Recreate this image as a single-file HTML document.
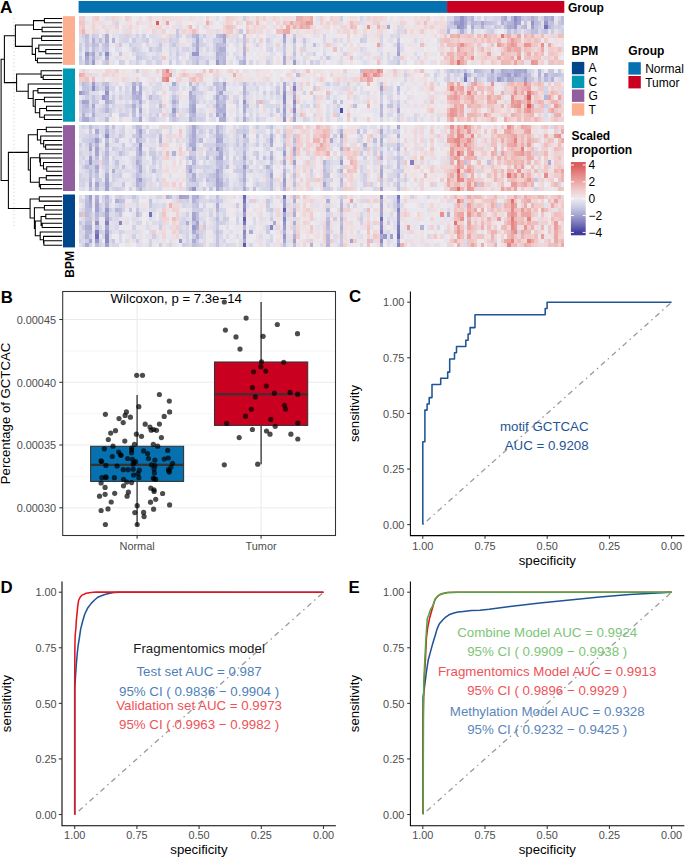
<!DOCTYPE html><html><head><meta charset="utf-8"><style>html,body{margin:0;padding:0;background:#fff;width:685px;height:858px;overflow:hidden}svg{display:block}text{font-family:"Liberation Sans", sans-serif}</style></head><body>
<svg width="685" height="858" viewBox="0 0 685 858">
<rect width="685" height="858" fill="#fff"/>
<text x="-0.10" y="12.60" font-size="17.20" text-anchor="start" fill="#000" font-weight="bold">A</text>
<rect x="78.60" y="1.0" width="368.46" height="11.85" fill="#0571b0"/>
<rect x="447.06" y="1.0" width="117.24" height="11.85" fill="#ca0020"/>
<text x="567.90" y="11.90" font-size="12.00" text-anchor="start" fill="#000" font-weight="bold">Group</text>
<rect x="63.0" y="16.20" width="12.0" height="48.70" fill="#fdaf91"/>
<rect x="63.0" y="68.50" width="12.0" height="53.20" fill="#0099b4"/>
<rect x="63.0" y="125.10" width="12.0" height="65.90" fill="#925e9f"/>
<rect x="63.0" y="194.50" width="12.0" height="52.90" fill="#00468b"/>
<g transform="translate(78.60,16.20) scale(3.3497,4.4273)" shape-rendering="crispEdges">
<path fill="#7472b8" d="M139 2h1v1h-1z"/>
<path fill="#8b8ac3" d="M130 0h1v1h-1zM8 8h1v1h-1z"/>
<path fill="#908fc5" d="M113 2h1v1h-1z"/>
<path fill="#9494c7" d="M114 0h1v1h-1zM114 1h1v1h-1zM130 1h1v1h-1zM135 1h1v1h-1zM139 1h1v1h-1zM2 8h1v1h-1z"/>
<path fill="#9998ca" d="M114 2h1v1h-1zM130 2h1v1h-1zM34 8h2v1h-2zM41 10h1v1h-1z"/>
<path fill="#9d9dcc" d="M4 10h1v1h-1zM64 10h1v1h-1z"/>
<path fill="#a2a2ce" d="M131 0h1v1h-1zM112 1h2v1h-2zM135 2h1v1h-1zM61 4h1v1h-1zM95 8h1v1h-1z"/>
<path fill="#a6a6d0" d="M127 0h1v1h-1zM141 0h1v1h-1zM120 1h1v1h-1zM131 1h1v1h-1zM92 2h1v1h-1zM43 4h1v1h-1zM43 5h1v1h-1zM35 7h1v1h-1zM4 8h1v1h-1zM2 9h1v1h-1z"/>
<path fill="#aaaad2" d="M139 0h1v1h-1zM115 1h1v1h-1zM117 2h1v1h-1zM128 2h1v1h-1zM35 5h1v1h-1zM61 5h1v1h-1zM8 9h1v1h-1zM61 9h1v1h-1z"/>
<path fill="#aeaed5" d="M115 0h1v1h-1zM135 0h1v1h-1zM129 2h1v1h-1zM114 3h1v1h-1zM8 4h1v1h-1zM8 5h1v1h-1zM35 6h1v1h-1zM42 7h2v1h-2zM95 7h1v1h-1zM41 8h1v1h-1zM49 10h1v1h-1zM61 10h1v1h-1z"/>
<path fill="#b2b2d7" d="M117 0h1v1h-1zM129 0h1v1h-1zM126 1h1v1h-1zM129 1h1v1h-1zM115 2h1v1h-1zM120 2h1v1h-1zM35 4h1v1h-1zM4 5h1v1h-1zM10 5h1v1h-1zM95 6h1v1h-1zM49 8h1v1h-1zM4 9h1v1h-1zM41 9h1v1h-1zM2 10h1v1h-1zM43 10h1v1h-1z"/>
<path fill="#b6b6d9" d="M112 0h2v1h-2zM126 0h1v1h-1zM140 0h1v1h-1zM117 1h1v1h-1zM128 1h1v1h-1zM133 2h1v1h-1zM140 2h1v1h-1zM110 3h1v1h-1zM42 4h1v1h-1zM64 5h1v1h-1zM49 7h1v1h-1zM42 8h1v1h-1zM43 9h1v1h-1z"/>
<path fill="#bbbbdb" d="M144 0h1v1h-1zM118 1h1v1h-1zM136 1h1v1h-1zM34 4h1v1h-1zM4 6h1v1h-1zM8 6h1v1h-1zM41 6h1v1h-1zM41 7h1v1h-1zM3 8h1v1h-1zM6 8h1v1h-1zM43 8h1v1h-1zM48 10h1v1h-1z"/>
<path fill="#bfbfdd" d="M136 0h1v1h-1zM121 1h1v1h-1zM141 1h1v1h-1zM144 1h1v1h-1zM127 2h1v1h-1zM132 2h1v1h-1zM135 3h2v1h-2zM2 4h1v1h-1zM41 4h1v1h-1zM49 4h1v1h-1zM6 5h1v1h-1zM42 6h2v1h-2zM49 6h1v1h-1zM70 6h1v1h-1zM4 7h1v1h-1zM42 9h1v1h-1zM49 9h1v1h-1zM35 10h1v1h-1zM42 10h1v1h-1z"/>
<path fill="#c3c3e0" d="M116 0h1v1h-1zM132 0h1v1h-1zM134 0h1v1h-1zM111 1h1v1h-1zM119 1h1v1h-1zM122 1h1v1h-1zM133 1h1v1h-1zM137 1h1v1h-1zM140 1h1v1h-1zM136 2h1v1h-1zM117 3h1v1h-1zM128 3h1v1h-1zM130 3h1v1h-1zM139 3h1v1h-1zM2 5h1v1h-1zM49 5h1v1h-1zM95 5h1v1h-1zM2 6h1v1h-1zM5 6h1v1h-1zM34 6h1v1h-1zM61 6h1v1h-1zM8 7h1v1h-1zM61 8h1v1h-1zM64 8h1v1h-1zM8 10h1v1h-1zM38 10h1v1h-1z"/>
<path fill="#c7c7e2" d="M123 1h1v1h-1zM127 1h1v1h-1zM143 1h1v1h-1zM110 2h1v1h-1zM112 2h1v1h-1zM124 2h1v1h-1zM141 2h1v1h-1zM29 3h1v1h-1zM48 3h1v1h-1zM29 4h1v1h-1zM64 4h1v1h-1zM67 5h1v1h-1zM7 6h1v1h-1zM24 6h1v1h-1zM28 6h1v1h-1zM2 7h1v1h-1zM21 7h1v1h-1zM61 7h1v1h-1zM12 8h1v1h-1zM0 9h1v1h-1zM17 9h1v1h-1zM35 9h1v1h-1zM74 9h1v1h-1zM95 10h1v1h-1z"/>
<path fill="#cbcbe4" d="M133 0h1v1h-1zM124 1h1v1h-1zM111 2h1v1h-1zM125 2h1v1h-1zM143 2h1v1h-1zM123 3h1v1h-1zM138 3h1v1h-1zM141 3h1v1h-1zM4 4h1v1h-1zM16 5h1v1h-1zM20 5h1v1h-1zM42 5h1v1h-1zM84 5h1v1h-1zM12 6h1v1h-1zM0 7h1v1h-1zM7 7h1v1h-1zM16 7h1v1h-1zM24 7h1v1h-1zM64 7h1v1h-1zM29 8h1v1h-1zM18 9h1v1h-1zM34 9h1v1h-1zM27 10h1v1h-1zM34 10h1v1h-1zM69 10h1v1h-1z"/>
<path fill="#cecee5" d="M49 0h1v1h-1zM78 0h1v1h-1zM116 1h1v1h-1zM119 2h1v1h-1zM137 2h1v1h-1zM134 3h1v1h-1zM144 3h1v1h-1zM1 4h1v1h-1zM19 4h1v1h-1zM37 4h1v1h-1zM27 5h1v1h-1zM40 5h1v1h-1zM56 5h1v1h-1zM0 6h1v1h-1zM15 6h1v1h-1zM64 6h1v1h-1zM23 7h1v1h-1zM17 8h1v1h-1zM64 9h1v1h-1zM0 10h1v1h-1zM3 10h1v1h-1zM12 10h1v1h-1zM17 10h1v1h-1zM23 10h1v1h-1zM56 10h1v1h-1z"/>
<path fill="#d2d1e6" d="M121 0h1v1h-1zM124 0h1v1h-1zM138 0h1v1h-1zM110 1h1v1h-1zM118 2h1v1h-1zM121 2h1v1h-1zM142 2h1v1h-1zM115 3h1v1h-1zM122 3h1v1h-1zM5 4h1v1h-1zM14 4h1v1h-1zM17 4h1v1h-1zM14 5h1v1h-1zM29 5h1v1h-1zM36 5h1v1h-1zM41 5h1v1h-1zM85 5h1v1h-1zM3 6h1v1h-1zM36 6h1v1h-1zM40 6h1v1h-1zM53 6h1v1h-1zM67 6h1v1h-1zM5 7h1v1h-1zM17 7h1v1h-1zM29 7h1v1h-1zM32 7h1v1h-1zM34 7h1v1h-1zM40 7h1v1h-1zM57 7h1v1h-1zM70 8h1v1h-1zM79 8h1v1h-1zM3 9h1v1h-1zM22 9h1v1h-1zM29 9h1v1h-1zM33 9h1v1h-1zM36 9h1v1h-1zM47 9h1v1h-1zM95 9h1v1h-1zM7 10h1v1h-1zM13 10h1v1h-1zM20 10h1v1h-1zM24 10h1v1h-1zM29 10h1v1h-1zM71 10h1v1h-1z"/>
<path fill="#d6d5e8" d="M84 0h1v1h-1zM125 0h1v1h-1zM143 0h1v1h-1zM11 1h1v1h-1zM122 2h1v1h-1zM131 2h1v1h-1zM95 3h1v1h-1zM113 3h1v1h-1zM131 3h1v1h-1zM133 3h1v1h-1zM7 4h1v1h-1zM32 4h2v1h-2zM73 4h1v1h-1zM90 4h1v1h-1zM95 4h1v1h-1zM5 5h1v1h-1zM13 5h1v1h-1zM19 5h1v1h-1zM28 5h1v1h-1zM34 5h1v1h-1zM47 5h1v1h-1zM90 5h1v1h-1zM27 6h1v1h-1zM37 6h1v1h-1zM90 6h1v1h-1zM31 7h1v1h-1zM38 7h1v1h-1zM67 7h1v1h-1zM18 8h1v1h-1zM27 8h1v1h-1zM5 9h1v1h-1zM19 9h1v1h-1zM23 9h1v1h-1zM94 9h1v1h-1zM21 10h1v1h-1zM32 10h1v1h-1zM51 10h1v1h-1zM93 10h2v1h-2z"/>
<path fill="#d9d8e9" d="M110 0h2v1h-2zM119 0h1v1h-1zM123 0h1v1h-1zM128 0h1v1h-1zM95 2h1v1h-1zM144 2h1v1h-1zM129 3h1v1h-1zM137 3h1v1h-1zM143 3h1v1h-1zM12 4h2v1h-2zM15 4h1v1h-1zM30 4h1v1h-1zM85 4h1v1h-1zM93 4h1v1h-1zM1 5h1v1h-1zM12 5h1v1h-1zM24 5h1v1h-1zM73 5h1v1h-1zM76 5h1v1h-1zM16 6h2v1h-2zM20 6h1v1h-1zM29 6h1v1h-1zM94 6h1v1h-1zM22 7h1v1h-1zM27 7h1v1h-1zM56 7h1v1h-1zM84 7h1v1h-1zM0 8h1v1h-1zM19 8h1v1h-1zM23 8h1v1h-1zM33 8h1v1h-1zM73 8h1v1h-1zM90 8h1v1h-1zM92 8h1v1h-1zM37 9h1v1h-1zM63 9h1v1h-1zM92 9h1v1h-1zM101 9h1v1h-1zM1 10h1v1h-1zM15 10h1v1h-1zM37 10h1v1h-1zM67 10h1v1h-1z"/>
<path fill="#dcdbea" d="M122 0h1v1h-1zM137 0h1v1h-1zM10 1h1v1h-1zM35 2h1v1h-1zM96 2h1v1h-1zM126 2h1v1h-1zM138 2h1v1h-1zM41 3h1v1h-1zM96 3h1v1h-1zM109 3h1v1h-1zM0 4h1v1h-1zM21 4h2v1h-2zM28 4h1v1h-1zM36 4h1v1h-1zM47 4h1v1h-1zM94 4h1v1h-1zM7 5h1v1h-1zM17 5h2v1h-2zM23 5h1v1h-1zM52 5h1v1h-1zM78 5h1v1h-1zM100 5h1v1h-1zM107 5h1v1h-1zM18 6h1v1h-1zM23 6h1v1h-1zM47 6h1v1h-1zM56 6h1v1h-1zM11 7h1v1h-1zM18 7h1v1h-1zM36 7h1v1h-1zM78 7h1v1h-1zM96 7h1v1h-1zM5 8h1v1h-1zM9 8h1v1h-1zM16 8h1v1h-1zM30 8h1v1h-1zM46 8h1v1h-1zM66 8h1v1h-1zM68 8h1v1h-1zM100 8h1v1h-1zM6 9h1v1h-1zM20 9h1v1h-1zM24 9h1v1h-1zM27 9h1v1h-1zM38 9h1v1h-1zM40 9h1v1h-1zM56 9h2v1h-2zM67 9h1v1h-1zM72 9h1v1h-1zM84 9h1v1h-1zM90 9h1v1h-1zM30 10h1v1h-1zM33 10h1v1h-1zM36 10h1v1h-1zM53 10h1v1h-1zM57 10h1v1h-1zM70 10h1v1h-1zM78 10h1v1h-1zM85 10h1v1h-1zM92 10h1v1h-1z"/>
<path fill="#e0deeb" d="M8 0h1v1h-1zM41 0h1v1h-1zM71 0h1v1h-1zM78 1h1v1h-1zM84 1h1v1h-1zM138 1h1v1h-1zM30 2h1v1h-1zM37 2h1v1h-1zM123 2h1v1h-1zM121 3h1v1h-1zM3 4h1v1h-1zM10 4h1v1h-1zM16 4h1v1h-1zM23 4h1v1h-1zM58 4h1v1h-1zM0 5h1v1h-1zM3 5h1v1h-1zM22 5h1v1h-1zM26 5h1v1h-1zM38 5h1v1h-1zM45 5h1v1h-1zM48 5h1v1h-1zM57 5h1v1h-1zM93 5h1v1h-1zM1 6h1v1h-1zM38 6h1v1h-1zM44 6h1v1h-1zM57 6h1v1h-1zM73 6h1v1h-1zM79 6h1v1h-1zM6 7h1v1h-1zM15 7h1v1h-1zM28 7h1v1h-1zM33 7h1v1h-1zM47 7h1v1h-1zM59 7h2v1h-2zM73 7h1v1h-1zM85 7h1v1h-1zM89 7h1v1h-1zM24 8h1v1h-1zM31 8h1v1h-1zM40 8h1v1h-1zM44 8h1v1h-1zM47 8h1v1h-1zM57 8h1v1h-1zM69 8h1v1h-1zM85 8h1v1h-1zM11 9h1v1h-1zM28 9h1v1h-1zM39 9h1v1h-1zM48 9h1v1h-1zM88 9h1v1h-1zM16 10h1v1h-1zM18 10h1v1h-1zM45 10h1v1h-1zM65 10h1v1h-1zM97 10h1v1h-1zM100 10h1v1h-1z"/>
<path fill="#e4e1ec" d="M85 0h1v1h-1zM118 0h1v1h-1zM2 1h1v1h-1zM57 1h1v1h-1zM85 1h1v1h-1zM92 1h1v1h-1zM125 1h1v1h-1zM142 1h1v1h-1zM8 2h1v1h-1zM14 2h1v1h-1zM29 2h1v1h-1zM11 3h1v1h-1zM13 3h1v1h-1zM40 3h1v1h-1zM119 3h1v1h-1zM124 3h1v1h-1zM127 3h1v1h-1zM132 3h1v1h-1zM140 3h1v1h-1zM142 3h1v1h-1zM11 4h1v1h-1zM18 4h1v1h-1zM24 4h1v1h-1zM38 4h2v1h-2zM45 4h1v1h-1zM53 4h1v1h-1zM56 4h2v1h-2zM65 4h1v1h-1zM70 4h2v1h-2zM32 5h2v1h-2zM39 5h1v1h-1zM46 5h1v1h-1zM60 5h1v1h-1zM63 5h1v1h-1zM66 5h1v1h-1zM68 5h1v1h-1zM92 5h1v1h-1zM6 6h1v1h-1zM21 6h2v1h-2zM25 6h1v1h-1zM30 6h1v1h-1zM33 6h1v1h-1zM46 6h1v1h-1zM52 6h1v1h-1zM71 6h1v1h-1zM76 6h1v1h-1zM96 6h1v1h-1zM103 6h1v1h-1zM118 6h1v1h-1zM120 6h1v1h-1zM144 6h1v1h-1zM3 7h1v1h-1zM12 7h1v1h-1zM30 7h1v1h-1zM39 7h1v1h-1zM90 7h1v1h-1zM107 7h1v1h-1zM7 8h1v1h-1zM20 8h1v1h-1zM22 8h1v1h-1zM28 8h1v1h-1zM36 8h3v1h-3zM58 8h1v1h-1zM84 8h1v1h-1zM21 9h1v1h-1zM31 9h1v1h-1zM75 9h1v1h-1zM83 9h1v1h-1zM5 10h1v1h-1zM10 10h1v1h-1zM22 10h1v1h-1zM47 10h1v1h-1zM73 10h1v1h-1zM77 10h1v1h-1zM86 10h1v1h-1zM90 10h1v1h-1zM105 10h1v1h-1zM133 10h2v1h-2z"/>
<path fill="#e7e5ee" d="M32 0h1v1h-1zM64 0h1v1h-1zM142 0h1v1h-1zM42 1h1v1h-1zM70 1h1v1h-1zM90 1h1v1h-1zM88 2h1v1h-1zM97 2h1v1h-1zM134 2h1v1h-1zM6 3h1v1h-1zM9 3h1v1h-1zM46 3h1v1h-1zM57 3h1v1h-1zM111 3h2v1h-2zM118 3h1v1h-1zM40 4h1v1h-1zM59 4h1v1h-1zM63 4h1v1h-1zM87 4h1v1h-1zM91 4h1v1h-1zM97 4h2v1h-2zM11 5h1v1h-1zM15 5h1v1h-1zM37 5h1v1h-1zM44 5h1v1h-1zM51 5h1v1h-1zM59 5h1v1h-1zM62 5h1v1h-1zM101 5h1v1h-1zM104 5h1v1h-1zM140 5h1v1h-1zM9 6h2v1h-2zM13 6h2v1h-2zM26 6h1v1h-1zM39 6h1v1h-1zM58 6h1v1h-1zM60 6h1v1h-1zM100 6h1v1h-1zM1 7h1v1h-1zM19 7h1v1h-1zM26 7h1v1h-1zM52 7h1v1h-1zM69 7h1v1h-1zM71 7h1v1h-1zM74 7h1v1h-1zM101 7h2v1h-2zM14 8h1v1h-1zM21 8h1v1h-1zM39 8h1v1h-1zM48 8h1v1h-1zM51 8h1v1h-1zM53 8h1v1h-1zM56 8h1v1h-1zM78 8h1v1h-1zM83 8h1v1h-1zM87 8h1v1h-1zM89 8h1v1h-1zM93 8h2v1h-2zM96 8h1v1h-1zM104 8h1v1h-1zM106 8h1v1h-1zM1 9h1v1h-1zM9 9h2v1h-2zM26 9h1v1h-1zM46 9h1v1h-1zM73 9h1v1h-1zM82 9h1v1h-1zM87 9h1v1h-1zM40 10h1v1h-1zM60 10h1v1h-1zM63 10h1v1h-1zM66 10h1v1h-1zM84 10h1v1h-1zM96 10h1v1h-1zM103 10h1v1h-1z"/>
<path fill="#eae8ef" d="M3 0h1v1h-1zM17 0h1v1h-1zM35 0h1v1h-1zM97 0h1v1h-1zM8 1h1v1h-1zM13 1h1v1h-1zM37 1h1v1h-1zM132 1h1v1h-1zM19 2h1v1h-1zM25 2h1v1h-1zM48 2h1v1h-1zM71 2h1v1h-1zM77 2h1v1h-1zM84 2h1v1h-1zM116 2h1v1h-1zM104 3h1v1h-1zM116 3h1v1h-1zM120 3h1v1h-1zM60 4h1v1h-1zM69 4h1v1h-1zM74 4h3v1h-3zM83 4h1v1h-1zM102 4h1v1h-1zM21 5h1v1h-1zM53 5h1v1h-1zM58 5h1v1h-1zM69 5h2v1h-2zM72 5h1v1h-1zM75 5h1v1h-1zM79 5h1v1h-1zM82 5h1v1h-1zM97 5h1v1h-1zM138 5h1v1h-1zM141 5h1v1h-1zM32 6h1v1h-1zM62 6h1v1h-1zM66 6h1v1h-1zM68 6h2v1h-2zM85 6h1v1h-1zM87 6h1v1h-1zM93 6h1v1h-1zM105 6h2v1h-2zM124 6h1v1h-1zM9 7h1v1h-1zM20 7h1v1h-1zM44 7h1v1h-1zM51 7h1v1h-1zM53 7h1v1h-1zM65 7h1v1h-1zM70 7h1v1h-1zM75 7h1v1h-1zM77 7h1v1h-1zM86 7h2v1h-2zM94 7h1v1h-1zM112 7h1v1h-1zM124 7h1v1h-1zM1 8h1v1h-1zM10 8h2v1h-2zM54 8h1v1h-1zM74 8h2v1h-2zM101 8h1v1h-1zM125 8h1v1h-1zM132 8h1v1h-1zM7 9h1v1h-1zM13 9h1v1h-1zM15 9h2v1h-2zM45 9h1v1h-1zM52 9h1v1h-1zM66 9h1v1h-1zM71 9h1v1h-1zM76 9h2v1h-2zM79 9h1v1h-1zM85 9h1v1h-1zM91 9h1v1h-1zM106 9h1v1h-1zM19 10h1v1h-1zM28 10h1v1h-1zM39 10h1v1h-1zM55 10h1v1h-1zM76 10h1v1h-1zM88 10h1v1h-1zM104 10h1v1h-1zM139 10h1v1h-1z"/>
<path fill="#eeebf0" d="M13 0h1v1h-1zM16 0h1v1h-1zM19 0h1v1h-1zM37 0h1v1h-1zM42 0h1v1h-1zM74 0h1v1h-1zM92 0h1v1h-1zM94 0h1v1h-1zM105 0h1v1h-1zM109 0h1v1h-1zM120 0h1v1h-1zM33 1h1v1h-1zM41 1h1v1h-1zM46 1h1v1h-1zM49 1h1v1h-1zM12 2h1v1h-1zM18 2h1v1h-1zM75 2h1v1h-1zM83 2h1v1h-1zM18 3h1v1h-1zM26 3h1v1h-1zM49 3h1v1h-1zM58 3h1v1h-1zM75 3h1v1h-1zM93 3h1v1h-1zM125 3h2v1h-2zM6 4h1v1h-1zM9 4h1v1h-1zM20 4h1v1h-1zM48 4h1v1h-1zM52 4h1v1h-1zM55 4h1v1h-1zM68 4h1v1h-1zM79 4h1v1h-1zM81 4h1v1h-1zM96 5h1v1h-1zM106 5h1v1h-1zM45 6h1v1h-1zM55 6h1v1h-1zM65 6h1v1h-1zM78 6h1v1h-1zM82 6h1v1h-1zM86 6h1v1h-1zM92 6h1v1h-1zM10 7h1v1h-1zM13 7h1v1h-1zM46 7h1v1h-1zM55 7h1v1h-1zM58 7h1v1h-1zM72 7h1v1h-1zM98 7h1v1h-1zM103 7h1v1h-1zM106 7h1v1h-1zM15 8h1v1h-1zM45 8h1v1h-1zM52 8h1v1h-1zM59 8h1v1h-1zM71 8h2v1h-2zM76 8h1v1h-1zM82 8h1v1h-1zM107 8h1v1h-1zM139 8h1v1h-1zM30 9h1v1h-1zM58 9h1v1h-1zM69 9h1v1h-1zM98 9h1v1h-1zM132 9h1v1h-1zM144 9h1v1h-1zM11 10h1v1h-1zM14 10h1v1h-1zM46 10h1v1h-1zM74 10h1v1h-1zM82 10h1v1h-1zM98 10h2v1h-2zM107 10h1v1h-1z"/>
<path fill="#eee8ec" d="M2 0h1v1h-1zM70 0h1v1h-1zM79 0h1v1h-1zM16 1h1v1h-1zM22 1h1v1h-1zM27 1h2v1h-2zM31 1h2v1h-2zM34 1h1v1h-1zM40 1h1v1h-1zM55 1h1v1h-1zM58 1h1v1h-1zM79 1h1v1h-1zM98 1h2v1h-2zM27 2h1v1h-1zM34 2h1v1h-1zM36 2h1v1h-1zM40 2h3v1h-3zM47 2h1v1h-1zM49 2h1v1h-1zM93 2h1v1h-1zM7 3h1v1h-1zM12 3h1v1h-1zM16 3h1v1h-1zM21 3h1v1h-1zM36 3h2v1h-2zM55 3h1v1h-1zM92 3h1v1h-1zM106 3h1v1h-1zM54 4h1v1h-1zM72 4h1v1h-1zM77 4h2v1h-2zM104 4h1v1h-1zM107 4h1v1h-1zM132 4h1v1h-1zM9 5h1v1h-1zM31 5h1v1h-1zM55 5h1v1h-1zM71 5h1v1h-1zM81 5h1v1h-1zM83 5h1v1h-1zM86 5h1v1h-1zM91 5h1v1h-1zM94 5h1v1h-1zM98 5h1v1h-1zM103 5h1v1h-1zM105 5h1v1h-1zM19 6h1v1h-1zM51 6h1v1h-1zM72 6h1v1h-1zM77 6h1v1h-1zM80 6h1v1h-1zM84 6h1v1h-1zM88 6h1v1h-1zM97 6h1v1h-1zM101 6h1v1h-1zM104 6h1v1h-1zM121 6h1v1h-1zM143 6h1v1h-1zM14 7h1v1h-1zM45 7h1v1h-1zM63 7h1v1h-1zM79 7h1v1h-1zM88 7h1v1h-1zM91 7h2v1h-2zM97 7h1v1h-1zM99 7h1v1h-1zM105 7h1v1h-1zM26 8h1v1h-1zM32 8h1v1h-1zM50 8h1v1h-1zM62 8h1v1h-1zM65 8h1v1h-1zM67 8h1v1h-1zM98 8h2v1h-2zM102 8h1v1h-1zM118 8h1v1h-1zM32 9h1v1h-1zM44 9h1v1h-1zM50 9h2v1h-2zM53 9h1v1h-1zM60 9h1v1h-1zM70 9h1v1h-1zM105 9h1v1h-1zM107 9h2v1h-2zM6 10h1v1h-1zM26 10h1v1h-1zM50 10h1v1h-1zM52 10h1v1h-1zM58 10h1v1h-1zM68 10h1v1h-1zM80 10h1v1h-1zM83 10h1v1h-1zM91 10h1v1h-1zM116 10h1v1h-1z"/>
<path fill="#eee5e9" d="M6 0h2v1h-2zM39 0h2v1h-2zM60 0h1v1h-1zM80 0h1v1h-1zM83 0h1v1h-1zM95 0h1v1h-1zM98 0h2v1h-2zM106 0h2v1h-2zM3 1h1v1h-1zM9 1h1v1h-1zM12 1h1v1h-1zM24 1h1v1h-1zM93 1h2v1h-2zM2 2h1v1h-1zM6 2h1v1h-1zM20 2h1v1h-1zM31 2h1v1h-1zM39 2h1v1h-1zM56 2h2v1h-2zM61 2h1v1h-1zM72 2h1v1h-1zM94 2h1v1h-1zM99 2h1v1h-1zM3 3h1v1h-1zM27 3h2v1h-2zM64 3h1v1h-1zM66 3h1v1h-1zM73 3h1v1h-1zM76 3h1v1h-1zM81 3h1v1h-1zM84 3h1v1h-1zM86 3h1v1h-1zM98 3h1v1h-1zM100 3h1v1h-1zM25 4h1v1h-1zM31 4h1v1h-1zM51 4h1v1h-1zM67 4h1v1h-1zM92 4h1v1h-1zM101 4h1v1h-1zM105 4h1v1h-1zM110 4h1v1h-1zM30 5h1v1h-1zM65 5h1v1h-1zM74 5h1v1h-1zM87 5h2v1h-2zM99 5h1v1h-1zM48 6h1v1h-1zM50 6h1v1h-1zM91 6h1v1h-1zM139 6h1v1h-1zM25 7h1v1h-1zM37 7h1v1h-1zM62 7h1v1h-1zM93 7h1v1h-1zM100 7h1v1h-1zM104 7h1v1h-1zM118 7h1v1h-1zM139 7h1v1h-1zM25 8h1v1h-1zM55 8h1v1h-1zM60 8h1v1h-1zM77 8h1v1h-1zM88 8h1v1h-1zM91 8h1v1h-1zM144 8h1v1h-1zM65 9h1v1h-1zM93 9h1v1h-1zM100 9h1v1h-1zM102 9h1v1h-1zM104 9h1v1h-1zM143 9h1v1h-1zM25 10h1v1h-1zM31 10h1v1h-1zM72 10h1v1h-1zM75 10h1v1h-1zM79 10h1v1h-1zM87 10h1v1h-1z"/>
<path fill="#efe2e5" d="M12 0h1v1h-1zM22 0h3v1h-3zM31 0h1v1h-1zM34 0h1v1h-1zM36 0h1v1h-1zM43 0h1v1h-1zM48 0h1v1h-1zM51 0h2v1h-2zM56 0h1v1h-1zM73 0h1v1h-1zM93 0h1v1h-1zM101 0h1v1h-1zM14 1h1v1h-1zM19 1h2v1h-2zM35 1h2v1h-2zM52 1h1v1h-1zM54 1h1v1h-1zM60 1h1v1h-1zM71 1h1v1h-1zM73 1h1v1h-1zM86 1h1v1h-1zM95 1h1v1h-1zM105 1h1v1h-1zM134 1h1v1h-1zM3 2h1v1h-1zM5 2h1v1h-1zM16 2h1v1h-1zM51 2h1v1h-1zM59 2h1v1h-1zM80 2h1v1h-1zM98 2h1v1h-1zM101 2h2v1h-2zM107 2h1v1h-1zM10 3h1v1h-1zM19 3h2v1h-2zM67 3h1v1h-1zM69 3h1v1h-1zM72 3h1v1h-1zM74 3h1v1h-1zM83 3h1v1h-1zM87 3h2v1h-2zM91 3h1v1h-1zM105 3h1v1h-1zM50 4h1v1h-1zM62 4h1v1h-1zM82 4h1v1h-1zM84 4h1v1h-1zM86 4h1v1h-1zM96 4h1v1h-1zM99 4h2v1h-2zM103 4h1v1h-1zM143 5h2v1h-2zM63 6h1v1h-1zM98 6h2v1h-2zM107 6h1v1h-1zM142 6h1v1h-1zM48 7h1v1h-1zM54 7h1v1h-1zM68 7h1v1h-1zM80 7h2v1h-2zM83 7h1v1h-1zM110 7h1v1h-1zM13 8h1v1h-1zM63 8h1v1h-1zM97 8h1v1h-1zM105 8h1v1h-1zM124 8h1v1h-1zM54 9h2v1h-2zM59 9h1v1h-1zM97 9h1v1h-1zM99 9h1v1h-1zM130 9h1v1h-1zM44 10h1v1h-1zM54 10h1v1h-1zM119 10h1v1h-1zM122 10h1v1h-1z"/>
<path fill="#efdfe2" d="M20 0h1v1h-1zM28 0h3v1h-3zM47 0h1v1h-1zM57 0h1v1h-1zM62 0h2v1h-2zM82 0h1v1h-1zM96 0h1v1h-1zM108 0h1v1h-1zM5 1h1v1h-1zM7 1h1v1h-1zM15 1h1v1h-1zM18 1h1v1h-1zM29 1h1v1h-1zM56 1h1v1h-1zM75 1h1v1h-1zM87 1h1v1h-1zM91 1h1v1h-1zM102 1h1v1h-1zM104 1h1v1h-1zM109 1h1v1h-1zM10 2h1v1h-1zM17 2h1v1h-1zM22 2h1v1h-1zM26 2h1v1h-1zM28 2h1v1h-1zM70 2h1v1h-1zM76 2h1v1h-1zM85 2h1v1h-1zM87 2h1v1h-1zM100 2h1v1h-1zM106 2h1v1h-1zM2 3h1v1h-1zM17 3h1v1h-1zM23 3h1v1h-1zM42 3h1v1h-1zM68 3h1v1h-1zM78 3h1v1h-1zM94 3h1v1h-1zM101 3h1v1h-1zM103 3h1v1h-1zM66 4h1v1h-1zM88 4h1v1h-1zM108 4h1v1h-1zM118 4h1v1h-1zM139 4h1v1h-1zM77 5h1v1h-1zM89 5h1v1h-1zM102 5h1v1h-1zM132 5h1v1h-1zM142 5h1v1h-1zM31 6h1v1h-1zM54 6h1v1h-1zM83 6h1v1h-1zM109 6h1v1h-1zM82 7h1v1h-1zM109 7h1v1h-1zM123 7h1v1h-1zM125 7h1v1h-1zM81 8h1v1h-1zM123 8h1v1h-1zM12 9h1v1h-1zM14 9h1v1h-1zM80 9h1v1h-1zM86 9h1v1h-1zM118 9h1v1h-1zM9 10h1v1h-1zM59 10h1v1h-1zM62 10h1v1h-1zM81 10h1v1h-1zM101 10h1v1h-1zM118 10h1v1h-1z"/>
<path fill="#efdcde" d="M9 0h1v1h-1zM15 0h1v1h-1zM18 0h1v1h-1zM26 0h2v1h-2zM33 0h1v1h-1zM54 0h1v1h-1zM59 0h1v1h-1zM61 0h1v1h-1zM81 0h1v1h-1zM87 0h1v1h-1zM91 0h1v1h-1zM100 0h1v1h-1zM102 0h2v1h-2zM6 1h1v1h-1zM21 1h1v1h-1zM25 1h1v1h-1zM30 1h1v1h-1zM43 1h1v1h-1zM48 1h1v1h-1zM80 1h1v1h-1zM100 1h1v1h-1zM107 1h2v1h-2zM9 2h1v1h-1zM13 2h1v1h-1zM21 2h1v1h-1zM32 2h1v1h-1zM54 2h1v1h-1zM58 2h1v1h-1zM73 2h1v1h-1zM104 2h1v1h-1zM108 2h1v1h-1zM24 3h1v1h-1zM30 3h1v1h-1zM32 3h1v1h-1zM38 3h2v1h-2zM53 3h1v1h-1zM56 3h1v1h-1zM63 3h1v1h-1zM65 3h1v1h-1zM71 3h1v1h-1zM107 3h1v1h-1zM26 4h1v1h-1zM106 4h1v1h-1zM125 4h1v1h-1zM126 5h2v1h-2zM81 6h1v1h-1zM121 7h1v1h-1zM109 8h1v1h-1zM119 8h1v1h-1zM135 8h1v1h-1zM143 8h1v1h-1zM62 9h1v1h-1zM68 9h1v1h-1zM103 9h1v1h-1zM138 9h1v1h-1zM106 10h1v1h-1zM121 10h1v1h-1zM125 10h1v1h-1z"/>
<path fill="#efd8da" d="M11 0h1v1h-1zM25 0h1v1h-1zM46 0h1v1h-1zM76 0h2v1h-2zM89 0h1v1h-1zM39 1h1v1h-1zM77 1h1v1h-1zM97 1h1v1h-1zM24 2h1v1h-1zM38 2h1v1h-1zM53 2h1v1h-1zM55 2h1v1h-1zM74 2h1v1h-1zM90 2h1v1h-1zM109 2h1v1h-1zM5 3h1v1h-1zM14 3h2v1h-2zM51 3h1v1h-1zM54 3h1v1h-1zM77 3h1v1h-1zM85 3h1v1h-1zM89 3h2v1h-2zM99 3h1v1h-1zM46 4h1v1h-1zM89 4h1v1h-1zM140 4h1v1h-1zM75 6h1v1h-1zM122 6h1v1h-1zM137 6h1v1h-1zM108 7h1v1h-1zM136 7h1v1h-1zM80 8h1v1h-1zM86 8h1v1h-1zM103 8h1v1h-1zM119 9h1v1h-1zM123 9h2v1h-2zM141 9h1v1h-1zM108 10h1v1h-1zM117 10h1v1h-1zM137 10h1v1h-1z"/>
<path fill="#efd5d7" d="M4 0h1v1h-1zM21 0h1v1h-1zM50 0h1v1h-1zM90 0h1v1h-1zM4 1h1v1h-1zM17 1h1v1h-1zM45 1h1v1h-1zM59 1h1v1h-1zM106 1h1v1h-1zM7 2h1v1h-1zM23 2h1v1h-1zM52 2h1v1h-1zM60 2h1v1h-1zM78 2h2v1h-2zM91 2h1v1h-1zM103 2h1v1h-1zM4 3h1v1h-1zM8 3h1v1h-1zM22 3h1v1h-1zM25 3h1v1h-1zM33 3h1v1h-1zM35 3h1v1h-1zM43 3h1v1h-1zM47 3h1v1h-1zM52 3h1v1h-1zM70 3h1v1h-1zM79 3h2v1h-2zM136 4h2v1h-2zM141 4h2v1h-2zM25 5h1v1h-1zM80 5h1v1h-1zM114 5h1v1h-1zM119 5h1v1h-1zM11 6h1v1h-1zM141 6h1v1h-1zM50 7h1v1h-1zM132 7h1v1h-1zM144 7h1v1h-1zM120 8h1v1h-1zM78 9h1v1h-1zM89 9h1v1h-1zM139 9h1v1h-1zM102 10h1v1h-1zM109 10h1v1h-1z"/>
<path fill="#f0d2d3" d="M10 0h1v1h-1zM38 0h1v1h-1zM45 0h1v1h-1zM58 0h1v1h-1zM86 0h1v1h-1zM88 0h1v1h-1zM104 0h1v1h-1zM44 1h1v1h-1zM47 1h1v1h-1zM72 1h1v1h-1zM74 1h1v1h-1zM76 1h1v1h-1zM82 1h2v1h-2zM88 1h1v1h-1zM96 1h1v1h-1zM101 1h1v1h-1zM0 2h1v1h-1zM4 2h1v1h-1zM15 2h1v1h-1zM43 2h1v1h-1zM63 2h1v1h-1zM69 2h1v1h-1zM31 3h1v1h-1zM82 3h1v1h-1zM108 3h1v1h-1zM120 4h1v1h-1zM129 4h1v1h-1zM112 5h1v1h-1zM115 5h1v1h-1zM121 5h1v1h-1zM59 6h1v1h-1zM142 7h1v1h-1zM121 8h1v1h-1zM112 9h1v1h-1zM122 9h1v1h-1zM124 10h1v1h-1z"/>
<path fill="#f0cfd0" d="M0 0h2v1h-2zM14 0h1v1h-1zM55 0h1v1h-1zM72 0h1v1h-1zM75 0h1v1h-1zM11 2h1v1h-1zM46 2h1v1h-1zM50 2h1v1h-1zM105 2h1v1h-1zM27 4h1v1h-1zM80 4h1v1h-1zM130 4h1v1h-1zM50 5h1v1h-1zM54 5h1v1h-1zM116 5h2v1h-2zM123 5h1v1h-1zM135 5h1v1h-1zM131 6h2v1h-2zM66 7h1v1h-1zM119 7h1v1h-1zM122 7h1v1h-1zM126 7h1v1h-1zM135 7h1v1h-1zM112 8h1v1h-1zM115 9h1v1h-1zM120 9h1v1h-1zM140 9h1v1h-1zM129 10h1v1h-1zM138 10h1v1h-1z"/>
<path fill="#f0cccc" d="M5 0h1v1h-1zM44 0h1v1h-1zM53 0h1v1h-1zM51 1h1v1h-1zM62 1h1v1h-1zM89 1h1v1h-1zM0 3h1v1h-1zM44 3h1v1h-1zM102 3h1v1h-1zM44 4h1v1h-1zM114 4h1v1h-1zM123 4h1v1h-1zM111 5h1v1h-1zM124 5h1v1h-1zM133 5h1v1h-1zM139 5h1v1h-1zM108 6h1v1h-1zM117 6h1v1h-1zM111 7h1v1h-1zM116 7h1v1h-1zM137 7h1v1h-1zM140 7h2v1h-2zM108 8h1v1h-1zM129 8h2v1h-2zM137 8h1v1h-1zM142 8h1v1h-1zM96 9h1v1h-1zM110 9h1v1h-1zM126 9h1v1h-1zM135 9h1v1h-1zM110 10h1v1h-1zM120 10h1v1h-1zM142 10h1v1h-1z"/>
<path fill="#f0c8c8" d="M1 1h1v1h-1zM1 2h1v1h-1zM45 3h1v1h-1zM97 3h1v1h-1zM109 4h1v1h-1zM115 4h1v1h-1zM117 4h1v1h-1zM134 4h1v1h-1zM108 5h1v1h-1zM113 5h1v1h-1zM118 5h1v1h-1zM137 5h1v1h-1zM74 6h1v1h-1zM112 6h1v1h-1zM127 6h1v1h-1zM136 6h1v1h-1zM115 7h1v1h-1zM116 8h1v1h-1zM133 8h1v1h-1zM140 8h1v1h-1zM25 9h1v1h-1zM121 9h1v1h-1zM123 10h1v1h-1zM131 10h1v1h-1zM144 10h1v1h-1z"/>
<path fill="#efc5c4" d="M0 1h1v1h-1zM50 1h1v1h-1zM61 1h1v1h-1zM64 1h1v1h-1zM45 2h1v1h-1zM65 2h1v1h-1zM82 2h1v1h-1zM50 3h1v1h-1zM124 4h1v1h-1zM120 5h1v1h-1zM134 5h1v1h-1zM116 6h1v1h-1zM119 6h1v1h-1zM135 6h1v1h-1zM134 7h1v1h-1zM117 8h1v1h-1zM128 8h1v1h-1zM141 8h1v1h-1zM109 9h1v1h-1zM116 9h1v1h-1zM133 9h1v1h-1zM136 9h2v1h-2zM112 10h1v1h-1zM140 10h1v1h-1zM143 10h1v1h-1z"/>
<path fill="#eec1c0" d="M103 1h1v1h-1zM44 2h1v1h-1zM59 3h2v1h-2zM116 4h1v1h-1zM122 4h1v1h-1zM127 4h1v1h-1zM144 4h1v1h-1zM109 5h2v1h-2zM131 5h1v1h-1zM136 5h1v1h-1zM111 6h1v1h-1zM123 6h1v1h-1zM76 7h1v1h-1zM114 7h1v1h-1zM143 7h1v1h-1zM127 8h1v1h-1zM81 9h1v1h-1zM127 9h2v1h-2zM134 9h1v1h-1zM142 9h1v1h-1zM89 10h1v1h-1zM132 10h1v1h-1zM141 10h1v1h-1z"/>
<path fill="#eebdbc" d="M67 0h2v1h-2zM53 1h1v1h-1zM65 1h1v1h-1zM81 1h1v1h-1zM34 3h1v1h-1zM119 4h1v1h-1zM138 4h1v1h-1zM143 4h1v1h-1zM122 5h1v1h-1zM128 5h1v1h-1zM102 6h1v1h-1zM110 6h1v1h-1zM117 7h1v1h-1zM127 7h1v1h-1zM133 7h1v1h-1zM136 8h1v1h-1zM138 8h1v1h-1zM113 9h1v1h-1zM115 10h1v1h-1z"/>
<path fill="#eebab8" d="M33 2h1v1h-1zM81 2h1v1h-1zM112 4h1v1h-1zM125 5h1v1h-1zM120 7h1v1h-1zM129 7h1v1h-1zM114 8h1v1h-1zM127 10h2v1h-2z"/>
<path fill="#edb6b5" d="M67 2h1v1h-1zM89 2h1v1h-1zM1 3h1v1h-1zM133 4h1v1h-1zM130 5h1v1h-1zM115 6h1v1h-1zM126 6h1v1h-1zM110 8h2v1h-2zM113 8h1v1h-1zM126 8h1v1h-1zM126 10h1v1h-1z"/>
<path fill="#ecb2b1" d="M66 1h2v1h-2zM64 2h1v1h-1zM111 4h1v1h-1zM135 4h1v1h-1zM113 6h1v1h-1zM111 9h1v1h-1zM125 9h1v1h-1z"/>
<path fill="#ecaead" d="M65 0h2v1h-2zM38 1h1v1h-1zM68 2h1v1h-1zM128 4h1v1h-1zM134 8h1v1h-1zM129 9h1v1h-1z"/>
<path fill="#ecaba9" d="M69 0h1v1h-1zM63 1h1v1h-1zM62 2h1v1h-1zM61 3h1v1h-1zM113 4h1v1h-1zM128 6h1v1h-1zM130 7h2v1h-2zM138 7h1v1h-1zM115 8h1v1h-1zM131 8h1v1h-1zM111 10h1v1h-1z"/>
<path fill="#eba7a5" d="M66 2h1v1h-1zM62 3h1v1h-1zM121 4h1v1h-1zM131 4h1v1h-1zM140 6h1v1h-1zM122 8h1v1h-1zM114 9h1v1h-1zM114 10h1v1h-1z"/>
<path fill="#eaa3a1" d="M69 1h1v1h-1zM89 6h1v1h-1zM130 6h1v1h-1zM113 7h1v1h-1zM128 7h1v1h-1zM130 10h1v1h-1z"/>
<path fill="#eaa09e" d="M26 1h1v1h-1z"/>
<path fill="#e99c9a" d="M129 5h1v1h-1zM125 6h1v1h-1zM136 10h1v1h-1z"/>
<path fill="#e89896" d="M68 1h1v1h-1zM129 6h1v1h-1zM134 6h1v1h-1z"/>
<path fill="#e89492" d="M133 6h1v1h-1zM117 9h1v1h-1zM131 9h1v1h-1zM135 10h1v1h-1z"/>
<path fill="#e7918f" d="M86 2h1v1h-1zM114 6h1v1h-1z"/>
<path fill="#e68d8b" d="M138 6h1v1h-1z"/>
<path fill="#e27a79" d="M126 4h1v1h-1z"/>
<path fill="#e07372" d="M113 10h1v1h-1z"/>
<path fill="#da5c5c" d="M23 1h1v1h-1z"/>
</g>
<g transform="translate(78.60,68.50) scale(3.3497,4.4333)" shape-rendering="crispEdges">
<path fill="#504ca4" d="M78 9h1v1h-1z"/>
<path fill="#7977ba" d="M115 2h1v1h-1z"/>
<path fill="#8280bf" d="M64 4h1v1h-1z"/>
<path fill="#8b8ac3" d="M115 1h1v1h-1zM61 6h1v1h-1zM64 7h1v1h-1zM64 9h1v1h-1z"/>
<path fill="#908fc5" d="M4 4h1v1h-1zM61 7h1v1h-1z"/>
<path fill="#9494c7" d="M8 5h1v1h-1zM61 5h1v1h-1zM49 7h1v1h-1zM61 11h1v1h-1z"/>
<path fill="#9998ca" d="M0 5h1v1h-1zM7 6h1v1h-1z"/>
<path fill="#9d9dcc" d="M128 1h1v1h-1zM130 1h1v1h-1zM125 2h1v1h-1zM133 2h1v1h-1zM4 3h1v1h-1zM28 9h1v1h-1zM61 9h1v1h-1zM43 10h1v1h-1z"/>
<path fill="#a2a2ce" d="M123 0h1v1h-1zM133 0h1v1h-1zM43 3h1v1h-1zM90 4h1v1h-1zM1 7h1v1h-1zM64 8h1v1h-1zM34 9h1v1h-1zM41 10h1v1h-1z"/>
<path fill="#a6a6d0" d="M130 0h2v1h-2zM16 4h1v1h-1zM61 4h1v1h-1zM18 5h1v1h-1zM42 5h1v1h-1zM8 6h1v1h-1zM41 6h1v1h-1zM64 6h1v1h-1zM2 7h1v1h-1zM4 8h1v1h-1zM34 8h1v1h-1zM41 8h1v1h-1zM18 9h1v1h-1zM61 10h1v1h-1zM18 11h1v1h-1zM64 11h1v1h-1z"/>
<path fill="#aaaad2" d="M126 0h1v1h-1zM132 0h1v1h-1zM127 1h1v1h-1zM131 1h1v1h-1zM128 2h1v1h-1zM28 3h1v1h-1zM61 3h1v1h-1zM8 4h1v1h-1zM18 4h1v1h-1zM16 5h1v1h-1zM33 5h1v1h-1zM8 7h1v1h-1zM18 7h1v1h-1zM61 8h1v1h-1zM49 9h1v1h-1zM95 9h1v1h-1zM2 11h1v1h-1zM43 11h1v1h-1zM49 11h1v1h-1z"/>
<path fill="#aeaed5" d="M126 1h1v1h-1zM139 1h1v1h-1zM129 2h1v1h-1zM64 3h1v1h-1zM43 4h1v1h-1zM1 5h1v1h-1zM17 6h1v1h-1zM33 6h1v1h-1zM28 7h1v1h-1zM16 8h1v1h-1zM43 8h1v1h-1zM49 8h1v1h-1zM42 9h1v1h-1zM4 10h1v1h-1zM1 11h1v1h-1zM42 11h1v1h-1z"/>
<path fill="#b2b2d7" d="M127 0h1v1h-1zM133 1h1v1h-1zM137 1h1v1h-1zM126 2h1v1h-1zM141 2h1v1h-1zM16 3h1v1h-1zM49 4h1v1h-1zM49 5h1v1h-1zM18 6h1v1h-1zM34 7h1v1h-1zM41 7h1v1h-1zM33 8h1v1h-1zM33 9h1v1h-1zM41 9h1v1h-1zM43 9h1v1h-1zM1 10h1v1h-1zM64 10h1v1h-1zM33 11h1v1h-1z"/>
<path fill="#b6b6d9" d="M118 0h1v1h-1zM128 0h2v1h-2zM137 0h1v1h-1zM118 2h1v1h-1zM18 3h1v1h-1zM34 4h1v1h-1zM64 5h1v1h-1zM16 6h1v1h-1zM34 6h1v1h-1zM43 6h1v1h-1zM139 6h1v1h-1zM2 8h1v1h-1zM90 8h1v1h-1zM8 9h1v1h-1zM28 10h1v1h-1zM34 10h1v1h-1zM90 10h1v1h-1z"/>
<path fill="#bbbbdb" d="M65 1h1v1h-1zM116 1h1v1h-1zM123 1h1v1h-1zM123 2h1v1h-1zM139 2h1v1h-1zM1 3h1v1h-1zM33 3h1v1h-1zM95 4h1v1h-1zM21 6h1v1h-1zM33 7h1v1h-1zM24 8h1v1h-1zM4 9h1v1h-1zM16 9h1v1h-1zM90 9h1v1h-1z"/>
<path fill="#bfbfdd" d="M84 0h1v1h-1zM115 0h1v1h-1zM119 0h1v1h-1zM125 1h1v1h-1zM129 1h1v1h-1zM132 1h1v1h-1zM134 1h1v1h-1zM142 1h1v1h-1zM122 2h1v1h-1zM132 2h1v1h-1zM137 2h1v1h-1zM8 3h1v1h-1zM41 3h1v1h-1zM49 3h1v1h-1zM90 3h1v1h-1zM41 4h1v1h-1zM2 5h1v1h-1zM17 5h1v1h-1zM49 6h1v1h-1zM9 7h1v1h-1zM42 7h2v1h-2zM78 7h1v1h-1zM1 8h1v1h-1zM8 8h1v1h-1zM18 8h1v1h-1zM42 8h1v1h-1zM82 8h1v1h-1zM1 9h1v1h-1zM16 10h1v1h-1zM18 10h1v1h-1zM33 10h1v1h-1zM42 10h1v1h-1zM49 10h1v1h-1zM8 11h1v1h-1zM34 11h1v1h-1z"/>
<path fill="#c3c3e0" d="M111 0h1v1h-1zM113 0h1v1h-1zM141 1h1v1h-1zM143 1h1v1h-1zM130 2h2v1h-2zM134 2h1v1h-1zM7 3h1v1h-1zM40 3h1v1h-1zM1 4h2v1h-2zM41 5h1v1h-1zM90 5h1v1h-1zM4 6h1v1h-1zM28 6h1v1h-1zM4 7h1v1h-1zM29 7h1v1h-1zM28 8h1v1h-1zM50 8h1v1h-1zM93 8h1v1h-1zM95 8h1v1h-1zM2 9h1v1h-1zM59 9h1v1h-1zM4 11h1v1h-1zM28 11h1v1h-1z"/>
<path fill="#c7c7e2" d="M120 0h1v1h-1zM140 0h2v1h-2zM143 0h1v1h-1zM120 1h1v1h-1zM122 1h1v1h-1zM127 2h1v1h-1zM135 2h1v1h-1zM2 3h1v1h-1zM5 4h1v1h-1zM42 4h1v1h-1zM59 5h1v1h-1zM95 5h1v1h-1zM16 7h1v1h-1zM92 8h1v1h-1zM3 11h1v1h-1z"/>
<path fill="#cbcbe4" d="M17 0h1v1h-1zM110 0h1v1h-1zM110 1h1v1h-1zM119 1h1v1h-1zM140 1h1v1h-1zM110 2h1v1h-1zM124 2h1v1h-1zM17 3h1v1h-1zM35 3h1v1h-1zM42 3h1v1h-1zM59 4h1v1h-1zM70 4h1v1h-1zM34 5h1v1h-1zM2 6h1v1h-1zM42 6h1v1h-1zM0 7h1v1h-1zM5 7h1v1h-1zM10 7h1v1h-1zM47 7h1v1h-1zM53 7h1v1h-1zM76 7h1v1h-1zM95 7h1v1h-1zM7 9h1v1h-1zM12 10h2v1h-2zM23 10h1v1h-1zM27 10h1v1h-1zM16 11h1v1h-1zM22 11h1v1h-1z"/>
<path fill="#cecee5" d="M112 0h1v1h-1zM125 0h1v1h-1zM134 0h1v1h-1zM97 1h1v1h-1zM106 1h1v1h-1zM124 1h1v1h-1zM144 1h1v1h-1zM140 2h1v1h-1zM74 3h1v1h-1zM3 4h1v1h-1zM28 4h1v1h-1zM50 5h1v1h-1zM55 5h1v1h-1zM10 6h1v1h-1zM12 6h1v1h-1zM23 6h1v1h-1zM40 6h1v1h-1zM44 6h1v1h-1zM90 6h1v1h-1zM24 7h1v1h-1zM35 7h1v1h-1zM90 7h1v1h-1zM93 7h1v1h-1zM14 8h2v1h-2zM40 8h1v1h-1zM53 8h1v1h-1zM70 8h1v1h-1zM77 8h1v1h-1zM139 8h1v1h-1zM9 9h1v1h-1zM29 9h1v1h-1zM9 10h1v1h-1zM57 10h1v1h-1zM77 10h1v1h-1zM95 10h1v1h-1zM0 11h1v1h-1zM17 11h1v1h-1zM21 11h1v1h-1zM29 11h1v1h-1zM36 11h1v1h-1zM47 11h1v1h-1zM50 11h1v1h-1zM53 11h1v1h-1zM95 11h1v1h-1z"/>
<path fill="#d2d1e6" d="M114 0h1v1h-1zM121 0h1v1h-1zM112 1h2v1h-2zM119 2h1v1h-1zM144 2h1v1h-1zM5 3h1v1h-1zM80 3h1v1h-1zM7 4h1v1h-1zM12 4h1v1h-1zM27 4h1v1h-1zM39 4h1v1h-1zM35 5h2v1h-2zM57 5h1v1h-1zM67 5h1v1h-1zM139 5h1v1h-1zM22 6h1v1h-1zM29 6h1v1h-1zM70 6h1v1h-1zM74 6h1v1h-1zM17 7h1v1h-1zM10 8h1v1h-1zM47 8h1v1h-1zM0 9h1v1h-1zM3 9h1v1h-1zM6 9h1v1h-1zM24 9h1v1h-1zM14 10h1v1h-1zM21 10h1v1h-1zM39 10h1v1h-1zM27 11h1v1h-1zM35 11h1v1h-1zM67 11h1v1h-1z"/>
<path fill="#d6d5e8" d="M122 0h1v1h-1zM124 0h1v1h-1zM135 0h1v1h-1zM41 2h1v1h-1zM109 2h1v1h-1zM114 2h1v1h-1zM0 3h1v1h-1zM29 3h1v1h-1zM50 3h1v1h-1zM52 3h1v1h-1zM77 3h1v1h-1zM10 4h1v1h-1zM14 4h1v1h-1zM29 4h1v1h-1zM35 4h1v1h-1zM53 4h1v1h-1zM139 4h1v1h-1zM14 5h1v1h-1zM22 5h1v1h-1zM28 5h1v1h-1zM5 6h1v1h-1zM15 6h1v1h-1zM46 7h1v1h-1zM55 7h1v1h-1zM0 8h1v1h-1zM7 8h1v1h-1zM17 8h1v1h-1zM29 8h1v1h-1zM59 8h1v1h-1zM68 8h1v1h-1zM12 9h1v1h-1zM14 9h1v1h-1zM32 9h1v1h-1zM2 10h1v1h-1zM5 10h1v1h-1zM37 11h1v1h-1zM90 11h1v1h-1zM100 11h1v1h-1z"/>
<path fill="#d9d8e9" d="M64 0h1v1h-1zM107 0h1v1h-1zM109 0h1v1h-1zM138 0h1v1h-1zM117 1h1v1h-1zM121 1h1v1h-1zM97 2h1v1h-1zM112 2h1v1h-1zM116 2h1v1h-1zM138 2h1v1h-1zM3 3h1v1h-1zM6 3h1v1h-1zM23 3h2v1h-2zM37 3h1v1h-1zM48 3h1v1h-1zM57 3h1v1h-1zM62 3h1v1h-1zM76 3h1v1h-1zM116 3h1v1h-1zM6 4h1v1h-1zM9 4h1v1h-1zM23 4h1v1h-1zM33 4h1v1h-1zM79 4h1v1h-1zM93 4h1v1h-1zM127 5h1v1h-1zM144 5h1v1h-1zM3 6h1v1h-1zM14 6h1v1h-1zM35 6h1v1h-1zM46 6h2v1h-2zM92 6h2v1h-2zM19 7h1v1h-1zM21 7h2v1h-2zM27 7h1v1h-1zM37 7h1v1h-1zM50 7h1v1h-1zM144 7h1v1h-1zM3 8h1v1h-1zM56 8h2v1h-2zM66 8h1v1h-1zM10 9h1v1h-1zM21 9h3v1h-3zM57 9h1v1h-1zM76 9h1v1h-1zM6 10h2v1h-2zM35 10h3v1h-3zM51 10h1v1h-1zM53 10h1v1h-1zM60 10h1v1h-1zM70 10h1v1h-1zM92 10h2v1h-2zM100 10h1v1h-1zM6 11h2v1h-2zM23 11h1v1h-1zM68 11h1v1h-1zM82 11h1v1h-1zM107 11h1v1h-1z"/>
<path fill="#dcdbea" d="M97 0h1v1h-1zM116 0h1v1h-1zM104 1h1v1h-1zM118 1h1v1h-1zM135 1h1v1h-1zM40 2h1v1h-1zM106 2h1v1h-1zM120 2h1v1h-1zM136 2h1v1h-1zM143 2h1v1h-1zM9 3h1v1h-1zM15 3h1v1h-1zM21 3h1v1h-1zM59 3h1v1h-1zM83 3h1v1h-1zM107 3h1v1h-1zM127 3h1v1h-1zM19 4h1v1h-1zM22 4h1v1h-1zM24 4h1v1h-1zM82 4h1v1h-1zM92 4h1v1h-1zM3 5h2v1h-2zM10 5h1v1h-1zM12 5h1v1h-1zM15 5h1v1h-1zM86 5h1v1h-1zM92 5h2v1h-2zM1 6h1v1h-1zM6 6h1v1h-1zM13 6h1v1h-1zM20 6h1v1h-1zM24 6h1v1h-1zM36 6h1v1h-1zM57 6h1v1h-1zM59 6h1v1h-1zM82 6h1v1h-1zM3 7h1v1h-1zM14 7h1v1h-1zM23 7h1v1h-1zM39 7h1v1h-1zM56 7h1v1h-1zM70 7h1v1h-1zM97 7h1v1h-1zM127 7h1v1h-1zM11 8h1v1h-1zM13 8h1v1h-1zM21 8h2v1h-2zM38 8h1v1h-1zM55 8h1v1h-1zM58 8h1v1h-1zM5 9h1v1h-1zM31 9h1v1h-1zM36 9h1v1h-1zM47 9h1v1h-1zM51 9h1v1h-1zM77 9h1v1h-1zM93 9h1v1h-1zM0 10h1v1h-1zM8 10h1v1h-1zM22 10h1v1h-1zM47 10h1v1h-1zM74 10h1v1h-1zM139 10h1v1h-1zM141 10h1v1h-1zM12 11h1v1h-1zM30 11h2v1h-2zM40 11h1v1h-1zM51 11h1v1h-1zM54 11h2v1h-2zM74 11h1v1h-1zM77 11h2v1h-2zM98 11h1v1h-1z"/>
<path fill="#e0deeb" d="M28 0h1v1h-1zM4 1h1v1h-1zM19 1h1v1h-1zM107 1h1v1h-1zM114 1h1v1h-1zM43 2h1v1h-1zM121 2h1v1h-1zM11 3h1v1h-1zM14 3h1v1h-1zM34 3h1v1h-1zM44 3h1v1h-1zM46 3h1v1h-1zM54 3h2v1h-2zM73 3h1v1h-1zM89 3h1v1h-1zM96 3h1v1h-1zM31 4h1v1h-1zM38 4h1v1h-1zM50 4h3v1h-3zM78 4h1v1h-1zM84 4h1v1h-1zM5 5h1v1h-1zM20 5h1v1h-1zM37 5h1v1h-1zM43 5h2v1h-2zM48 5h1v1h-1zM53 5h1v1h-1zM58 5h1v1h-1zM62 5h1v1h-1zM75 5h1v1h-1zM78 5h1v1h-1zM84 5h1v1h-1zM91 5h1v1h-1zM27 6h1v1h-1zM50 6h1v1h-1zM55 6h1v1h-1zM60 6h1v1h-1zM76 6h1v1h-1zM98 6h1v1h-1zM67 7h1v1h-1zM85 7h1v1h-1zM94 7h1v1h-1zM6 8h1v1h-1zM67 8h1v1h-1zM74 8h1v1h-1zM76 8h1v1h-1zM94 8h1v1h-1zM136 8h1v1h-1zM13 9h1v1h-1zM15 9h1v1h-1zM26 9h1v1h-1zM40 9h1v1h-1zM50 9h1v1h-1zM53 9h1v1h-1zM74 9h1v1h-1zM139 9h1v1h-1zM19 10h1v1h-1zM26 10h1v1h-1zM31 10h1v1h-1zM65 10h1v1h-1zM96 10h1v1h-1zM101 10h1v1h-1zM107 10h1v1h-1zM5 11h1v1h-1zM20 11h1v1h-1zM24 11h2v1h-2zM32 11h1v1h-1zM39 11h1v1h-1zM70 11h1v1h-1zM102 11h1v1h-1zM139 11h1v1h-1z"/>
<path fill="#e4e1ec" d="M2 0h1v1h-1zM95 0h1v1h-1zM106 0h1v1h-1zM5 1h1v1h-1zM28 1h1v1h-1zM79 1h1v1h-1zM111 1h1v1h-1zM138 1h1v1h-1zM24 2h1v1h-1zM64 2h1v1h-1zM111 2h1v1h-1zM142 2h1v1h-1zM10 3h1v1h-1zM22 3h1v1h-1zM26 3h1v1h-1zM36 3h1v1h-1zM51 3h1v1h-1zM53 3h1v1h-1zM65 3h1v1h-1zM70 3h1v1h-1zM75 3h1v1h-1zM79 3h1v1h-1zM93 3h1v1h-1zM122 3h1v1h-1zM15 4h1v1h-1zM20 4h1v1h-1zM37 4h1v1h-1zM40 4h1v1h-1zM55 4h1v1h-1zM57 4h2v1h-2zM65 4h1v1h-1zM74 4h1v1h-1zM76 4h2v1h-2zM98 4h1v1h-1zM102 4h1v1h-1zM13 5h1v1h-1zM29 5h1v1h-1zM45 5h1v1h-1zM51 5h1v1h-1zM77 5h1v1h-1zM85 5h1v1h-1zM97 5h1v1h-1zM107 5h1v1h-1zM9 6h1v1h-1zM37 6h1v1h-1zM51 6h1v1h-1zM53 6h1v1h-1zM83 6h1v1h-1zM95 6h1v1h-1zM104 6h1v1h-1zM12 7h1v1h-1zM36 7h1v1h-1zM40 7h1v1h-1zM59 7h1v1h-1zM82 7h2v1h-2zM92 7h1v1h-1zM104 7h1v1h-1zM5 8h1v1h-1zM9 8h1v1h-1zM27 8h1v1h-1zM39 8h1v1h-1zM51 8h2v1h-2zM62 8h1v1h-1zM100 8h1v1h-1zM11 9h1v1h-1zM19 9h1v1h-1zM27 9h1v1h-1zM30 9h1v1h-1zM35 9h1v1h-1zM37 9h1v1h-1zM67 9h1v1h-1zM88 9h1v1h-1zM92 9h1v1h-1zM3 10h1v1h-1zM20 10h1v1h-1zM56 10h1v1h-1zM58 10h1v1h-1zM62 10h1v1h-1zM105 10h1v1h-1zM138 10h1v1h-1zM44 11h1v1h-1zM46 11h1v1h-1zM48 11h1v1h-1zM60 11h1v1h-1zM92 11h1v1h-1zM94 11h1v1h-1zM99 11h1v1h-1z"/>
<path fill="#e7e5ee" d="M36 0h1v1h-1zM42 0h1v1h-1zM136 0h1v1h-1zM16 1h1v1h-1zM21 1h2v1h-2zM50 1h1v1h-1zM68 1h1v1h-1zM81 1h1v1h-1zM31 2h1v1h-1zM52 2h1v1h-1zM61 2h1v1h-1zM95 2h1v1h-1zM105 2h1v1h-1zM113 2h1v1h-1zM31 3h1v1h-1zM45 3h1v1h-1zM47 3h1v1h-1zM56 3h1v1h-1zM67 3h1v1h-1zM82 3h1v1h-1zM124 3h1v1h-1zM139 3h1v1h-1zM17 4h1v1h-1zM36 4h1v1h-1zM45 4h3v1h-3zM73 4h1v1h-1zM101 4h1v1h-1zM109 4h1v1h-1zM126 4h1v1h-1zM7 5h1v1h-1zM11 5h1v1h-1zM21 5h1v1h-1zM23 5h1v1h-1zM27 5h1v1h-1zM40 5h1v1h-1zM52 5h1v1h-1zM56 5h1v1h-1zM66 5h1v1h-1zM125 5h1v1h-1zM0 6h1v1h-1zM54 6h1v1h-1zM56 6h1v1h-1zM58 6h1v1h-1zM62 6h1v1h-1zM77 6h1v1h-1zM85 6h1v1h-1zM87 6h1v1h-1zM107 6h1v1h-1zM128 6h1v1h-1zM7 7h1v1h-1zM11 7h1v1h-1zM13 7h1v1h-1zM31 7h2v1h-2zM60 7h1v1h-1zM69 7h1v1h-1zM73 7h1v1h-1zM84 7h1v1h-1zM98 7h1v1h-1zM100 7h1v1h-1zM107 7h1v1h-1zM23 8h1v1h-1zM31 8h2v1h-2zM75 8h1v1h-1zM78 8h1v1h-1zM96 8h2v1h-2zM101 8h1v1h-1zM45 9h1v1h-1zM52 9h1v1h-1zM56 9h1v1h-1zM60 9h1v1h-1zM62 9h1v1h-1zM65 9h1v1h-1zM87 9h1v1h-1zM89 9h1v1h-1zM97 9h1v1h-1zM115 9h1v1h-1zM15 10h1v1h-1zM17 10h1v1h-1zM29 10h1v1h-1zM40 10h1v1h-1zM45 10h1v1h-1zM48 10h1v1h-1zM54 10h1v1h-1zM75 10h1v1h-1zM88 10h2v1h-2zM13 11h1v1h-1zM15 11h1v1h-1zM52 11h1v1h-1zM57 11h1v1h-1zM65 11h2v1h-2zM88 11h1v1h-1zM97 11h1v1h-1zM103 11h1v1h-1z"/>
<path fill="#eae8ef" d="M34 0h1v1h-1zM51 0h1v1h-1zM58 0h1v1h-1zM66 0h1v1h-1zM74 0h1v1h-1zM103 0h1v1h-1zM117 0h1v1h-1zM15 1h1v1h-1zM18 1h1v1h-1zM24 1h1v1h-1zM43 1h2v1h-2zM52 1h1v1h-1zM59 1h1v1h-1zM80 1h1v1h-1zM136 1h1v1h-1zM18 2h1v1h-1zM59 2h1v1h-1zM93 2h1v1h-1zM96 2h1v1h-1zM98 2h1v1h-1zM100 2h1v1h-1zM107 2h2v1h-2zM13 3h1v1h-1zM25 3h1v1h-1zM27 3h1v1h-1zM38 3h2v1h-2zM84 3h1v1h-1zM94 3h1v1h-1zM98 3h1v1h-1zM101 3h1v1h-1zM125 3h1v1h-1zM0 4h1v1h-1zM30 4h1v1h-1zM54 4h1v1h-1zM67 4h1v1h-1zM75 4h1v1h-1zM94 4h1v1h-1zM96 4h1v1h-1zM99 4h1v1h-1zM124 4h1v1h-1zM9 5h1v1h-1zM19 5h1v1h-1zM39 5h1v1h-1zM46 5h1v1h-1zM54 5h1v1h-1zM68 5h1v1h-1zM70 5h1v1h-1zM83 5h1v1h-1zM105 5h1v1h-1zM39 6h1v1h-1zM75 6h1v1h-1zM78 6h1v1h-1zM91 6h1v1h-1zM100 6h3v1h-3zM15 7h1v1h-1zM26 7h1v1h-1zM44 7h1v1h-1zM52 7h1v1h-1zM68 7h1v1h-1zM80 7h1v1h-1zM89 7h1v1h-1zM106 7h1v1h-1zM37 8h1v1h-1zM48 8h1v1h-1zM79 8h1v1h-1zM108 8h1v1h-1zM17 9h1v1h-1zM38 9h1v1h-1zM58 9h1v1h-1zM70 9h1v1h-1zM82 9h1v1h-1zM84 9h2v1h-2zM101 9h1v1h-1zM24 10h1v1h-1zM32 10h1v1h-1zM59 10h1v1h-1zM73 10h1v1h-1zM78 10h2v1h-2zM82 10h2v1h-2zM99 10h1v1h-1zM102 10h1v1h-1zM9 11h1v1h-1zM19 11h1v1h-1zM56 11h1v1h-1zM91 11h1v1h-1zM104 11h1v1h-1zM109 11h1v1h-1z"/>
<path fill="#eeebf0" d="M29 0h1v1h-1zM35 0h1v1h-1zM43 0h1v1h-1zM48 0h1v1h-1zM57 0h1v1h-1zM61 0h1v1h-1zM69 0h1v1h-1zM78 0h1v1h-1zM83 0h1v1h-1zM91 0h1v1h-1zM104 0h1v1h-1zM142 0h1v1h-1zM58 1h1v1h-1zM60 1h2v1h-2zM64 1h1v1h-1zM71 1h1v1h-1zM74 1h1v1h-1zM102 1h1v1h-1zM105 1h1v1h-1zM8 2h1v1h-1zM19 2h1v1h-1zM23 2h1v1h-1zM28 2h1v1h-1zM42 2h1v1h-1zM69 2h1v1h-1zM74 2h2v1h-2zM104 2h1v1h-1zM12 3h1v1h-1zM19 3h1v1h-1zM32 3h1v1h-1zM58 3h1v1h-1zM69 3h1v1h-1zM71 3h1v1h-1zM85 3h1v1h-1zM87 3h1v1h-1zM95 3h1v1h-1zM108 3h2v1h-2zM11 4h1v1h-1zM48 4h1v1h-1zM56 4h1v1h-1zM62 4h1v1h-1zM69 4h1v1h-1zM83 4h1v1h-1zM86 4h1v1h-1zM100 4h1v1h-1zM6 5h1v1h-1zM24 5h1v1h-1zM31 5h1v1h-1zM73 5h1v1h-1zM76 5h1v1h-1zM87 5h1v1h-1zM89 5h1v1h-1zM96 5h1v1h-1zM98 5h1v1h-1zM100 5h1v1h-1zM121 5h1v1h-1zM19 6h1v1h-1zM26 6h1v1h-1zM38 6h1v1h-1zM67 6h1v1h-1zM69 6h1v1h-1zM79 6h1v1h-1zM96 6h2v1h-2zM48 7h1v1h-1zM57 7h2v1h-2zM74 7h1v1h-1zM77 7h1v1h-1zM81 7h1v1h-1zM87 7h1v1h-1zM91 7h1v1h-1zM20 8h1v1h-1zM30 8h1v1h-1zM35 8h1v1h-1zM44 8h1v1h-1zM46 8h1v1h-1zM65 8h1v1h-1zM69 8h1v1h-1zM73 8h1v1h-1zM84 8h2v1h-2zM87 8h1v1h-1zM48 9h1v1h-1zM73 9h1v1h-1zM79 9h1v1h-1zM81 9h1v1h-1zM83 9h1v1h-1zM98 9h1v1h-1zM10 10h2v1h-2zM44 10h1v1h-1zM46 10h1v1h-1zM50 10h1v1h-1zM69 10h1v1h-1zM85 10h3v1h-3zM11 11h1v1h-1zM26 11h1v1h-1zM38 11h1v1h-1zM41 11h1v1h-1zM45 11h1v1h-1zM58 11h1v1h-1zM73 11h1v1h-1zM79 11h1v1h-1zM81 11h1v1h-1zM87 11h1v1h-1zM93 11h1v1h-1zM125 11h2v1h-2z"/>
<path fill="#eee8ec" d="M3 0h2v1h-2zM7 0h1v1h-1zM12 0h1v1h-1zM15 0h1v1h-1zM22 0h1v1h-1zM33 0h1v1h-1zM38 0h1v1h-1zM62 0h1v1h-1zM81 0h2v1h-2zM99 0h1v1h-1zM105 0h1v1h-1zM108 0h1v1h-1zM139 0h1v1h-1zM6 1h1v1h-1zM39 1h1v1h-1zM49 1h1v1h-1zM56 1h1v1h-1zM100 1h2v1h-2zM5 2h1v1h-1zM39 2h1v1h-1zM45 2h1v1h-1zM57 2h2v1h-2zM65 2h2v1h-2zM92 2h1v1h-1zM20 3h1v1h-1zM60 3h1v1h-1zM63 3h1v1h-1zM88 3h1v1h-1zM92 3h1v1h-1zM115 3h1v1h-1zM141 3h1v1h-1zM13 4h1v1h-1zM26 4h1v1h-1zM44 4h1v1h-1zM68 4h1v1h-1zM85 4h1v1h-1zM87 4h2v1h-2zM97 4h1v1h-1zM107 4h2v1h-2zM125 4h1v1h-1zM26 5h1v1h-1zM32 5h1v1h-1zM47 5h1v1h-1zM71 5h1v1h-1zM94 5h1v1h-1zM101 5h2v1h-2zM48 6h1v1h-1zM52 6h1v1h-1zM66 6h1v1h-1zM68 6h1v1h-1zM84 6h1v1h-1zM89 6h1v1h-1zM94 6h1v1h-1zM108 6h1v1h-1zM142 6h1v1h-1zM6 7h1v1h-1zM20 7h1v1h-1zM30 7h1v1h-1zM63 7h1v1h-1zM66 7h1v1h-1zM79 7h1v1h-1zM99 7h1v1h-1zM101 7h1v1h-1zM19 8h1v1h-1zM26 8h1v1h-1zM36 8h1v1h-1zM45 8h1v1h-1zM54 8h1v1h-1zM72 8h1v1h-1zM83 8h1v1h-1zM107 8h1v1h-1zM109 8h1v1h-1zM115 8h1v1h-1zM141 8h1v1h-1zM20 9h1v1h-1zM44 9h1v1h-1zM54 9h1v1h-1zM68 9h1v1h-1zM91 9h1v1h-1zM96 9h1v1h-1zM100 9h1v1h-1zM102 9h2v1h-2zM120 9h2v1h-2zM38 10h1v1h-1zM52 10h1v1h-1zM63 10h1v1h-1zM68 10h1v1h-1zM84 10h1v1h-1zM94 10h1v1h-1zM104 10h1v1h-1zM136 10h1v1h-1zM83 11h1v1h-1zM89 11h1v1h-1zM106 11h1v1h-1zM108 11h1v1h-1z"/>
<path fill="#eee5e9" d="M6 0h1v1h-1zM14 0h1v1h-1zM21 0h1v1h-1zM30 0h1v1h-1zM32 0h1v1h-1zM46 0h1v1h-1zM59 0h2v1h-2zM73 0h1v1h-1zM76 0h1v1h-1zM80 0h1v1h-1zM144 0h1v1h-1zM12 1h1v1h-1zM17 1h1v1h-1zM29 1h1v1h-1zM38 1h1v1h-1zM51 1h1v1h-1zM54 1h1v1h-1zM69 1h1v1h-1zM76 1h1v1h-1zM82 1h1v1h-1zM93 1h1v1h-1zM108 1h1v1h-1zM6 2h1v1h-1zM9 2h1v1h-1zM12 2h1v1h-1zM27 2h1v1h-1zM37 2h2v1h-2zM44 2h1v1h-1zM53 2h1v1h-1zM62 2h1v1h-1zM67 2h1v1h-1zM88 2h1v1h-1zM90 2h2v1h-2zM101 2h1v1h-1zM117 2h1v1h-1zM30 3h1v1h-1zM72 3h1v1h-1zM78 3h1v1h-1zM97 3h1v1h-1zM99 3h1v1h-1zM102 3h1v1h-1zM104 3h1v1h-1zM121 3h1v1h-1zM21 4h1v1h-1zM32 4h1v1h-1zM60 4h1v1h-1zM106 4h1v1h-1zM38 5h1v1h-1zM60 5h1v1h-1zM65 5h1v1h-1zM72 5h1v1h-1zM82 5h1v1h-1zM99 5h1v1h-1zM103 5h1v1h-1zM25 6h1v1h-1zM31 6h1v1h-1zM45 6h1v1h-1zM73 6h1v1h-1zM103 6h1v1h-1zM109 6h1v1h-1zM127 6h1v1h-1zM62 7h1v1h-1zM72 7h1v1h-1zM75 7h1v1h-1zM96 7h1v1h-1zM102 7h1v1h-1zM109 7h1v1h-1zM63 8h1v1h-1zM80 8h1v1h-1zM88 8h2v1h-2zM91 8h1v1h-1zM99 8h1v1h-1zM103 8h1v1h-1zM105 8h1v1h-1zM127 8h1v1h-1zM46 9h1v1h-1zM75 9h1v1h-1zM99 9h1v1h-1zM106 9h1v1h-1zM108 9h1v1h-1zM129 9h1v1h-1zM55 10h1v1h-1zM81 10h1v1h-1zM91 10h1v1h-1zM97 10h2v1h-2zM115 10h1v1h-1zM140 10h1v1h-1zM14 11h1v1h-1zM62 11h1v1h-1zM69 11h1v1h-1zM75 11h2v1h-2zM84 11h2v1h-2z"/>
<path fill="#efe2e5" d="M5 0h1v1h-1zM13 0h1v1h-1zM18 0h1v1h-1zM24 0h1v1h-1zM52 0h1v1h-1zM54 0h3v1h-3zM72 0h1v1h-1zM75 0h1v1h-1zM77 0h1v1h-1zM92 0h1v1h-1zM96 0h1v1h-1zM13 1h2v1h-2zM45 1h1v1h-1zM55 1h1v1h-1zM57 1h1v1h-1zM73 1h1v1h-1zM77 1h2v1h-2zM83 1h1v1h-1zM91 1h2v1h-2zM96 1h1v1h-1zM109 1h1v1h-1zM3 2h1v1h-1zM15 2h2v1h-2zM20 2h1v1h-1zM32 2h1v1h-1zM49 2h2v1h-2zM54 2h1v1h-1zM68 2h1v1h-1zM70 2h1v1h-1zM94 2h1v1h-1zM102 2h1v1h-1zM81 3h1v1h-1zM100 3h1v1h-1zM106 3h1v1h-1zM144 3h1v1h-1zM25 4h1v1h-1zM81 4h1v1h-1zM103 4h1v1h-1zM79 5h1v1h-1zM88 5h1v1h-1zM119 5h1v1h-1zM124 5h1v1h-1zM32 6h1v1h-1zM81 6h1v1h-1zM88 6h1v1h-1zM25 7h1v1h-1zM38 7h1v1h-1zM121 7h1v1h-1zM125 7h2v1h-2zM60 8h1v1h-1zM106 8h1v1h-1zM25 9h1v1h-1zM72 9h1v1h-1zM86 9h1v1h-1zM107 9h1v1h-1zM109 9h1v1h-1zM126 9h1v1h-1zM106 10h1v1h-1zM10 11h1v1h-1zM101 11h1v1h-1zM112 11h1v1h-1z"/>
<path fill="#efdfe2" d="M0 0h1v1h-1zM16 0h1v1h-1zM40 0h1v1h-1zM50 0h1v1h-1zM63 0h1v1h-1zM65 0h1v1h-1zM67 0h1v1h-1zM70 0h2v1h-2zM93 0h1v1h-1zM98 0h1v1h-1zM9 1h1v1h-1zM11 1h1v1h-1zM23 1h1v1h-1zM37 1h1v1h-1zM42 1h1v1h-1zM47 1h1v1h-1zM53 1h1v1h-1zM67 1h1v1h-1zM70 1h1v1h-1zM72 1h1v1h-1zM99 1h1v1h-1zM7 2h1v1h-1zM10 2h2v1h-2zM21 2h1v1h-1zM51 2h1v1h-1zM73 2h1v1h-1zM78 2h1v1h-1zM80 2h1v1h-1zM99 2h1v1h-1zM103 2h1v1h-1zM91 3h1v1h-1zM72 4h1v1h-1zM89 4h1v1h-1zM115 4h1v1h-1zM118 4h1v1h-1zM135 4h2v1h-2zM140 4h1v1h-1zM30 5h1v1h-1zM104 5h1v1h-1zM108 5h1v1h-1zM11 6h1v1h-1zM30 6h1v1h-1zM63 6h1v1h-1zM99 6h1v1h-1zM106 6h1v1h-1zM138 6h1v1h-1zM45 7h1v1h-1zM51 7h1v1h-1zM88 7h1v1h-1zM108 7h1v1h-1zM98 8h1v1h-1zM102 8h1v1h-1zM39 9h1v1h-1zM69 9h1v1h-1zM94 9h1v1h-1zM127 9h1v1h-1zM72 10h1v1h-1zM103 10h1v1h-1zM123 10h2v1h-2zM59 11h1v1h-1zM71 11h1v1h-1zM119 11h1v1h-1zM140 11h1v1h-1z"/>
<path fill="#efdcde" d="M10 0h1v1h-1zM19 0h2v1h-2zM31 0h1v1h-1zM44 0h1v1h-1zM49 0h1v1h-1zM53 0h1v1h-1zM101 0h1v1h-1zM20 1h1v1h-1zM33 1h1v1h-1zM48 1h1v1h-1zM63 1h1v1h-1zM95 1h1v1h-1zM14 2h1v1h-1zM22 2h1v1h-1zM46 2h3v1h-3zM55 2h1v1h-1zM63 2h1v1h-1zM71 2h1v1h-1zM76 2h1v1h-1zM81 2h1v1h-1zM89 2h1v1h-1zM112 3h1v1h-1zM114 3h1v1h-1zM126 3h1v1h-1zM104 4h1v1h-1zM106 5h1v1h-1zM137 5h1v1h-1zM65 6h1v1h-1zM86 6h1v1h-1zM135 6h1v1h-1zM71 7h1v1h-1zM128 7h1v1h-1zM139 7h1v1h-1zM104 8h1v1h-1zM110 8h1v1h-1zM71 9h1v1h-1zM80 9h1v1h-1zM116 9h1v1h-1zM71 10h1v1h-1zM108 10h2v1h-2zM125 10h1v1h-1zM128 10h1v1h-1zM144 10h1v1h-1zM96 11h1v1h-1zM105 11h1v1h-1z"/>
<path fill="#efd8da" d="M9 0h1v1h-1zM34 1h1v1h-1zM66 1h1v1h-1zM35 2h1v1h-1zM56 2h1v1h-1zM60 2h1v1h-1zM79 2h1v1h-1zM83 2h1v1h-1zM103 3h1v1h-1zM142 4h1v1h-1zM144 4h1v1h-1zM25 5h1v1h-1zM80 5h1v1h-1zM109 5h2v1h-2zM115 5h1v1h-1zM71 6h2v1h-2zM126 6h1v1h-1zM103 7h1v1h-1zM114 7h1v1h-1zM121 8h1v1h-1zM132 8h1v1h-1zM55 9h1v1h-1zM66 9h1v1h-1zM125 9h1v1h-1zM117 11h1v1h-1zM121 11h1v1h-1zM130 11h1v1h-1zM132 11h1v1h-1z"/>
<path fill="#efd5d7" d="M8 0h1v1h-1zM47 0h1v1h-1zM100 0h1v1h-1zM2 1h2v1h-2zM7 1h2v1h-2zM10 1h1v1h-1zM30 1h1v1h-1zM40 1h1v1h-1zM62 1h1v1h-1zM98 1h1v1h-1zM13 2h1v1h-1zM29 2h2v1h-2zM82 2h1v1h-1zM135 3h1v1h-1zM63 4h1v1h-1zM66 4h1v1h-1zM80 4h1v1h-1zM128 4h1v1h-1zM63 5h1v1h-1zM133 5h1v1h-1zM138 5h1v1h-1zM143 5h1v1h-1zM80 6h1v1h-1zM105 6h1v1h-1zM121 6h1v1h-1zM135 7h1v1h-1zM12 8h1v1h-1zM124 8h2v1h-2zM144 8h1v1h-1zM104 9h1v1h-1zM119 9h1v1h-1zM120 10h1v1h-1zM72 11h1v1h-1zM120 11h1v1h-1zM138 11h1v1h-1z"/>
<path fill="#f0d2d3" d="M1 0h1v1h-1zM41 0h1v1h-1zM45 0h1v1h-1zM41 1h1v1h-1zM75 1h1v1h-1zM103 1h1v1h-1zM17 2h1v1h-1zM77 2h1v1h-1zM66 3h1v1h-1zM68 3h1v1h-1zM71 4h1v1h-1zM121 4h1v1h-1zM143 4h1v1h-1zM81 5h1v1h-1zM118 6h1v1h-1zM132 6h1v1h-1zM137 6h1v1h-1zM65 7h1v1h-1zM119 7h2v1h-2zM71 8h1v1h-1zM81 8h1v1h-1zM122 9h1v1h-1zM124 9h1v1h-1zM128 9h1v1h-1zM143 9h2v1h-2zM30 10h1v1h-1zM126 10h1v1h-1zM132 10h1v1h-1zM137 10h1v1h-1zM115 11h1v1h-1zM129 11h1v1h-1zM143 11h2v1h-2z"/>
<path fill="#f0cfd0" d="M11 0h1v1h-1zM23 0h1v1h-1zM27 0h1v1h-1zM79 0h1v1h-1zM32 1h1v1h-1zM94 1h1v1h-1zM120 3h1v1h-1zM142 3h2v1h-2zM91 4h1v1h-1zM127 4h1v1h-1zM128 5h1v1h-1zM131 6h1v1h-1zM144 6h1v1h-1zM86 7h1v1h-1zM25 8h1v1h-1zM111 8h1v1h-1zM120 8h1v1h-1zM140 8h1v1h-1zM63 9h1v1h-1zM130 9h1v1h-1zM25 10h1v1h-1zM67 10h1v1h-1zM86 11h1v1h-1zM135 11h1v1h-1zM141 11h1v1h-1z"/>
<path fill="#f0cccc" d="M0 2h2v1h-2zM72 2h1v1h-1zM105 3h1v1h-1zM130 3h1v1h-1zM140 3h1v1h-1zM129 4h1v1h-1zM141 4h1v1h-1zM122 5h1v1h-1zM140 5h1v1h-1zM114 6h1v1h-1zM119 6h1v1h-1zM141 6h1v1h-1zM140 7h1v1h-1zM143 7h1v1h-1zM128 8h1v1h-1zM137 8h1v1h-1zM132 9h1v1h-1zM138 9h1v1h-1zM127 10h1v1h-1zM63 11h1v1h-1zM80 11h1v1h-1zM122 11h1v1h-1z"/>
<path fill="#f0c8c8" d="M37 0h1v1h-1zM94 0h1v1h-1zM36 1h1v1h-1zM33 2h1v1h-1zM36 2h1v1h-1zM119 3h1v1h-1zM136 3h1v1h-1zM138 3h1v1h-1zM105 4h1v1h-1zM137 4h2v1h-2zM120 6h1v1h-1zM130 6h1v1h-1zM136 6h1v1h-1zM105 7h1v1h-1zM110 7h1v1h-1zM105 9h1v1h-1zM117 9h1v1h-1zM76 10h1v1h-1zM114 11h1v1h-1zM124 11h1v1h-1zM128 11h1v1h-1zM137 11h1v1h-1z"/>
<path fill="#efc5c4" d="M68 0h1v1h-1zM31 1h1v1h-1zM35 1h1v1h-1zM84 1h1v1h-1zM90 1h1v1h-1zM123 4h1v1h-1zM131 4h1v1h-1zM111 5h1v1h-1zM113 5h1v1h-1zM117 5h1v1h-1zM129 5h1v1h-1zM131 5h1v1h-1zM142 5h1v1h-1zM123 6h1v1h-1zM115 7h2v1h-2zM136 7h1v1h-1zM122 8h2v1h-2zM136 9h2v1h-2zM142 9h1v1h-1zM80 10h1v1h-1zM119 10h1v1h-1zM142 11h1v1h-1z"/>
<path fill="#eec1c0" d="M39 0h1v1h-1zM102 0h1v1h-1zM2 2h1v1h-1zM85 2h1v1h-1zM132 3h1v1h-1zM112 4h1v1h-1zM120 4h1v1h-1zM122 4h1v1h-1zM120 5h1v1h-1zM136 5h1v1h-1zM115 6h1v1h-1zM118 7h1v1h-1zM117 8h2v1h-2zM118 9h1v1h-1zM66 10h1v1h-1zM122 10h1v1h-1zM131 10h1v1h-1zM113 11h1v1h-1zM118 11h1v1h-1zM134 11h1v1h-1z"/>
<path fill="#eebdbc" d="M87 1h1v1h-1zM4 2h1v1h-1zM34 2h1v1h-1zM128 3h1v1h-1zM131 3h1v1h-1zM110 4h1v1h-1zM116 4h1v1h-1zM119 4h1v1h-1zM69 5h1v1h-1zM74 5h1v1h-1zM124 6h1v1h-1zM111 7h1v1h-1zM138 8h1v1h-1zM110 9h1v1h-1zM140 9h1v1h-1zM113 10h1v1h-1zM133 10h1v1h-1zM110 11h1v1h-1zM131 11h1v1h-1zM133 11h1v1h-1z"/>
<path fill="#eebab8" d="M1 1h1v1h-1zM86 3h1v1h-1zM110 3h1v1h-1zM137 3h1v1h-1zM123 5h1v1h-1zM54 7h1v1h-1zM123 7h1v1h-1zM133 7h1v1h-1zM138 7h1v1h-1zM113 8h1v1h-1zM119 8h1v1h-1zM133 8h1v1h-1zM113 9h1v1h-1zM123 9h1v1h-1zM118 10h1v1h-1zM130 10h1v1h-1zM134 10h1v1h-1zM116 11h1v1h-1zM136 11h1v1h-1z"/>
<path fill="#edb6b5" d="M84 2h1v1h-1zM129 3h1v1h-1zM132 4h1v1h-1zM118 5h1v1h-1zM141 5h1v1h-1zM112 7h2v1h-2zM132 7h1v1h-1zM141 7h2v1h-2zM116 8h1v1h-1zM126 8h1v1h-1zM143 8h1v1h-1zM131 9h1v1h-1zM135 9h1v1h-1zM116 10h1v1h-1zM135 10h1v1h-1zM123 11h1v1h-1z"/>
<path fill="#ecb2b1" d="M25 0h1v1h-1zM88 0h1v1h-1zM134 3h1v1h-1zM133 4h1v1h-1zM114 5h1v1h-1zM126 5h1v1h-1zM110 6h1v1h-1zM116 6h1v1h-1zM125 6h1v1h-1zM122 7h1v1h-1zM137 7h1v1h-1zM86 8h1v1h-1zM114 10h1v1h-1zM117 10h1v1h-1zM142 10h1v1h-1z"/>
<path fill="#ecaead" d="M85 0h2v1h-2zM0 1h1v1h-1zM25 1h1v1h-1zM46 1h1v1h-1zM87 2h1v1h-1zM117 3h1v1h-1zM113 4h1v1h-1zM124 7h1v1h-1zM129 10h1v1h-1zM143 10h1v1h-1z"/>
<path fill="#ecaba9" d="M111 3h1v1h-1zM117 4h1v1h-1zM132 5h1v1h-1zM135 5h1v1h-1zM113 6h1v1h-1zM133 6h1v1h-1zM112 8h1v1h-1zM114 9h1v1h-1zM110 10h1v1h-1zM127 11h1v1h-1z"/>
<path fill="#eba7a5" d="M87 0h1v1h-1zM26 1h1v1h-1zM86 1h1v1h-1zM113 3h1v1h-1zM130 4h1v1h-1zM111 6h1v1h-1zM122 6h1v1h-1zM117 7h1v1h-1zM130 7h1v1h-1zM114 8h1v1h-1zM135 8h1v1h-1zM141 9h1v1h-1zM111 11h1v1h-1z"/>
<path fill="#eaa3a1" d="M114 4h1v1h-1zM134 4h1v1h-1zM117 6h1v1h-1zM140 6h1v1h-1zM143 6h1v1h-1zM129 8h1v1h-1zM133 9h1v1h-1zM121 10h1v1h-1z"/>
<path fill="#eaa09e" d="M89 1h1v1h-1zM86 2h1v1h-1zM118 3h1v1h-1zM112 5h1v1h-1z"/>
<path fill="#e99c9a" d="M90 0h1v1h-1zM142 8h1v1h-1zM112 9h1v1h-1zM112 10h1v1h-1z"/>
<path fill="#e89896" d="M112 6h1v1h-1zM129 7h1v1h-1zM131 7h1v1h-1zM130 8h1v1h-1zM111 9h1v1h-1z"/>
<path fill="#e89492" d="M27 1h1v1h-1zM25 2h1v1h-1zM123 3h1v1h-1zM130 5h1v1h-1zM129 6h1v1h-1zM134 9h1v1h-1zM111 10h1v1h-1z"/>
<path fill="#e7918f" d="M88 1h1v1h-1zM134 7h1v1h-1zM131 8h1v1h-1z"/>
<path fill="#e58987" d="M89 0h1v1h-1zM85 1h1v1h-1zM133 3h1v1h-1z"/>
<path fill="#e58684" d="M26 0h1v1h-1zM116 5h1v1h-1z"/>
<path fill="#e48280" d="M111 4h1v1h-1z"/>
<path fill="#e37e7c" d="M26 2h1v1h-1z"/>
<path fill="#e27a79" d="M134 5h1v1h-1z"/>
<path fill="#db6060" d="M134 6h1v1h-1z"/>
<path fill="#da5c5c" d="M134 8h1v1h-1z"/>
</g>
<g transform="translate(78.60,125.10) scale(3.3497,4.3933)" shape-rendering="crispEdges">
<path fill="#8280bf" d="M99 8h1v1h-1z"/>
<path fill="#908fc5" d="M8 2h1v1h-1zM18 4h1v1h-1z"/>
<path fill="#9494c7" d="M34 14h1v1h-1z"/>
<path fill="#9998ca" d="M18 5h1v1h-1zM3 8h1v1h-1zM49 9h1v1h-1z"/>
<path fill="#9d9dcc" d="M78 2h1v1h-1zM5 3h1v1h-1zM41 5h1v1h-1zM61 6h1v1h-1zM3 7h1v1h-1zM78 8h1v1h-1zM18 12h1v1h-1zM61 12h1v1h-1z"/>
<path fill="#a2a2ce" d="M18 1h1v1h-1zM49 2h1v1h-1zM3 5h1v1h-1zM5 5h1v1h-1zM34 5h1v1h-1zM64 8h1v1h-1zM33 10h1v1h-1zM41 12h1v1h-1zM8 13h1v1h-1zM61 13h1v1h-1zM8 14h1v1h-1z"/>
<path fill="#a6a6d0" d="M95 0h1v1h-1zM41 3h1v1h-1zM57 3h1v1h-1zM64 5h1v1h-1zM5 6h1v1h-1zM18 6h1v1h-1zM42 7h1v1h-1zM49 7h1v1h-1zM5 9h1v1h-1zM41 10h1v1h-1zM57 11h1v1h-1zM8 12h1v1h-1zM5 13h1v1h-1zM41 13h1v1h-1zM73 13h1v1h-1zM41 14h1v1h-1zM90 14h1v1h-1z"/>
<path fill="#aaaad2" d="M34 0h1v1h-1zM5 1h1v1h-1zM34 1h1v1h-1zM90 1h1v1h-1zM18 2h1v1h-1zM34 2h1v1h-1zM75 3h1v1h-1zM8 4h1v1h-1zM42 6h1v1h-1zM17 8h1v1h-1zM61 8h1v1h-1zM140 8h1v1h-1zM18 10h1v1h-1zM90 10h1v1h-1zM41 11h1v1h-1zM90 11h1v1h-1zM3 13h1v1h-1zM49 14h1v1h-1z"/>
<path fill="#aeaed5" d="M34 3h1v1h-1zM42 3h1v1h-1zM90 3h1v1h-1zM3 4h1v1h-1zM33 4h2v1h-2zM57 4h1v1h-1zM85 4h1v1h-1zM41 7h1v1h-1zM57 7h1v1h-1zM90 7h1v1h-1zM18 9h1v1h-1zM10 10h1v1h-1zM8 11h1v1h-1zM34 11h1v1h-1zM61 11h1v1h-1zM17 12h1v1h-1zM49 12h1v1h-1zM42 13h1v1h-1z"/>
<path fill="#b2b2d7" d="M8 1h1v1h-1zM41 1h1v1h-1zM78 1h1v1h-1zM41 2h1v1h-1zM57 2h1v1h-1zM95 2h1v1h-1zM24 3h1v1h-1zM78 5h1v1h-1zM95 5h1v1h-1zM28 6h1v1h-1zM64 6h1v1h-1zM33 7h1v1h-1zM33 9h1v1h-1zM56 9h1v1h-1zM5 10h1v1h-1zM49 10h1v1h-1zM78 10h1v1h-1zM49 11h1v1h-1zM34 12h1v1h-1zM17 13h1v1h-1zM61 14h1v1h-1z"/>
<path fill="#b6b6d9" d="M41 0h1v1h-1zM42 2h1v1h-1zM17 3h1v1h-1zM5 4h1v1h-1zM90 4h1v1h-1zM42 5h1v1h-1zM8 6h1v1h-1zM49 6h1v1h-1zM34 8h1v1h-1zM73 8h1v1h-1zM90 9h1v1h-1zM61 10h1v1h-1zM3 12h1v1h-1zM42 12h1v1h-1zM78 12h1v1h-1zM5 14h1v1h-1zM18 14h1v1h-1zM33 14h1v1h-1z"/>
<path fill="#bbbbdb" d="M3 0h1v1h-1zM17 0h1v1h-1zM24 2h1v1h-1zM61 2h1v1h-1zM8 3h1v1h-1zM33 3h1v1h-1zM36 3h1v1h-1zM64 3h1v1h-1zM41 4h1v1h-1zM49 4h1v1h-1zM95 4h1v1h-1zM61 5h1v1h-1zM57 6h1v1h-1zM2 9h1v1h-1zM42 9h1v1h-1zM42 10h1v1h-1zM73 10h1v1h-1zM17 11h1v1h-1zM49 13h1v1h-1zM57 13h1v1h-1zM3 14h1v1h-1zM95 14h1v1h-1z"/>
<path fill="#bfbfdd" d="M8 0h1v1h-1zM10 0h1v1h-1zM18 0h1v1h-1zM17 1h1v1h-1zM83 1h1v1h-1zM33 2h1v1h-1zM90 2h1v1h-1zM88 3h1v1h-1zM61 4h1v1h-1zM8 5h1v1h-1zM17 5h1v1h-1zM12 6h1v1h-1zM17 6h1v1h-1zM90 6h1v1h-1zM5 7h1v1h-1zM8 7h1v1h-1zM17 7h1v1h-1zM34 7h1v1h-1zM38 7h1v1h-1zM61 7h1v1h-1zM78 7h1v1h-1zM18 8h1v1h-1zM41 8h2v1h-2zM49 8h1v1h-1zM32 9h1v1h-1zM44 9h1v1h-1zM95 9h1v1h-1zM3 10h1v1h-1zM22 10h1v1h-1zM57 10h1v1h-1zM3 11h1v1h-1zM64 11h1v1h-1zM74 11h1v1h-1zM95 11h1v1h-1zM33 12h1v1h-1zM38 12h1v1h-1zM57 12h1v1h-1zM18 13h1v1h-1zM64 13h1v1h-1zM78 13h1v1h-1zM95 13h1v1h-1zM42 14h1v1h-1zM52 14h1v1h-1zM57 14h1v1h-1z"/>
<path fill="#c3c3e0" d="M57 0h1v1h-1zM17 2h1v1h-1zM4 3h1v1h-1zM78 3h1v1h-1zM42 4h1v1h-1zM18 7h1v1h-1zM55 7h1v1h-1zM95 7h1v1h-1zM8 8h1v1h-1zM11 8h1v1h-1zM57 8h1v1h-1zM95 8h1v1h-1zM115 8h1v1h-1zM122 8h1v1h-1zM13 9h1v1h-1zM17 9h1v1h-1zM73 9h1v1h-1zM5 11h1v1h-1zM40 11h1v1h-1zM42 11h1v1h-1zM73 11h1v1h-1zM90 12h1v1h-1z"/>
<path fill="#c7c7e2" d="M35 0h1v1h-1zM42 0h1v1h-1zM3 1h1v1h-1zM33 1h1v1h-1zM49 1h1v1h-1zM5 2h1v1h-1zM12 2h1v1h-1zM53 2h1v1h-1zM3 3h1v1h-1zM11 3h1v1h-1zM18 3h1v1h-1zM50 3h1v1h-1zM43 4h1v1h-1zM47 4h1v1h-1zM78 4h1v1h-1zM49 5h1v1h-1zM22 7h1v1h-1zM41 9h1v1h-1zM50 9h1v1h-1zM64 9h1v1h-1zM8 10h1v1h-1zM17 10h1v1h-1zM32 10h1v1h-1zM18 11h1v1h-1zM39 11h1v1h-1zM5 12h1v1h-1zM73 12h1v1h-1zM136 12h1v1h-1zM13 13h1v1h-1zM90 13h1v1h-1zM119 13h1v1h-1zM17 14h1v1h-1zM39 14h1v1h-1z"/>
<path fill="#cbcbe4" d="M33 0h1v1h-1zM53 0h1v1h-1zM36 1h1v1h-1zM39 1h1v1h-1zM42 1h1v1h-1zM47 1h1v1h-1zM16 2h1v1h-1zM64 2h1v1h-1zM76 2h1v1h-1zM47 3h1v1h-1zM49 3h1v1h-1zM0 4h1v1h-1zM13 4h1v1h-1zM53 4h1v1h-1zM64 4h1v1h-1zM39 5h1v1h-1zM85 5h1v1h-1zM3 6h1v1h-1zM21 6h2v1h-2zM33 6h2v1h-2zM38 6h1v1h-1zM41 6h1v1h-1zM53 6h1v1h-1zM84 6h1v1h-1zM7 7h1v1h-1zM32 7h1v1h-1zM53 7h1v1h-1zM5 8h1v1h-1zM7 8h1v1h-1zM1 9h1v1h-1zM3 9h1v1h-1zM8 9h1v1h-1zM34 9h1v1h-1zM61 9h1v1h-1zM47 10h2v1h-2zM12 11h1v1h-1zM39 12h2v1h-2zM48 12h1v1h-1zM64 12h1v1h-1zM95 12h1v1h-1zM19 13h1v1h-1zM35 13h1v1h-1zM40 13h1v1h-1zM43 13h1v1h-1zM11 14h1v1h-1zM37 14h1v1h-1zM73 14h2v1h-2z"/>
<path fill="#cecee5" d="M49 0h1v1h-1zM90 0h1v1h-1zM48 1h1v1h-1zM50 1h1v1h-1zM57 1h1v1h-1zM61 1h1v1h-1zM85 1h1v1h-1zM3 2h1v1h-1zM40 2h1v1h-1zM2 3h1v1h-1zM6 3h1v1h-1zM35 3h1v1h-1zM61 3h1v1h-1zM24 4h1v1h-1zM40 4h1v1h-1zM10 5h1v1h-1zM32 5h1v1h-1zM92 5h1v1h-1zM13 6h1v1h-1zM88 6h1v1h-1zM95 6h1v1h-1zM40 7h1v1h-1zM44 7h1v1h-1zM64 7h1v1h-1zM2 8h1v1h-1zM4 8h1v1h-1zM22 8h1v1h-1zM74 8h1v1h-1zM4 9h1v1h-1zM11 9h1v1h-1zM38 9h1v1h-1zM51 10h1v1h-1zM56 10h1v1h-1zM69 10h1v1h-1zM74 10h1v1h-1zM77 10h1v1h-1zM95 10h2v1h-2zM32 11h2v1h-2zM85 11h1v1h-1zM6 12h1v1h-1zM19 12h1v1h-1zM23 12h1v1h-1zM44 12h1v1h-1zM97 12h1v1h-1zM34 13h1v1h-1zM44 13h1v1h-1zM53 13h1v1h-1zM85 13h1v1h-1zM32 14h1v1h-1zM50 14h1v1h-1z"/>
<path fill="#d2d1e6" d="M1 0h1v1h-1zM4 0h2v1h-2zM16 0h1v1h-1zM56 0h1v1h-1zM64 0h1v1h-1zM10 1h1v1h-1zM13 1h1v1h-1zM19 1h1v1h-1zM23 1h1v1h-1zM77 1h1v1h-1zM94 1h2v1h-2zM4 2h1v1h-1zM22 2h1v1h-1zM32 2h1v1h-1zM35 2h1v1h-1zM47 2h1v1h-1zM84 2h1v1h-1zM91 2h1v1h-1zM1 3h1v1h-1zM19 3h1v1h-1zM56 3h1v1h-1zM4 4h1v1h-1zM16 4h2v1h-2zM32 4h1v1h-1zM37 4h3v1h-3zM55 4h1v1h-1zM13 5h1v1h-1zM21 5h1v1h-1zM33 5h1v1h-1zM43 5h1v1h-1zM88 5h1v1h-1zM0 6h1v1h-1zM19 6h1v1h-1zM24 6h1v1h-1zM39 6h1v1h-1zM44 6h1v1h-1zM52 6h1v1h-1zM136 6h1v1h-1zM1 7h1v1h-1zM46 7h1v1h-1zM85 7h1v1h-1zM94 7h1v1h-1zM43 8h1v1h-1zM37 9h1v1h-1zM47 9h1v1h-1zM55 9h1v1h-1zM57 9h1v1h-1zM74 9h1v1h-1zM84 9h1v1h-1zM92 9h1v1h-1zM4 10h1v1h-1zM37 10h1v1h-1zM40 10h1v1h-1zM46 10h1v1h-1zM64 10h1v1h-1zM84 10h1v1h-1zM0 11h1v1h-1zM10 11h1v1h-1zM38 11h1v1h-1zM56 11h1v1h-1zM78 11h1v1h-1zM115 11h1v1h-1zM0 12h2v1h-2zM10 12h1v1h-1zM35 12h1v1h-1zM75 12h1v1h-1zM85 12h1v1h-1zM93 12h1v1h-1zM1 13h1v1h-1zM7 13h1v1h-1zM9 13h1v1h-1zM32 13h2v1h-2zM56 13h1v1h-1zM74 13h1v1h-1zM87 13h1v1h-1zM10 14h1v1h-1zM12 14h1v1h-1zM15 14h1v1h-1zM44 14h1v1h-1zM46 14h1v1h-1zM78 14h1v1h-1zM136 14h1v1h-1z"/>
<path fill="#d6d5e8" d="M13 0h1v1h-1zM20 0h1v1h-1zM36 0h1v1h-1zM48 0h1v1h-1zM50 0h1v1h-1zM92 0h1v1h-1zM32 1h1v1h-1zM92 1h1v1h-1zM2 2h1v1h-1zM7 2h1v1h-1zM10 2h1v1h-1zM13 2h1v1h-1zM21 2h1v1h-1zM43 2h1v1h-1zM53 3h1v1h-1zM83 3h1v1h-1zM2 4h1v1h-1zM44 4h1v1h-1zM92 4h3v1h-3zM11 5h1v1h-1zM15 5h1v1h-1zM56 5h1v1h-1zM94 5h1v1h-1zM7 6h1v1h-1zM40 6h1v1h-1zM47 6h1v1h-1zM78 6h1v1h-1zM10 7h1v1h-1zM16 7h1v1h-1zM23 7h1v1h-1zM96 7h1v1h-1zM16 8h1v1h-1zM44 8h1v1h-1zM46 8h1v1h-1zM48 8h1v1h-1zM51 8h1v1h-1zM90 8h1v1h-1zM7 9h1v1h-1zM35 9h2v1h-2zM39 9h1v1h-1zM43 9h1v1h-1zM48 9h1v1h-1zM78 9h1v1h-1zM2 10h1v1h-1zM12 10h1v1h-1zM34 10h1v1h-1zM94 10h1v1h-1zM119 10h1v1h-1zM4 11h1v1h-1zM11 11h1v1h-1zM16 11h1v1h-1zM36 11h1v1h-1zM48 11h1v1h-1zM69 11h1v1h-1zM94 11h1v1h-1zM32 12h1v1h-1zM36 12h1v1h-1zM56 12h1v1h-1zM74 12h1v1h-1zM92 12h1v1h-1zM0 13h1v1h-1zM6 13h1v1h-1zM39 13h1v1h-1zM48 13h1v1h-1zM94 13h1v1h-1zM143 13h1v1h-1zM19 14h1v1h-1zM47 14h1v1h-1zM55 14h2v1h-2zM64 14h1v1h-1zM75 14h1v1h-1zM88 14h1v1h-1z"/>
<path fill="#d9d8e9" d="M7 0h1v1h-1zM27 0h1v1h-1zM32 0h1v1h-1zM43 0h1v1h-1zM46 0h1v1h-1zM61 0h1v1h-1zM78 0h1v1h-1zM141 0h1v1h-1zM7 1h1v1h-1zM9 1h1v1h-1zM12 1h1v1h-1zM21 1h2v1h-2zM24 1h1v1h-1zM27 1h1v1h-1zM37 1h1v1h-1zM9 2h1v1h-1zM19 2h2v1h-2zM36 2h1v1h-1zM39 2h1v1h-1zM58 2h1v1h-1zM15 3h1v1h-1zM29 3h1v1h-1zM32 3h1v1h-1zM84 3h1v1h-1zM95 3h1v1h-1zM46 4h1v1h-1zM50 4h1v1h-1zM77 4h1v1h-1zM88 4h1v1h-1zM22 5h1v1h-1zM44 5h1v1h-1zM46 5h1v1h-1zM48 5h1v1h-1zM50 5h1v1h-1zM59 5h2v1h-2zM67 5h1v1h-1zM90 5h1v1h-1zM11 6h1v1h-1zM43 6h1v1h-1zM37 7h1v1h-1zM48 7h1v1h-1zM69 7h1v1h-1zM110 7h1v1h-1zM0 8h1v1h-1zM24 8h1v1h-1zM32 8h1v1h-1zM37 8h1v1h-1zM40 8h1v1h-1zM47 8h1v1h-1zM60 8h1v1h-1zM88 8h1v1h-1zM92 8h1v1h-1zM96 8h1v1h-1zM16 9h1v1h-1zM21 9h2v1h-2zM24 9h1v1h-1zM19 10h1v1h-1zM21 10h1v1h-1zM38 10h1v1h-1zM54 10h1v1h-1zM37 11h1v1h-1zM93 11h1v1h-1zM2 12h1v1h-1zM20 12h2v1h-2zM69 12h1v1h-1zM16 13h1v1h-1zM24 13h1v1h-1zM38 13h1v1h-1zM54 13h1v1h-1zM60 13h1v1h-1zM106 13h1v1h-1zM7 14h1v1h-1zM13 14h1v1h-1zM21 14h1v1h-1zM24 14h1v1h-1zM35 14h1v1h-1zM48 14h1v1h-1zM60 14h1v1h-1zM69 14h1v1h-1zM77 14h1v1h-1z"/>
<path fill="#dcdbea" d="M0 0h1v1h-1zM2 0h1v1h-1zM6 0h1v1h-1zM24 0h1v1h-1zM26 0h1v1h-1zM37 0h2v1h-2zM40 0h1v1h-1zM52 0h1v1h-1zM84 0h2v1h-2zM6 1h1v1h-1zM35 1h1v1h-1zM43 1h1v1h-1zM53 1h2v1h-2zM75 1h1v1h-1zM0 2h2v1h-2zM27 2h1v1h-1zM37 2h1v1h-1zM44 2h1v1h-1zM46 2h1v1h-1zM50 2h1v1h-1zM55 2h1v1h-1zM10 3h1v1h-1zM21 3h2v1h-2zM27 3h1v1h-1zM39 3h1v1h-1zM44 3h1v1h-1zM48 3h1v1h-1zM48 4h1v1h-1zM52 4h1v1h-1zM56 4h1v1h-1zM96 4h1v1h-1zM0 5h1v1h-1zM2 5h1v1h-1zM6 5h1v1h-1zM14 5h1v1h-1zM16 5h1v1h-1zM35 5h2v1h-2zM38 5h1v1h-1zM40 5h1v1h-1zM47 5h1v1h-1zM75 5h1v1h-1zM1 6h2v1h-2zM14 6h1v1h-1zM48 6h1v1h-1zM93 6h1v1h-1zM125 6h1v1h-1zM0 7h1v1h-1zM4 7h1v1h-1zM36 7h1v1h-1zM50 7h1v1h-1zM56 7h1v1h-1zM88 7h1v1h-1zM93 7h1v1h-1zM10 8h1v1h-1zM39 8h1v1h-1zM54 8h1v1h-1zM75 8h1v1h-1zM110 8h1v1h-1zM10 9h1v1h-1zM19 9h1v1h-1zM40 9h1v1h-1zM53 9h1v1h-1zM69 9h1v1h-1zM93 9h1v1h-1zM11 10h1v1h-1zM14 10h1v1h-1zM23 10h2v1h-2zM39 10h1v1h-1zM50 10h1v1h-1zM62 10h1v1h-1zM1 11h2v1h-2zM19 11h1v1h-1zM23 11h1v1h-1zM43 11h1v1h-1zM84 11h1v1h-1zM92 11h1v1h-1zM11 12h1v1h-1zM43 12h1v1h-1zM53 12h1v1h-1zM58 12h1v1h-1zM84 12h1v1h-1zM96 12h1v1h-1zM10 13h1v1h-1zM46 13h1v1h-1zM52 13h1v1h-1zM55 13h1v1h-1zM92 13h1v1h-1zM1 14h1v1h-1zM6 14h1v1h-1zM9 14h1v1h-1zM22 14h2v1h-2zM43 14h1v1h-1zM54 14h1v1h-1zM84 14h1v1h-1zM96 14h1v1h-1z"/>
<path fill="#e0deeb" d="M9 0h1v1h-1zM12 0h1v1h-1zM39 0h1v1h-1zM54 0h2v1h-2zM58 0h1v1h-1zM87 0h2v1h-2zM140 0h1v1h-1zM0 1h2v1h-2zM40 1h1v1h-1zM55 1h1v1h-1zM93 1h1v1h-1zM143 1h1v1h-1zM11 2h1v1h-1zM48 2h1v1h-1zM56 2h1v1h-1zM60 2h1v1h-1zM83 2h1v1h-1zM92 2h1v1h-1zM106 2h1v1h-1zM31 3h1v1h-1zM38 3h1v1h-1zM40 3h1v1h-1zM43 3h1v1h-1zM46 3h1v1h-1zM76 3h1v1h-1zM92 3h1v1h-1zM103 3h1v1h-1zM108 3h1v1h-1zM9 4h2v1h-2zM22 4h1v1h-1zM30 4h1v1h-1zM35 4h1v1h-1zM45 4h1v1h-1zM75 4h1v1h-1zM81 4h1v1h-1zM84 4h1v1h-1zM91 4h1v1h-1zM103 4h1v1h-1zM1 5h1v1h-1zM12 5h1v1h-1zM55 5h1v1h-1zM84 5h1v1h-1zM87 5h1v1h-1zM100 5h1v1h-1zM9 6h1v1h-1zM23 6h1v1h-1zM55 6h1v1h-1zM92 6h1v1h-1zM98 6h1v1h-1zM11 7h2v1h-2zM15 7h1v1h-1zM19 7h1v1h-1zM24 7h1v1h-1zM58 7h1v1h-1zM75 7h1v1h-1zM77 7h1v1h-1zM119 7h1v1h-1zM1 8h1v1h-1zM19 8h2v1h-2zM35 8h1v1h-1zM53 8h1v1h-1zM55 8h1v1h-1zM58 8h1v1h-1zM67 8h1v1h-1zM69 8h1v1h-1zM76 8h2v1h-2zM85 8h1v1h-1zM104 8h1v1h-1zM75 9h1v1h-1zM85 9h1v1h-1zM91 9h1v1h-1zM96 9h1v1h-1zM1 10h1v1h-1zM7 10h1v1h-1zM13 10h1v1h-1zM15 10h2v1h-2zM53 10h1v1h-1zM55 10h1v1h-1zM85 10h1v1h-1zM88 10h1v1h-1zM132 10h1v1h-1zM137 10h1v1h-1zM7 11h1v1h-1zM21 11h1v1h-1zM24 11h1v1h-1zM27 11h1v1h-1zM35 11h1v1h-1zM44 11h1v1h-1zM47 11h1v1h-1zM55 11h1v1h-1zM77 11h1v1h-1zM13 12h2v1h-2zM16 12h1v1h-1zM24 12h1v1h-1zM47 12h1v1h-1zM50 12h1v1h-1zM52 12h1v1h-1zM20 13h1v1h-1zM22 13h1v1h-1zM47 13h1v1h-1zM82 13h1v1h-1zM0 14h1v1h-1zM4 14h1v1h-1zM20 14h1v1h-1zM31 14h1v1h-1zM36 14h1v1h-1zM45 14h1v1h-1zM58 14h1v1h-1z"/>
<path fill="#e4e1ec" d="M11 0h1v1h-1zM19 0h1v1h-1zM47 0h1v1h-1zM69 0h1v1h-1zM75 0h1v1h-1zM77 0h1v1h-1zM103 0h1v1h-1zM107 0h1v1h-1zM11 1h1v1h-1zM15 1h1v1h-1zM45 1h1v1h-1zM64 1h1v1h-1zM88 1h1v1h-1zM91 1h1v1h-1zM101 1h1v1h-1zM108 1h1v1h-1zM23 2h1v1h-1zM88 2h1v1h-1zM0 3h1v1h-1zM45 3h1v1h-1zM55 3h1v1h-1zM58 3h1v1h-1zM60 3h1v1h-1zM87 3h1v1h-1zM1 4h1v1h-1zM11 4h2v1h-2zM19 4h3v1h-3zM51 4h1v1h-1zM76 4h1v1h-1zM101 4h1v1h-1zM121 4h1v1h-1zM4 5h1v1h-1zM7 5h1v1h-1zM121 5h1v1h-1zM4 6h1v1h-1zM6 6h1v1h-1zM10 6h1v1h-1zM27 6h1v1h-1zM35 6h1v1h-1zM46 6h1v1h-1zM50 6h1v1h-1zM69 6h1v1h-1zM2 7h1v1h-1zM27 7h2v1h-2zM31 7h1v1h-1zM35 7h1v1h-1zM39 7h1v1h-1zM98 7h1v1h-1zM106 7h1v1h-1zM108 7h1v1h-1zM12 8h2v1h-2zM15 8h1v1h-1zM23 8h1v1h-1zM50 8h1v1h-1zM84 8h1v1h-1zM93 8h1v1h-1zM108 8h1v1h-1zM0 9h1v1h-1zM6 9h1v1h-1zM9 9h1v1h-1zM12 9h1v1h-1zM14 9h1v1h-1zM46 9h1v1h-1zM52 9h1v1h-1zM88 9h1v1h-1zM106 9h1v1h-1zM0 10h1v1h-1zM36 10h1v1h-1zM43 10h1v1h-1zM52 10h1v1h-1zM93 10h1v1h-1zM15 11h1v1h-1zM20 11h1v1h-1zM52 11h1v1h-1zM54 11h1v1h-1zM12 12h1v1h-1zM15 12h1v1h-1zM29 12h1v1h-1zM46 12h1v1h-1zM98 12h1v1h-1zM2 13h1v1h-1zM11 13h2v1h-2zM36 13h1v1h-1zM58 13h1v1h-1zM88 13h1v1h-1zM101 13h1v1h-1zM29 14h1v1h-1z"/>
<path fill="#e7e5ee" d="M22 0h1v1h-1zM30 0h1v1h-1zM44 0h1v1h-1zM59 0h2v1h-2zM86 0h1v1h-1zM91 0h1v1h-1zM120 0h1v1h-1zM2 1h1v1h-1zM16 1h1v1h-1zM38 1h1v1h-1zM51 1h1v1h-1zM110 1h1v1h-1zM138 1h1v1h-1zM6 2h1v1h-1zM14 2h1v1h-1zM31 2h1v1h-1zM45 2h1v1h-1zM67 2h1v1h-1zM93 2h1v1h-1zM104 2h1v1h-1zM121 2h1v1h-1zM136 2h1v1h-1zM12 3h1v1h-1zM52 3h1v1h-1zM54 3h1v1h-1zM81 3h1v1h-1zM99 3h1v1h-1zM104 3h1v1h-1zM119 3h1v1h-1zM6 4h1v1h-1zM15 4h1v1h-1zM54 4h1v1h-1zM87 4h1v1h-1zM107 4h2v1h-2zM125 4h1v1h-1zM137 4h1v1h-1zM9 5h1v1h-1zM24 5h1v1h-1zM27 5h1v1h-1zM29 5h1v1h-1zM52 5h1v1h-1zM69 5h1v1h-1zM77 5h1v1h-1zM106 5h1v1h-1zM110 5h1v1h-1zM133 5h1v1h-1zM51 6h1v1h-1zM56 6h1v1h-1zM58 6h1v1h-1zM60 6h1v1h-1zM67 6h1v1h-1zM96 6h1v1h-1zM140 6h1v1h-1zM13 7h1v1h-1zM21 7h1v1h-1zM47 7h1v1h-1zM51 7h1v1h-1zM87 7h1v1h-1zM91 7h1v1h-1zM104 7h1v1h-1zM121 7h1v1h-1zM9 8h1v1h-1zM38 8h1v1h-1zM45 8h1v1h-1zM56 8h1v1h-1zM94 8h1v1h-1zM101 8h1v1h-1zM103 8h1v1h-1zM121 8h1v1h-1zM27 9h1v1h-1zM59 9h1v1h-1zM76 9h1v1h-1zM98 9h1v1h-1zM9 10h1v1h-1zM29 10h1v1h-1zM35 10h1v1h-1zM122 10h1v1h-1zM9 11h1v1h-1zM22 11h1v1h-1zM45 11h1v1h-1zM50 11h2v1h-2zM53 11h1v1h-1zM76 11h1v1h-1zM83 11h1v1h-1zM96 11h1v1h-1zM7 12h1v1h-1zM22 12h1v1h-1zM28 12h1v1h-1zM37 12h1v1h-1zM45 12h1v1h-1zM54 12h1v1h-1zM60 12h1v1h-1zM88 12h1v1h-1zM4 13h1v1h-1zM15 13h1v1h-1zM45 13h1v1h-1zM69 13h1v1h-1zM77 13h1v1h-1zM84 13h1v1h-1zM96 13h1v1h-1zM99 13h1v1h-1zM2 14h1v1h-1zM25 14h1v1h-1zM27 14h1v1h-1zM40 14h1v1h-1zM51 14h1v1h-1zM53 14h1v1h-1zM85 14h1v1h-1zM93 14h2v1h-2z"/>
<path fill="#eae8ef" d="M51 0h1v1h-1zM96 0h1v1h-1zM99 0h1v1h-1zM106 0h1v1h-1zM28 1h2v1h-2zM31 1h1v1h-1zM58 1h1v1h-1zM60 1h1v1h-1zM84 1h1v1h-1zM103 1h2v1h-2zM15 2h1v1h-1zM54 2h1v1h-1zM69 2h1v1h-1zM75 2h1v1h-1zM89 2h1v1h-1zM96 2h1v1h-1zM103 2h1v1h-1zM13 3h2v1h-2zM16 3h1v1h-1zM20 3h1v1h-1zM77 3h1v1h-1zM138 3h1v1h-1zM7 4h1v1h-1zM14 4h1v1h-1zM58 4h1v1h-1zM19 5h1v1h-1zM28 5h1v1h-1zM45 5h1v1h-1zM53 5h1v1h-1zM58 5h1v1h-1zM62 5h1v1h-1zM91 5h1v1h-1zM93 5h1v1h-1zM96 5h1v1h-1zM137 5h1v1h-1zM45 6h1v1h-1zM54 6h1v1h-1zM85 6h1v1h-1zM91 6h1v1h-1zM94 6h1v1h-1zM101 6h1v1h-1zM14 7h1v1h-1zM43 7h1v1h-1zM52 7h1v1h-1zM54 7h1v1h-1zM68 7h1v1h-1zM76 7h1v1h-1zM84 7h1v1h-1zM97 7h1v1h-1zM14 8h1v1h-1zM21 8h1v1h-1zM27 8h1v1h-1zM33 8h1v1h-1zM87 8h1v1h-1zM135 8h1v1h-1zM15 9h1v1h-1zM23 9h1v1h-1zM31 9h1v1h-1zM77 9h1v1h-1zM94 9h1v1h-1zM102 9h1v1h-1zM20 10h1v1h-1zM44 10h1v1h-1zM60 10h1v1h-1zM63 10h1v1h-1zM76 10h1v1h-1zM6 11h1v1h-1zM13 11h1v1h-1zM25 11h1v1h-1zM46 11h1v1h-1zM67 11h1v1h-1zM88 11h1v1h-1zM107 11h1v1h-1zM9 12h1v1h-1zM26 12h1v1h-1zM65 12h1v1h-1zM79 12h1v1h-1zM87 12h1v1h-1zM121 12h1v1h-1zM23 13h1v1h-1zM83 13h1v1h-1zM93 13h1v1h-1zM107 13h1v1h-1zM124 13h1v1h-1zM128 13h1v1h-1zM67 14h1v1h-1zM70 14h1v1h-1zM76 14h1v1h-1zM86 14h2v1h-2zM91 14h1v1h-1zM99 14h1v1h-1zM104 14h3v1h-3zM141 14h1v1h-1z"/>
<path fill="#eeebf0" d="M14 0h1v1h-1zM21 0h1v1h-1zM76 0h1v1h-1zM79 0h1v1h-1zM89 0h1v1h-1zM94 0h1v1h-1zM104 0h1v1h-1zM20 1h1v1h-1zM56 1h1v1h-1zM96 1h1v1h-1zM107 1h1v1h-1zM120 1h1v1h-1zM140 1h2v1h-2zM38 2h1v1h-1zM51 2h2v1h-2zM59 2h1v1h-1zM82 2h1v1h-1zM85 2h1v1h-1zM7 3h1v1h-1zM59 3h1v1h-1zM96 3h1v1h-1zM106 3h1v1h-1zM31 4h1v1h-1zM59 4h1v1h-1zM80 4h1v1h-1zM83 4h1v1h-1zM104 4h1v1h-1zM106 4h1v1h-1zM136 4h1v1h-1zM31 5h1v1h-1zM54 5h1v1h-1zM76 5h1v1h-1zM98 5h1v1h-1zM104 5h1v1h-1zM107 5h1v1h-1zM127 5h1v1h-1zM37 6h1v1h-1zM59 6h1v1h-1zM75 6h1v1h-1zM77 6h1v1h-1zM6 7h1v1h-1zM9 7h1v1h-1zM20 7h1v1h-1zM29 7h1v1h-1zM45 7h1v1h-1zM59 7h2v1h-2zM73 7h1v1h-1zM101 7h1v1h-1zM138 7h1v1h-1zM29 8h1v1h-1zM31 8h1v1h-1zM36 8h1v1h-1zM52 8h1v1h-1zM66 8h1v1h-1zM79 8h1v1h-1zM91 8h1v1h-1zM106 8h1v1h-1zM112 8h1v1h-1zM117 8h1v1h-1zM20 9h1v1h-1zM58 9h1v1h-1zM60 9h1v1h-1zM63 9h1v1h-1zM86 9h1v1h-1zM127 9h1v1h-1zM134 9h1v1h-1zM30 10h1v1h-1zM45 10h1v1h-1zM58 10h2v1h-2zM79 10h1v1h-1zM103 10h1v1h-1zM58 11h1v1h-1zM62 11h1v1h-1zM66 11h1v1h-1zM71 11h1v1h-1zM75 11h1v1h-1zM87 11h1v1h-1zM91 11h1v1h-1zM118 11h1v1h-1zM120 11h1v1h-1zM4 12h1v1h-1zM51 12h1v1h-1zM99 12h1v1h-1zM107 12h1v1h-1zM142 12h1v1h-1zM31 13h1v1h-1zM37 13h1v1h-1zM50 13h2v1h-2zM89 13h1v1h-1zM98 13h1v1h-1zM103 13h1v1h-1zM136 13h1v1h-1zM139 13h1v1h-1zM14 14h1v1h-1zM71 14h1v1h-1zM83 14h1v1h-1zM108 14h1v1h-1z"/>
<path fill="#eee8ec" d="M15 0h1v1h-1zM23 0h1v1h-1zM29 0h1v1h-1zM31 0h1v1h-1zM45 0h1v1h-1zM67 0h1v1h-1zM93 0h1v1h-1zM4 1h1v1h-1zM14 1h1v1h-1zM25 1h1v1h-1zM44 1h1v1h-1zM86 1h2v1h-2zM98 1h1v1h-1zM106 1h1v1h-1zM122 1h1v1h-1zM137 1h1v1h-1zM80 2h2v1h-2zM94 2h1v1h-1zM97 2h1v1h-1zM99 2h1v1h-1zM37 3h1v1h-1zM51 3h1v1h-1zM85 3h1v1h-1zM89 3h1v1h-1zM91 3h1v1h-1zM101 3h1v1h-1zM27 4h2v1h-2zM36 4h1v1h-1zM60 4h1v1h-1zM67 4h1v1h-1zM99 4h1v1h-1zM20 5h1v1h-1zM23 5h1v1h-1zM51 5h1v1h-1zM109 5h1v1h-1zM123 5h1v1h-1zM125 5h1v1h-1zM32 6h1v1h-1zM107 6h2v1h-2zM65 7h1v1h-1zM67 7h1v1h-1zM71 7h1v1h-1zM83 7h1v1h-1zM86 7h1v1h-1zM107 7h1v1h-1zM65 8h1v1h-1zM71 8h1v1h-1zM80 8h1v1h-1zM98 8h1v1h-1zM107 8h1v1h-1zM120 8h1v1h-1zM124 8h1v1h-1zM138 8h1v1h-1zM141 8h1v1h-1zM54 9h1v1h-1zM62 9h1v1h-1zM71 9h1v1h-1zM99 9h1v1h-1zM126 9h1v1h-1zM6 10h1v1h-1zM27 10h1v1h-1zM66 10h1v1h-1zM70 10h1v1h-1zM83 10h1v1h-1zM87 10h1v1h-1zM99 10h1v1h-1zM101 10h1v1h-1zM104 10h1v1h-1zM14 11h1v1h-1zM28 11h2v1h-2zM59 11h1v1h-1zM101 11h2v1h-2zM104 11h1v1h-1zM138 11h1v1h-1zM67 12h1v1h-1zM103 12h1v1h-1zM106 12h1v1h-1zM109 12h1v1h-1zM127 12h1v1h-1zM14 13h1v1h-1zM76 13h1v1h-1zM80 13h1v1h-1zM100 13h1v1h-1zM104 13h1v1h-1zM127 13h1v1h-1zM38 14h1v1h-1zM59 14h1v1h-1zM92 14h1v1h-1zM101 14h1v1h-1zM107 14h1v1h-1z"/>
<path fill="#eee5e9" d="M98 0h1v1h-1zM108 0h1v1h-1zM121 0h1v1h-1zM26 1h1v1h-1zM69 1h1v1h-1zM76 1h1v1h-1zM126 1h1v1h-1zM77 2h1v1h-1zM98 2h1v1h-1zM101 2h1v1h-1zM109 2h1v1h-1zM118 2h1v1h-1zM122 2h1v1h-1zM144 2h1v1h-1zM9 3h1v1h-1zM23 3h1v1h-1zM28 3h1v1h-1zM69 3h1v1h-1zM98 3h1v1h-1zM142 3h1v1h-1zM23 4h1v1h-1zM89 4h1v1h-1zM97 4h1v1h-1zM102 4h1v1h-1zM103 5h1v1h-1zM140 5h1v1h-1zM15 6h2v1h-2zM20 6h1v1h-1zM99 6h1v1h-1zM106 6h1v1h-1zM109 6h1v1h-1zM79 7h1v1h-1zM103 7h1v1h-1zM140 7h1v1h-1zM25 8h2v1h-2zM62 8h1v1h-1zM105 8h1v1h-1zM25 9h1v1h-1zM45 9h1v1h-1zM51 9h1v1h-1zM72 9h1v1h-1zM87 9h1v1h-1zM107 9h1v1h-1zM136 9h1v1h-1zM71 10h1v1h-1zM91 10h1v1h-1zM97 10h1v1h-1zM26 11h1v1h-1zM30 11h2v1h-2zM82 11h1v1h-1zM98 11h1v1h-1zM105 11h1v1h-1zM108 11h1v1h-1zM121 11h1v1h-1zM27 12h1v1h-1zM30 12h1v1h-1zM62 12h1v1h-1zM76 12h2v1h-2zM101 12h1v1h-1zM104 12h1v1h-1zM29 13h1v1h-1zM62 13h1v1h-1zM71 13h1v1h-1zM75 13h1v1h-1zM108 13h1v1h-1zM140 13h1v1h-1zM144 13h1v1h-1zM16 14h1v1h-1zM63 14h1v1h-1zM103 14h1v1h-1zM131 14h1v1h-1z"/>
<path fill="#efe2e5" d="M28 0h1v1h-1zM70 0h1v1h-1zM80 0h3v1h-3zM97 0h1v1h-1zM123 0h1v1h-1zM125 0h1v1h-1zM137 0h1v1h-1zM65 1h1v1h-1zM99 1h1v1h-1zM125 1h1v1h-1zM135 1h1v1h-1zM25 2h1v1h-1zM25 3h1v1h-1zM94 3h1v1h-1zM109 3h1v1h-1zM86 4h1v1h-1zM98 4h1v1h-1zM26 5h1v1h-1zM57 5h1v1h-1zM66 5h1v1h-1zM99 5h1v1h-1zM29 6h1v1h-1zM62 6h1v1h-1zM66 6h1v1h-1zM87 6h1v1h-1zM89 6h1v1h-1zM115 6h1v1h-1zM119 6h1v1h-1zM122 6h1v1h-1zM30 7h1v1h-1zM66 7h1v1h-1zM59 8h1v1h-1zM118 8h1v1h-1zM29 9h2v1h-2zM89 9h1v1h-1zM103 9h1v1h-1zM129 9h1v1h-1zM133 9h1v1h-1zM138 9h1v1h-1zM141 9h1v1h-1zM28 10h1v1h-1zM31 10h1v1h-1zM89 10h1v1h-1zM92 10h1v1h-1zM98 10h1v1h-1zM100 10h1v1h-1zM127 10h1v1h-1zM99 11h2v1h-2zM106 11h1v1h-1zM136 11h1v1h-1zM83 12h1v1h-1zM86 12h1v1h-1zM94 12h1v1h-1zM105 12h1v1h-1zM122 12h1v1h-1zM27 13h1v1h-1zM63 13h1v1h-1zM66 13h2v1h-2zM70 13h1v1h-1zM91 13h1v1h-1zM123 13h1v1h-1zM26 14h1v1h-1zM28 14h1v1h-1zM98 14h1v1h-1zM122 14h1v1h-1zM139 14h2v1h-2z"/>
<path fill="#efdfe2" d="M83 0h1v1h-1zM122 0h1v1h-1zM127 0h1v1h-1zM136 0h1v1h-1zM52 1h1v1h-1zM80 1h1v1h-1zM82 1h1v1h-1zM97 1h1v1h-1zM136 1h1v1h-1zM29 2h1v1h-1zM105 2h1v1h-1zM120 2h1v1h-1zM138 2h1v1h-1zM30 3h1v1h-1zM63 3h1v1h-1zM67 3h1v1h-1zM80 3h1v1h-1zM82 3h1v1h-1zM93 3h1v1h-1zM107 3h1v1h-1zM122 3h1v1h-1zM29 4h1v1h-1zM119 4h2v1h-2zM142 4h1v1h-1zM37 5h1v1h-1zM81 5h1v1h-1zM108 5h1v1h-1zM25 6h1v1h-1zM102 6h1v1h-1zM104 6h1v1h-1zM114 7h1v1h-1zM122 7h1v1h-1zM124 7h1v1h-1zM136 7h1v1h-1zM72 8h1v1h-1zM26 9h1v1h-1zM28 9h1v1h-1zM65 9h2v1h-2zM115 9h1v1h-1zM65 10h1v1h-1zM68 10h1v1h-1zM72 10h1v1h-1zM106 10h1v1h-1zM108 10h1v1h-1zM121 10h1v1h-1zM135 10h1v1h-1zM140 10h2v1h-2zM60 11h1v1h-1zM70 11h1v1h-1zM72 11h1v1h-1zM109 11h1v1h-1zM31 12h1v1h-1zM55 12h1v1h-1zM63 12h1v1h-1zM91 12h1v1h-1zM139 12h1v1h-1zM59 13h1v1h-1zM137 13h1v1h-1zM65 14h1v1h-1zM124 14h1v1h-1zM133 14h1v1h-1zM142 14h1v1h-1z"/>
<path fill="#efdcde" d="M62 0h2v1h-2zM100 0h2v1h-2zM118 0h1v1h-1zM130 0h1v1h-1zM79 1h1v1h-1zM81 1h1v1h-1zM139 1h1v1h-1zM66 2h1v1h-1zM102 2h1v1h-1zM108 2h1v1h-1zM140 2h1v1h-1zM26 3h1v1h-1zM120 3h1v1h-1zM63 4h1v1h-1zM70 4h1v1h-1zM79 4h1v1h-1zM100 4h1v1h-1zM141 4h1v1h-1zM144 4h1v1h-1zM25 5h1v1h-1zM70 5h1v1h-1zM101 5h1v1h-1zM141 5h1v1h-1zM31 6h1v1h-1zM100 6h1v1h-1zM118 6h1v1h-1zM141 6h1v1h-1zM62 7h1v1h-1zM72 7h1v1h-1zM74 7h1v1h-1zM105 7h1v1h-1zM109 7h1v1h-1zM141 7h1v1h-1zM144 7h1v1h-1zM28 8h1v1h-1zM70 8h1v1h-1zM83 8h1v1h-1zM86 8h1v1h-1zM100 8h1v1h-1zM144 8h1v1h-1zM70 9h1v1h-1zM81 9h1v1h-1zM83 9h1v1h-1zM97 9h1v1h-1zM104 9h1v1h-1zM119 9h1v1h-1zM121 9h1v1h-1zM25 10h1v1h-1zM86 10h1v1h-1zM102 10h1v1h-1zM107 10h1v1h-1zM68 11h1v1h-1zM80 11h1v1h-1zM86 11h1v1h-1zM116 11h1v1h-1zM125 11h1v1h-1zM140 11h1v1h-1zM82 12h1v1h-1zM123 12h1v1h-1zM72 13h1v1h-1zM97 13h1v1h-1zM66 14h1v1h-1zM72 14h1v1h-1zM100 14h1v1h-1zM121 14h1v1h-1zM125 14h1v1h-1zM134 14h2v1h-2z"/>
<path fill="#efd8da" d="M102 0h1v1h-1zM105 0h1v1h-1zM135 0h1v1h-1zM46 1h1v1h-1zM66 1h1v1h-1zM68 1h1v1h-1zM102 1h1v1h-1zM109 1h1v1h-1zM119 1h1v1h-1zM28 2h1v1h-1zM63 2h1v1h-1zM100 2h1v1h-1zM137 2h1v1h-1zM141 2h1v1h-1zM66 3h1v1h-1zM72 3h1v1h-1zM100 3h1v1h-1zM125 3h1v1h-1zM82 4h1v1h-1zM105 4h1v1h-1zM109 4h2v1h-2zM89 5h1v1h-1zM122 5h1v1h-1zM36 6h1v1h-1zM76 6h1v1h-1zM97 6h1v1h-1zM103 6h1v1h-1zM105 6h1v1h-1zM144 6h1v1h-1zM99 7h1v1h-1zM120 7h1v1h-1zM30 8h1v1h-1zM109 8h1v1h-1zM126 8h1v1h-1zM68 9h1v1h-1zM108 9h3v1h-3zM118 9h1v1h-1zM122 9h1v1h-1zM124 9h2v1h-2zM26 10h1v1h-1zM114 10h1v1h-1zM130 10h1v1h-1zM63 11h1v1h-1zM65 11h1v1h-1zM89 11h1v1h-1zM119 11h1v1h-1zM123 11h1v1h-1zM127 11h1v1h-1zM135 11h1v1h-1zM141 11h1v1h-1zM59 12h1v1h-1zM80 12h1v1h-1zM137 12h1v1h-1zM25 13h1v1h-1zM65 13h1v1h-1zM79 13h1v1h-1zM81 13h1v1h-1zM109 13h1v1h-1zM114 13h1v1h-1zM138 13h1v1h-1zM82 14h1v1h-1zM109 14h1v1h-1zM115 14h1v1h-1z"/>
<path fill="#efd5d7" d="M109 0h1v1h-1zM143 0h1v1h-1zM100 1h1v1h-1zM26 2h1v1h-1zM68 2h1v1h-1zM86 2h1v1h-1zM112 2h1v1h-1zM62 3h1v1h-1zM68 3h1v1h-1zM79 3h1v1h-1zM97 3h1v1h-1zM102 3h1v1h-1zM118 3h1v1h-1zM137 3h1v1h-1zM26 4h1v1h-1zM62 4h1v1h-1zM122 4h1v1h-1zM135 4h1v1h-1zM82 5h1v1h-1zM102 5h1v1h-1zM136 5h1v1h-1zM81 6h1v1h-1zM86 6h1v1h-1zM25 7h1v1h-1zM70 7h1v1h-1zM92 7h1v1h-1zM126 7h1v1h-1zM6 8h1v1h-1zM102 8h1v1h-1zM133 8h1v1h-1zM67 9h1v1h-1zM80 9h1v1h-1zM100 9h1v1h-1zM111 9h1v1h-1zM137 9h1v1h-1zM75 10h1v1h-1zM133 10h1v1h-1zM137 11h1v1h-1zM25 12h1v1h-1zM68 12h1v1h-1zM72 12h1v1h-1zM102 12h1v1h-1zM140 12h1v1h-1zM26 13h1v1h-1zM102 13h1v1h-1zM121 13h1v1h-1zM125 13h1v1h-1zM30 14h1v1h-1zM62 14h1v1h-1zM68 14h1v1h-1zM97 14h1v1h-1zM102 14h1v1h-1zM110 14h1v1h-1zM119 14h2v1h-2zM123 14h1v1h-1zM137 14h2v1h-2z"/>
<path fill="#f0d2d3" d="M25 0h1v1h-1zM73 0h1v1h-1zM124 0h1v1h-1zM59 1h1v1h-1zM62 1h2v1h-2zM67 1h1v1h-1zM70 1h1v1h-1zM89 1h1v1h-1zM131 1h1v1h-1zM124 2h1v1h-1zM74 3h1v1h-1zM86 3h1v1h-1zM133 3h1v1h-1zM139 3h1v1h-1zM25 4h1v1h-1zM69 4h1v1h-1zM118 4h1v1h-1zM138 4h1v1h-1zM63 5h1v1h-1zM68 5h1v1h-1zM74 5h1v1h-1zM83 5h1v1h-1zM138 5h1v1h-1zM70 6h1v1h-1zM72 6h1v1h-1zM79 6h1v1h-1zM83 6h1v1h-1zM110 6h1v1h-1zM143 6h1v1h-1zM82 7h1v1h-1zM100 7h1v1h-1zM128 7h1v1h-1zM89 8h1v1h-1zM137 8h1v1h-1zM143 8h1v1h-1zM140 9h1v1h-1zM142 9h1v1h-1zM144 9h1v1h-1zM67 10h1v1h-1zM109 10h1v1h-1zM118 10h1v1h-1zM125 10h1v1h-1zM138 10h1v1h-1zM79 11h1v1h-1zM81 11h1v1h-1zM66 12h1v1h-1zM70 12h1v1h-1zM89 12h1v1h-1zM112 12h1v1h-1zM120 12h1v1h-1zM131 12h2v1h-2zM21 13h1v1h-1zM30 13h1v1h-1zM68 13h1v1h-1zM117 13h1v1h-1zM122 13h1v1h-1zM81 14h1v1h-1zM89 14h1v1h-1zM118 14h1v1h-1z"/>
<path fill="#f0cfd0" d="M68 0h1v1h-1zM110 0h1v1h-1zM112 0h1v1h-1zM117 1h2v1h-2zM123 1h1v1h-1zM130 1h1v1h-1zM132 1h1v1h-1zM30 2h1v1h-1zM62 2h1v1h-1zM79 2h1v1h-1zM115 2h1v1h-1zM135 2h1v1h-1zM105 3h1v1h-1zM127 3h1v1h-1zM65 4h2v1h-2zM68 4h1v1h-1zM71 4h1v1h-1zM127 4h1v1h-1zM140 4h1v1h-1zM115 5h1v1h-1zM118 5h2v1h-2zM139 5h1v1h-1zM30 6h1v1h-1zM80 6h1v1h-1zM120 6h2v1h-2zM137 6h2v1h-2zM142 6h1v1h-1zM26 7h1v1h-1zM142 7h1v1h-1zM63 8h1v1h-1zM139 8h1v1h-1zM79 9h1v1h-1zM105 9h1v1h-1zM120 10h1v1h-1zM97 11h1v1h-1zM112 11h1v1h-1zM131 11h1v1h-1zM81 12h1v1h-1zM100 12h1v1h-1zM119 12h1v1h-1zM126 12h1v1h-1zM138 12h1v1h-1zM141 12h1v1h-1zM28 13h1v1h-1zM86 13h1v1h-1zM111 13h1v1h-1zM115 13h1v1h-1zM80 14h1v1h-1z"/>
<path fill="#f0cccc" d="M66 0h1v1h-1zM72 0h1v1h-1zM126 0h1v1h-1zM131 0h1v1h-1zM138 0h1v1h-1zM71 1h2v1h-2zM105 1h1v1h-1zM142 1h1v1h-1zM71 2h1v1h-1zM107 2h1v1h-1zM116 2h1v1h-1zM119 2h1v1h-1zM133 2h1v1h-1zM121 3h1v1h-1zM131 3h1v1h-1zM74 4h1v1h-1zM133 4h1v1h-1zM30 5h1v1h-1zM97 5h1v1h-1zM120 5h1v1h-1zM134 5h1v1h-1zM144 5h1v1h-1zM63 6h1v1h-1zM65 6h1v1h-1zM68 6h1v1h-1zM73 6h1v1h-1zM112 6h1v1h-1zM128 6h1v1h-1zM63 7h1v1h-1zM80 7h1v1h-1zM132 7h2v1h-2zM137 7h1v1h-1zM139 7h1v1h-1zM68 8h1v1h-1zM123 8h1v1h-1zM142 8h1v1h-1zM101 9h1v1h-1zM105 10h1v1h-1zM110 10h1v1h-1zM123 10h1v1h-1zM133 11h1v1h-1zM142 11h2v1h-2zM71 12h1v1h-1zM108 12h1v1h-1zM115 12h1v1h-1zM118 12h1v1h-1zM125 12h1v1h-1zM105 13h1v1h-1zM79 14h1v1h-1zM129 14h1v1h-1zM132 14h1v1h-1z"/>
<path fill="#f0c8c8" d="M65 0h1v1h-1zM74 0h1v1h-1zM144 0h1v1h-1zM30 1h1v1h-1zM112 1h1v1h-1zM115 1h1v1h-1zM121 1h1v1h-1zM70 2h1v1h-1zM87 2h1v1h-1zM123 2h1v1h-1zM131 2h1v1h-1zM65 3h1v1h-1zM141 3h1v1h-1zM131 4h1v1h-1zM65 5h1v1h-1zM86 5h1v1h-1zM105 5h1v1h-1zM131 5h1v1h-1zM71 6h1v1h-1zM82 6h1v1h-1zM135 6h1v1h-1zM97 8h1v1h-1zM120 9h1v1h-1zM128 9h1v1h-1zM131 9h1v1h-1zM81 10h2v1h-2zM139 10h1v1h-1zM134 13h1v1h-1zM141 13h1v1h-1z"/>
<path fill="#efc5c4" d="M117 0h1v1h-1zM119 0h1v1h-1zM139 0h1v1h-1zM142 0h1v1h-1zM65 2h1v1h-1zM124 3h1v1h-1zM136 3h1v1h-1zM143 3h1v1h-1zM73 4h1v1h-1zM126 4h1v1h-1zM79 5h1v1h-1zM126 5h1v1h-1zM128 5h1v1h-1zM130 5h1v1h-1zM143 5h1v1h-1zM81 7h1v1h-1zM89 7h1v1h-1zM102 7h1v1h-1zM131 7h1v1h-1zM82 8h1v1h-1zM125 8h1v1h-1zM127 8h1v1h-1zM129 8h1v1h-1zM136 8h1v1h-1zM123 9h1v1h-1zM139 9h1v1h-1zM143 9h1v1h-1zM134 10h1v1h-1zM143 10h1v1h-1zM122 11h1v1h-1zM111 12h1v1h-1zM128 12h1v1h-1zM143 12h1v1h-1zM126 13h1v1h-1zM144 14h1v1h-1z"/>
<path fill="#eec1c0" d="M74 1h1v1h-1zM127 2h1v1h-1zM123 3h1v1h-1zM140 3h1v1h-1zM117 4h1v1h-1zM123 4h2v1h-2zM117 5h1v1h-1zM135 5h1v1h-1zM127 6h1v1h-1zM129 6h1v1h-1zM123 7h1v1h-1zM143 7h1v1h-1zM116 8h1v1h-1zM119 8h1v1h-1zM82 9h1v1h-1zM117 9h1v1h-1zM135 9h1v1h-1zM80 10h1v1h-1zM111 10h1v1h-1zM110 11h1v1h-1zM126 11h1v1h-1zM130 12h1v1h-1zM131 13h1v1h-1zM127 14h1v1h-1z"/>
<path fill="#eebdbc" d="M72 2h1v1h-1zM74 2h1v1h-1zM126 2h1v1h-1zM117 3h1v1h-1zM135 3h1v1h-1zM114 4h1v1h-1zM139 4h1v1h-1zM143 4h1v1h-1zM72 5h2v1h-2zM112 5h1v1h-1zM142 5h1v1h-1zM26 6h1v1h-1zM130 7h1v1h-1zM131 8h1v1h-1zM112 9h1v1h-1zM136 10h1v1h-1zM114 11h1v1h-1zM133 12h1v1h-1zM135 12h1v1h-1zM112 13h1v1h-1zM143 14h1v1h-1z"/>
<path fill="#eebab8" d="M71 0h1v1h-1zM114 0h1v1h-1zM73 1h1v1h-1zM114 1h1v1h-1zM129 1h1v1h-1zM110 2h1v1h-1zM125 2h1v1h-1zM132 2h1v1h-1zM134 2h1v1h-1zM128 3h1v1h-1zM132 3h1v1h-1zM111 4h1v1h-1zM113 5h2v1h-2zM133 6h1v1h-1zM139 6h1v1h-1zM117 7h1v1h-1zM127 7h1v1h-1zM129 7h1v1h-1zM128 8h1v1h-1zM117 10h1v1h-1zM124 10h1v1h-1zM126 10h1v1h-1zM129 10h1v1h-1zM103 11h1v1h-1zM124 11h1v1h-1zM129 12h1v1h-1zM113 13h1v1h-1zM142 13h1v1h-1z"/>
<path fill="#edb6b5" d="M124 1h1v1h-1zM128 2h1v1h-1zM139 2h1v1h-1zM70 3h2v1h-2zM73 3h1v1h-1zM114 3h2v1h-2zM71 5h1v1h-1zM80 5h1v1h-1zM129 5h1v1h-1zM124 6h1v1h-1zM111 7h1v1h-1zM115 7h1v1h-1zM135 7h1v1h-1zM114 8h1v1h-1zM130 8h1v1h-1zM134 8h1v1h-1zM112 10h1v1h-1zM142 10h1v1h-1zM134 11h1v1h-1zM144 11h1v1h-1zM117 12h1v1h-1zM124 12h1v1h-1zM144 12h1v1h-1zM120 13h1v1h-1zM114 14h1v1h-1z"/>
<path fill="#ecb2b1" d="M134 0h1v1h-1zM129 3h1v1h-1zM116 4h1v1h-1zM124 5h1v1h-1zM74 6h1v1h-1zM116 7h1v1h-1zM118 7h1v1h-1zM125 7h1v1h-1zM81 8h1v1h-1zM132 8h1v1h-1zM115 10h1v1h-1zM128 10h1v1h-1zM129 11h1v1h-1zM132 13h1v1h-1zM135 13h1v1h-1z"/>
<path fill="#ecaead" d="M129 0h1v1h-1zM111 1h1v1h-1zM127 1h1v1h-1zM144 1h1v1h-1zM73 2h1v1h-1zM126 3h1v1h-1zM134 3h1v1h-1zM112 4h1v1h-1zM132 4h1v1h-1zM111 8h1v1h-1zM114 9h1v1h-1zM117 11h1v1h-1zM111 14h1v1h-1z"/>
<path fill="#ecaba9" d="M133 0h1v1h-1zM133 1h1v1h-1zM111 2h1v1h-1zM129 2h1v1h-1zM144 3h1v1h-1zM128 4h1v1h-1zM123 6h1v1h-1zM130 6h1v1h-1zM134 6h1v1h-1zM134 7h1v1h-1zM116 9h1v1h-1zM130 9h1v1h-1zM111 11h1v1h-1zM116 12h1v1h-1zM110 13h1v1h-1zM128 14h1v1h-1z"/>
<path fill="#eba7a5" d="M72 4h1v1h-1zM129 4h1v1h-1zM116 6h1v1h-1zM131 6h1v1h-1zM110 12h1v1h-1zM133 13h1v1h-1zM112 14h1v1h-1z"/>
<path fill="#eaa3a1" d="M116 0h1v1h-1zM132 0h1v1h-1zM128 1h1v1h-1zM130 2h1v1h-1zM110 3h1v1h-1zM116 5h1v1h-1zM126 6h1v1h-1zM113 7h1v1h-1zM144 10h1v1h-1zM118 13h1v1h-1zM126 14h1v1h-1zM130 14h1v1h-1z"/>
<path fill="#eaa09e" d="M113 0h1v1h-1zM134 1h1v1h-1zM111 3h1v1h-1zM111 5h1v1h-1zM114 6h1v1h-1zM132 9h1v1h-1zM117 14h1v1h-1z"/>
<path fill="#e99c9a" d="M142 2h1v1h-1zM130 4h1v1h-1zM134 4h1v1h-1zM111 6h1v1h-1zM112 7h1v1h-1zM113 9h1v1h-1zM116 10h1v1h-1zM134 12h1v1h-1zM116 13h1v1h-1zM129 13h2v1h-2z"/>
<path fill="#e89896" d="M116 1h1v1h-1zM132 6h1v1h-1zM132 11h1v1h-1zM116 14h1v1h-1z"/>
<path fill="#e89492" d="M113 1h1v1h-1zM114 2h1v1h-1zM116 3h1v1h-1zM117 6h1v1h-1zM131 10h1v1h-1zM130 11h1v1h-1z"/>
<path fill="#e7918f" d="M111 0h1v1h-1zM128 0h1v1h-1zM143 2h1v1h-1zM115 4h1v1h-1zM113 8h1v1h-1z"/>
<path fill="#e68d8b" d="M113 2h1v1h-1zM112 3h1v1h-1zM139 11h1v1h-1zM114 12h1v1h-1z"/>
<path fill="#e58987" d="M115 0h1v1h-1zM117 2h1v1h-1zM113 3h1v1h-1z"/>
<path fill="#e58684" d="M130 3h1v1h-1zM113 4h1v1h-1z"/>
<path fill="#e48280" d="M132 5h1v1h-1zM113 12h1v1h-1z"/>
<path fill="#e37e7c" d="M113 11h1v1h-1z"/>
<path fill="#e17775" d="M113 6h1v1h-1zM128 11h1v1h-1z"/>
<path fill="#df6f6e" d="M113 14h1v1h-1z"/>
<path fill="#dd6767" d="M113 10h1v1h-1z"/>
</g>
<g transform="translate(78.60,194.50) scale(3.3497,4.4083)" shape-rendering="crispEdges">
<path fill="#5f5cad" d="M49 5h1v1h-1zM49 11h1v1h-1z"/>
<path fill="#6462b0" d="M61 3h1v1h-1z"/>
<path fill="#6a67b2" d="M49 0h1v1h-1z"/>
<path fill="#6f6db5" d="M90 5h1v1h-1zM5 9h1v1h-1zM95 9h1v1h-1z"/>
<path fill="#7472b8" d="M61 0h1v1h-1zM21 4h1v1h-1z"/>
<path fill="#7977ba" d="M95 0h1v1h-1zM49 1h1v1h-1zM49 6h1v1h-1z"/>
<path fill="#7d7cbc" d="M95 7h1v1h-1zM90 8h1v1h-1zM95 8h1v1h-1z"/>
<path fill="#8280bf" d="M49 3h1v1h-1zM8 6h1v1h-1zM5 8h1v1h-1z"/>
<path fill="#8685c1" d="M90 0h1v1h-1zM95 3h1v1h-1zM61 5h1v1h-1zM12 6h1v1h-1zM57 7h1v1h-1zM95 11h1v1h-1z"/>
<path fill="#8b8ac3" d="M90 7h1v1h-1zM49 8h1v1h-1zM8 9h1v1h-1zM8 10h1v1h-1zM90 10h1v1h-1z"/>
<path fill="#908fc5" d="M95 1h1v1h-1zM49 2h1v1h-1zM5 6h1v1h-1zM95 6h1v1h-1z"/>
<path fill="#9494c7" d="M95 4h1v1h-1zM95 5h1v1h-1zM61 6h1v1h-1zM90 6h1v1h-1zM49 9h1v1h-1zM61 9h1v1h-1z"/>
<path fill="#9998ca" d="M8 3h1v1h-1zM34 7h1v1h-1zM8 8h1v1h-1zM91 9h1v1h-1zM5 10h1v1h-1zM30 10h1v1h-1z"/>
<path fill="#9d9dcc" d="M3 0h1v1h-1zM61 2h1v1h-1zM49 4h1v1h-1zM8 5h1v1h-1zM61 7h1v1h-1zM95 10h1v1h-1z"/>
<path fill="#a2a2ce" d="M30 0h1v1h-1zM61 1h1v1h-1zM5 2h1v1h-1zM90 2h1v1h-1zM5 3h1v1h-1zM90 4h1v1h-1zM34 5h1v1h-1zM35 6h1v1h-1zM93 9h1v1h-1zM64 10h1v1h-1zM81 10h1v1h-1zM8 11h1v1h-1z"/>
<path fill="#a6a6d0" d="M31 0h1v1h-1zM3 1h1v1h-1zM90 3h1v1h-1zM8 4h1v1h-1zM34 4h1v1h-1zM61 4h1v1h-1zM8 7h1v1h-1zM3 10h1v1h-1zM61 10h1v1h-1z"/>
<path fill="#aaaad2" d="M32 0h1v1h-1zM5 1h1v1h-1zM90 1h1v1h-1zM41 2h1v1h-1zM95 2h1v1h-1zM58 6h1v1h-1zM3 7h1v1h-1zM34 8h1v1h-1zM51 8h1v1h-1zM90 9h1v1h-1zM34 10h1v1h-1zM49 10h1v1h-1zM2 11h1v1h-1zM90 11h1v1h-1z"/>
<path fill="#aeaed5" d="M35 0h1v1h-1zM11 1h1v1h-1zM64 1h1v1h-1zM74 1h1v1h-1zM3 2h1v1h-1zM64 4h1v1h-1zM110 4h1v1h-1zM32 6h1v1h-1zM64 6h1v1h-1zM2 7h1v1h-1zM35 7h1v1h-1zM35 9h1v1h-1z"/>
<path fill="#b2b2d7" d="M5 0h1v1h-1zM26 0h1v1h-1zM34 0h1v1h-1zM34 1h1v1h-1zM78 3h1v1h-1zM78 7h1v1h-1zM102 7h1v1h-1zM61 8h1v1h-1zM2 9h1v1h-1zM64 9h1v1h-1zM69 11h1v1h-1zM74 11h1v1h-1z"/>
<path fill="#b6b6d9" d="M8 0h1v1h-1zM8 2h1v1h-1zM78 2h1v1h-1zM11 3h1v1h-1zM41 3h1v1h-1zM74 3h1v1h-1zM5 4h1v1h-1zM78 5h1v1h-1zM74 6h1v1h-1zM49 7h1v1h-1zM2 8h2v1h-2zM74 9h1v1h-1zM74 10h1v1h-1z"/>
<path fill="#bbbbdb" d="M64 0h1v1h-1zM2 2h1v1h-1zM64 3h1v1h-1zM2 4h1v1h-1zM17 4h1v1h-1zM5 5h1v1h-1zM41 5h1v1h-1zM2 6h2v1h-2zM74 7h1v1h-1zM78 8h1v1h-1zM5 11h1v1h-1zM64 11h1v1h-1z"/>
<path fill="#bfbfdd" d="M27 0h1v1h-1zM41 0h1v1h-1zM2 1h1v1h-1zM8 1h1v1h-1zM12 1h1v1h-1zM78 1h1v1h-1zM2 3h2v1h-2zM12 3h1v1h-1zM35 4h1v1h-1zM35 5h1v1h-1zM74 5h1v1h-1zM78 6h1v1h-1zM5 7h1v1h-1zM41 8h1v1h-1zM34 11h1v1h-1zM61 11h1v1h-1z"/>
<path fill="#c3c3e0" d="M2 0h1v1h-1zM13 1h1v1h-1zM21 1h1v1h-1zM35 2h1v1h-1zM12 4h1v1h-1zM3 5h1v1h-1zM34 6h1v1h-1zM41 9h1v1h-1zM41 10h1v1h-1zM41 11h1v1h-1zM78 11h1v1h-1z"/>
<path fill="#c7c7e2" d="M16 0h1v1h-1zM35 1h1v1h-1zM41 1h1v1h-1zM56 1h1v1h-1zM21 2h1v1h-1zM34 2h1v1h-1zM15 3h1v1h-1zM17 3h1v1h-1zM57 3h1v1h-1zM0 4h1v1h-1zM3 4h1v1h-1zM7 4h1v1h-1zM78 4h1v1h-1zM2 5h1v1h-1zM0 6h1v1h-1zM41 6h1v1h-1zM1 7h1v1h-1zM41 7h1v1h-1zM35 8h1v1h-1zM64 8h1v1h-1zM74 8h1v1h-1zM78 9h1v1h-1zM10 10h1v1h-1zM78 10h1v1h-1zM87 10h1v1h-1zM35 11h1v1h-1z"/>
<path fill="#cbcbe4" d="M12 0h1v1h-1zM47 2h1v1h-1zM56 2h1v1h-1zM6 3h1v1h-1zM41 4h1v1h-1zM9 5h1v1h-1zM43 5h1v1h-1zM57 5h1v1h-1zM84 5h1v1h-1zM92 6h1v1h-1zM24 7h1v1h-1zM37 7h1v1h-1zM56 8h1v1h-1zM34 9h1v1h-1zM17 10h1v1h-1zM35 10h1v1h-1zM24 11h1v1h-1z"/>
<path fill="#cecee5" d="M78 0h1v1h-1zM30 1h1v1h-1zM32 1h1v1h-1zM42 1h1v1h-1zM12 2h1v1h-1zM94 2h1v1h-1zM9 3h1v1h-1zM34 3h3v1h-3zM6 4h1v1h-1zM18 4h1v1h-1zM32 4h1v1h-1zM44 5h1v1h-1zM76 5h1v1h-1zM42 6h1v1h-1zM56 7h1v1h-1zM64 7h1v1h-1zM6 8h1v1h-1zM30 8h1v1h-1zM42 8h1v1h-1zM3 9h1v1h-1zM16 9h1v1h-1zM22 9h1v1h-1zM2 10h1v1h-1zM31 11h1v1h-1zM36 11h1v1h-1z"/>
<path fill="#d2d1e6" d="M7 0h1v1h-1zM11 0h1v1h-1zM29 0h1v1h-1zM36 0h1v1h-1zM99 0h1v1h-1zM39 1h1v1h-1zM6 2h1v1h-1zM80 2h1v1h-1zM125 2h1v1h-1zM13 3h1v1h-1zM56 3h1v1h-1zM11 4h1v1h-1zM39 4h1v1h-1zM74 4h1v1h-1zM47 5h1v1h-1zM37 6h1v1h-1zM43 6h1v1h-1zM84 6h1v1h-1zM16 7h1v1h-1zM9 8h1v1h-1zM12 8h1v1h-1zM36 8h1v1h-1zM131 8h1v1h-1zM1 9h1v1h-1zM32 9h1v1h-1zM36 9h1v1h-1zM0 10h1v1h-1zM21 10h1v1h-1zM32 10h1v1h-1zM1 11h1v1h-1zM3 11h1v1h-1zM6 11h1v1h-1zM21 11h1v1h-1zM32 11h1v1h-1z"/>
<path fill="#d6d5e8" d="M13 0h1v1h-1zM23 0h2v1h-2zM104 0h1v1h-1zM115 0h1v1h-1zM7 1h1v1h-1zM9 1h1v1h-1zM17 1h1v1h-1zM31 1h1v1h-1zM40 1h1v1h-1zM51 1h1v1h-1zM94 1h1v1h-1zM13 2h1v1h-1zM31 2h1v1h-1zM37 2h1v1h-1zM64 2h1v1h-1zM115 2h1v1h-1zM1 3h1v1h-1zM42 3h1v1h-1zM43 4h1v1h-1zM84 4h1v1h-1zM31 5h1v1h-1zM40 5h1v1h-1zM17 6h2v1h-2zM24 6h1v1h-1zM30 6h2v1h-2zM47 6h1v1h-1zM32 7h1v1h-1zM107 7h1v1h-1zM0 8h1v1h-1zM7 8h1v1h-1zM32 8h1v1h-1zM40 8h1v1h-1zM7 9h1v1h-1zM6 10h1v1h-1zM43 10h1v1h-1zM57 10h1v1h-1zM124 10h1v1h-1zM10 11h1v1h-1zM27 11h1v1h-1zM44 11h1v1h-1zM51 11h1v1h-1z"/>
<path fill="#d9d8e9" d="M15 0h1v1h-1zM17 0h1v1h-1zM94 0h1v1h-1zM0 1h2v1h-2zM16 1h1v1h-1zM36 1h2v1h-2zM57 1h1v1h-1zM85 1h1v1h-1zM11 2h1v1h-1zM17 2h1v1h-1zM22 2h1v1h-1zM25 2h1v1h-1zM74 2h1v1h-1zM82 2h1v1h-1zM22 3h1v1h-1zM39 3h1v1h-1zM43 3h1v1h-1zM94 3h1v1h-1zM110 3h1v1h-1zM57 4h1v1h-1zM62 4h1v1h-1zM93 4h1v1h-1zM11 5h1v1h-1zM24 5h1v1h-1zM36 5h1v1h-1zM52 5h1v1h-1zM1 6h1v1h-1zM6 7h1v1h-1zM11 7h1v1h-1zM30 7h1v1h-1zM40 7h1v1h-1zM13 8h1v1h-1zM31 8h1v1h-1zM37 8h1v1h-1zM92 8h1v1h-1zM12 9h1v1h-1zM42 9h1v1h-1zM57 9h1v1h-1zM104 9h1v1h-1zM9 10h1v1h-1zM12 10h1v1h-1zM11 11h1v1h-1zM33 11h1v1h-1zM40 11h1v1h-1zM56 11h1v1h-1zM84 11h1v1h-1zM115 11h1v1h-1z"/>
<path fill="#dcdbea" d="M14 0h1v1h-1zM28 0h1v1h-1zM33 0h1v1h-1zM37 0h1v1h-1zM39 0h1v1h-1zM42 0h1v1h-1zM57 0h1v1h-1zM74 0h1v1h-1zM92 0h2v1h-2zM38 1h1v1h-1zM84 1h1v1h-1zM111 1h1v1h-1zM7 2h1v1h-1zM23 2h1v1h-1zM32 2h2v1h-2zM62 2h1v1h-1zM92 2h1v1h-1zM96 2h1v1h-1zM7 3h1v1h-1zM10 3h1v1h-1zM21 3h1v1h-1zM85 3h1v1h-1zM4 4h1v1h-1zM9 4h2v1h-2zM24 4h1v1h-1zM47 4h1v1h-1zM1 5h1v1h-1zM10 5h1v1h-1zM16 5h1v1h-1zM21 5h1v1h-1zM30 5h1v1h-1zM64 5h1v1h-1zM83 5h1v1h-1zM92 5h1v1h-1zM11 6h1v1h-1zM22 6h2v1h-2zM40 6h1v1h-1zM52 6h1v1h-1zM0 7h1v1h-1zM20 7h1v1h-1zM1 8h1v1h-1zM17 8h1v1h-1zM21 8h1v1h-1zM60 8h1v1h-1zM83 8h1v1h-1zM109 8h1v1h-1zM0 9h1v1h-1zM37 9h1v1h-1zM44 9h1v1h-1zM47 9h1v1h-1zM54 9h1v1h-1zM76 9h1v1h-1zM1 10h1v1h-1zM14 10h1v1h-1zM37 10h1v1h-1zM56 10h1v1h-1zM68 10h1v1h-1zM92 10h1v1h-1zM115 10h1v1h-1zM7 11h1v1h-1zM37 11h1v1h-1zM39 11h1v1h-1zM42 11h1v1h-1zM45 11h2v1h-2zM60 11h1v1h-1zM72 11h1v1h-1zM77 11h1v1h-1z"/>
<path fill="#e0deeb" d="M0 0h1v1h-1zM9 0h1v1h-1zM21 0h1v1h-1zM40 0h1v1h-1zM43 0h1v1h-1zM46 0h1v1h-1zM77 0h1v1h-1zM28 1h1v1h-1zM60 1h1v1h-1zM1 2h1v1h-1zM24 2h1v1h-1zM50 2h1v1h-1zM102 2h1v1h-1zM0 3h1v1h-1zM37 3h1v1h-1zM58 3h1v1h-1zM104 3h1v1h-1zM31 4h1v1h-1zM37 4h1v1h-1zM42 4h1v1h-1zM54 4h1v1h-1zM17 5h1v1h-1zM32 5h1v1h-1zM37 5h1v1h-1zM39 5h1v1h-1zM42 5h1v1h-1zM137 5h1v1h-1zM10 6h1v1h-1zM14 6h1v1h-1zM20 6h1v1h-1zM33 6h1v1h-1zM44 6h1v1h-1zM94 6h1v1h-1zM9 7h2v1h-2zM27 7h1v1h-1zM31 7h1v1h-1zM39 7h1v1h-1zM44 7h1v1h-1zM51 7h1v1h-1zM55 7h1v1h-1zM94 7h1v1h-1zM10 8h1v1h-1zM16 8h1v1h-1zM45 8h1v1h-1zM91 8h1v1h-1zM98 8h1v1h-1zM9 9h1v1h-1zM23 9h1v1h-1zM31 9h1v1h-1zM40 9h1v1h-1zM84 9h1v1h-1zM92 9h1v1h-1zM96 9h1v1h-1zM27 10h1v1h-1zM33 10h1v1h-1zM40 10h1v1h-1zM42 10h1v1h-1zM48 10h1v1h-1zM62 10h1v1h-1zM76 10h1v1h-1zM0 11h1v1h-1zM9 11h1v1h-1zM17 11h2v1h-2zM92 11h1v1h-1zM104 11h1v1h-1zM106 11h1v1h-1z"/>
<path fill="#e4e1ec" d="M19 0h1v1h-1zM22 0h1v1h-1zM48 0h1v1h-1zM50 0h1v1h-1zM84 0h1v1h-1zM87 0h1v1h-1zM106 0h1v1h-1zM23 1h1v1h-1zM33 1h1v1h-1zM43 1h1v1h-1zM53 1h1v1h-1zM62 1h1v1h-1zM70 1h1v1h-1zM93 1h1v1h-1zM9 2h1v1h-1zM15 2h2v1h-2zM30 2h1v1h-1zM40 2h1v1h-1zM42 2h1v1h-1zM70 2h2v1h-2zM87 2h1v1h-1zM93 2h1v1h-1zM139 2h1v1h-1zM18 3h2v1h-2zM23 3h1v1h-1zM32 3h1v1h-1zM38 3h1v1h-1zM47 3h1v1h-1zM52 3h1v1h-1zM62 3h1v1h-1zM96 3h1v1h-1zM142 3h1v1h-1zM16 4h1v1h-1zM22 4h1v1h-1zM30 4h1v1h-1zM36 4h1v1h-1zM48 4h1v1h-1zM60 4h1v1h-1zM85 4h1v1h-1zM0 5h1v1h-1zM12 5h1v1h-1zM14 5h1v1h-1zM22 5h1v1h-1zM33 5h1v1h-1zM55 5h1v1h-1zM62 5h1v1h-1zM93 5h2v1h-2zM96 5h1v1h-1zM109 5h1v1h-1zM117 5h1v1h-1zM9 6h1v1h-1zM16 6h1v1h-1zM36 6h1v1h-1zM39 6h1v1h-1zM54 6h1v1h-1zM65 6h1v1h-1zM72 6h1v1h-1zM87 6h1v1h-1zM21 7h1v1h-1zM52 7h1v1h-1zM58 7h1v1h-1zM71 7h1v1h-1zM84 7h1v1h-1zM87 7h1v1h-1zM97 7h1v1h-1zM104 7h1v1h-1zM115 7h1v1h-1zM137 7h1v1h-1zM4 8h1v1h-1zM11 8h1v1h-1zM14 8h2v1h-2zM18 8h1v1h-1zM24 8h1v1h-1zM33 8h1v1h-1zM96 8h1v1h-1zM120 8h1v1h-1zM15 9h1v1h-1zM20 9h2v1h-2zM62 9h1v1h-1zM83 9h1v1h-1zM16 10h1v1h-1zM18 10h1v1h-1zM23 10h1v1h-1zM25 10h1v1h-1zM31 10h1v1h-1zM36 10h1v1h-1zM53 10h2v1h-2zM93 10h1v1h-1zM102 10h1v1h-1zM20 11h1v1h-1zM28 11h1v1h-1zM43 11h1v1h-1zM58 11h1v1h-1zM62 11h1v1h-1zM94 11h1v1h-1zM99 11h1v1h-1zM107 11h1v1h-1z"/>
<path fill="#e7e5ee" d="M6 0h1v1h-1zM18 0h1v1h-1zM56 0h1v1h-1zM58 0h1v1h-1zM60 0h1v1h-1zM82 0h1v1h-1zM107 0h2v1h-2zM127 0h1v1h-1zM22 1h1v1h-1zM25 1h1v1h-1zM50 1h1v1h-1zM63 1h1v1h-1zM66 1h1v1h-1zM80 1h1v1h-1zM96 1h1v1h-1zM101 1h1v1h-1zM103 1h1v1h-1zM109 1h1v1h-1zM4 2h1v1h-1zM10 2h1v1h-1zM18 2h1v1h-1zM36 2h1v1h-1zM44 2h2v1h-2zM57 2h2v1h-2zM76 2h1v1h-1zM84 2h1v1h-1zM103 2h1v1h-1zM110 2h2v1h-2zM20 3h1v1h-1zM24 3h1v1h-1zM30 3h1v1h-1zM33 3h1v1h-1zM70 3h1v1h-1zM72 3h1v1h-1zM109 3h1v1h-1zM13 4h1v1h-1zM33 4h1v1h-1zM38 4h1v1h-1zM40 4h1v1h-1zM56 4h1v1h-1zM58 4h1v1h-1zM72 4h2v1h-2zM76 4h1v1h-1zM81 4h1v1h-1zM91 4h2v1h-2zM104 4h1v1h-1zM27 5h1v1h-1zM56 5h1v1h-1zM58 5h1v1h-1zM60 5h1v1h-1zM85 5h1v1h-1zM107 5h2v1h-2zM110 5h1v1h-1zM126 5h1v1h-1zM6 6h2v1h-2zM45 6h1v1h-1zM48 6h1v1h-1zM53 6h1v1h-1zM55 6h1v1h-1zM57 6h1v1h-1zM71 6h1v1h-1zM99 6h3v1h-3zM107 6h1v1h-1zM109 6h1v1h-1zM17 7h1v1h-1zM19 7h1v1h-1zM22 7h2v1h-2zM26 7h1v1h-1zM42 7h1v1h-1zM47 7h1v1h-1zM60 7h1v1h-1zM70 7h1v1h-1zM72 7h1v1h-1zM96 7h1v1h-1zM99 7h1v1h-1zM109 7h1v1h-1zM43 8h1v1h-1zM47 8h1v1h-1zM52 8h2v1h-2zM55 8h1v1h-1zM62 8h1v1h-1zM70 8h1v1h-1zM76 8h1v1h-1zM94 8h1v1h-1zM106 8h1v1h-1zM4 9h1v1h-1zM14 9h1v1h-1zM17 9h1v1h-1zM24 9h1v1h-1zM26 9h2v1h-2zM30 9h1v1h-1zM39 9h1v1h-1zM46 9h1v1h-1zM48 9h1v1h-1zM50 9h1v1h-1zM56 9h1v1h-1zM98 9h1v1h-1zM109 9h1v1h-1zM137 9h1v1h-1zM4 10h1v1h-1zM24 10h1v1h-1zM45 10h1v1h-1zM52 10h1v1h-1zM55 10h1v1h-1zM77 10h1v1h-1zM101 10h1v1h-1zM109 10h1v1h-1zM138 10h1v1h-1zM141 10h1v1h-1zM19 11h1v1h-1zM22 11h1v1h-1zM29 11h1v1h-1zM47 11h1v1h-1zM50 11h1v1h-1zM63 11h1v1h-1zM76 11h1v1h-1z"/>
<path fill="#eae8ef" d="M1 0h1v1h-1zM4 0h1v1h-1zM10 0h1v1h-1zM20 0h1v1h-1zM55 0h1v1h-1zM71 0h1v1h-1zM4 1h1v1h-1zM6 1h1v1h-1zM14 1h1v1h-1zM20 1h1v1h-1zM24 1h1v1h-1zM45 1h1v1h-1zM48 1h1v1h-1zM54 1h1v1h-1zM76 1h1v1h-1zM82 1h1v1h-1zM92 1h1v1h-1zM102 1h1v1h-1zM125 1h1v1h-1zM0 2h1v1h-1zM39 2h1v1h-1zM43 2h1v1h-1zM51 2h2v1h-2zM66 2h1v1h-1zM72 2h1v1h-1zM106 2h1v1h-1zM14 3h1v1h-1zM16 3h1v1h-1zM44 3h1v1h-1zM48 3h1v1h-1zM60 3h1v1h-1zM84 3h1v1h-1zM99 3h2v1h-2zM102 3h2v1h-2zM107 3h1v1h-1zM15 4h1v1h-1zM20 4h1v1h-1zM27 4h1v1h-1zM70 4h1v1h-1zM87 4h2v1h-2zM103 4h1v1h-1zM6 5h1v1h-1zM15 5h1v1h-1zM48 5h1v1h-1zM51 5h1v1h-1zM66 5h1v1h-1zM71 5h1v1h-1zM77 5h1v1h-1zM80 5h1v1h-1zM98 5h1v1h-1zM103 5h1v1h-1zM115 5h1v1h-1zM4 6h1v1h-1zM21 6h1v1h-1zM62 6h1v1h-1zM70 6h1v1h-1zM82 6h1v1h-1zM93 6h1v1h-1zM103 6h1v1h-1zM111 6h1v1h-1zM125 6h1v1h-1zM4 7h1v1h-1zM7 7h1v1h-1zM12 7h2v1h-2zM46 7h1v1h-1zM76 7h1v1h-1zM83 7h1v1h-1zM88 7h1v1h-1zM101 7h1v1h-1zM19 8h1v1h-1zM26 8h1v1h-1zM39 8h1v1h-1zM44 8h1v1h-1zM46 8h1v1h-1zM58 8h1v1h-1zM66 8h1v1h-1zM77 8h1v1h-1zM80 8h1v1h-1zM84 8h1v1h-1zM93 8h1v1h-1zM119 8h1v1h-1zM6 9h1v1h-1zM19 9h1v1h-1zM33 9h1v1h-1zM43 9h1v1h-1zM55 9h1v1h-1zM85 9h1v1h-1zM99 9h1v1h-1zM13 10h1v1h-1zM20 10h1v1h-1zM50 10h1v1h-1zM60 10h1v1h-1zM71 10h2v1h-2zM83 10h1v1h-1zM94 10h1v1h-1zM15 11h1v1h-1zM23 11h1v1h-1zM52 11h2v1h-2zM57 11h1v1h-1zM66 11h1v1h-1zM82 11h1v1h-1zM93 11h1v1h-1z"/>
<path fill="#eeebf0" d="M38 0h1v1h-1zM47 0h1v1h-1zM54 0h1v1h-1zM66 0h1v1h-1zM96 0h1v1h-1zM10 1h1v1h-1zM18 1h2v1h-2zM46 1h2v1h-2zM77 1h1v1h-1zM104 1h1v1h-1zM107 1h1v1h-1zM139 1h1v1h-1zM53 2h1v1h-1zM60 2h1v1h-1zM85 2h1v1h-1zM88 2h1v1h-1zM98 2h3v1h-3zM4 3h1v1h-1zM45 3h1v1h-1zM51 3h1v1h-1zM55 3h1v1h-1zM75 3h2v1h-2zM87 3h1v1h-1zM121 3h1v1h-1zM14 4h1v1h-1zM19 4h1v1h-1zM23 4h1v1h-1zM65 4h1v1h-1zM71 4h1v1h-1zM100 4h1v1h-1zM19 5h1v1h-1zM23 5h1v1h-1zM45 5h2v1h-2zM50 5h1v1h-1zM53 5h1v1h-1zM87 5h1v1h-1zM89 5h1v1h-1zM104 5h1v1h-1zM15 6h1v1h-1zM19 6h1v1h-1zM51 6h1v1h-1zM60 6h1v1h-1zM69 6h1v1h-1zM102 6h1v1h-1zM115 6h1v1h-1zM45 7h1v1h-1zM92 7h1v1h-1zM103 7h1v1h-1zM108 7h1v1h-1zM125 7h1v1h-1zM20 8h1v1h-1zM57 8h1v1h-1zM85 8h1v1h-1zM87 8h1v1h-1zM103 8h1v1h-1zM105 8h1v1h-1zM121 8h1v1h-1zM10 9h2v1h-2zM13 9h1v1h-1zM52 9h1v1h-1zM58 9h1v1h-1zM67 9h1v1h-1zM69 9h1v1h-1zM94 9h1v1h-1zM103 9h1v1h-1zM127 9h1v1h-1zM7 10h1v1h-1zM26 10h1v1h-1zM44 10h1v1h-1zM47 10h1v1h-1zM51 10h1v1h-1zM58 10h1v1h-1zM96 10h1v1h-1zM106 10h1v1h-1zM108 10h1v1h-1zM120 10h1v1h-1zM125 10h1v1h-1zM12 11h2v1h-2zM16 11h1v1h-1zM30 11h1v1h-1zM70 11h1v1h-1zM87 11h1v1h-1zM91 11h1v1h-1zM98 11h1v1h-1zM109 11h1v1h-1zM112 11h1v1h-1zM125 11h1v1h-1z"/>
<path fill="#eee8ec" d="M51 0h3v1h-3zM62 0h1v1h-1zM70 0h1v1h-1zM76 0h1v1h-1zM83 0h1v1h-1zM91 0h1v1h-1zM101 0h2v1h-2zM15 1h1v1h-1zM26 1h2v1h-2zM58 1h2v1h-2zM65 1h1v1h-1zM73 1h1v1h-1zM79 1h1v1h-1zM105 1h2v1h-2zM137 1h1v1h-1zM38 2h1v1h-1zM59 2h1v1h-1zM68 2h1v1h-1zM77 2h1v1h-1zM81 2h1v1h-1zM83 2h1v1h-1zM89 2h1v1h-1zM91 2h1v1h-1zM97 2h1v1h-1zM108 2h2v1h-2zM31 3h1v1h-1zM46 3h1v1h-1zM82 3h1v1h-1zM91 3h2v1h-2zM101 3h1v1h-1zM119 3h1v1h-1zM137 3h1v1h-1zM45 4h1v1h-1zM52 4h1v1h-1zM55 4h1v1h-1zM99 4h1v1h-1zM106 4h1v1h-1zM137 4h1v1h-1zM140 4h1v1h-1zM7 5h1v1h-1zM20 5h1v1h-1zM38 5h1v1h-1zM82 5h1v1h-1zM91 5h1v1h-1zM27 6h1v1h-1zM38 6h1v1h-1zM46 6h1v1h-1zM50 6h1v1h-1zM96 6h1v1h-1zM104 6h1v1h-1zM126 6h1v1h-1zM140 6h1v1h-1zM14 7h2v1h-2zM43 7h1v1h-1zM50 7h1v1h-1zM53 7h1v1h-1zM77 7h1v1h-1zM93 7h1v1h-1zM139 7h1v1h-1zM38 8h1v1h-1zM48 8h1v1h-1zM50 8h1v1h-1zM63 8h1v1h-1zM72 8h1v1h-1zM82 8h1v1h-1zM101 8h1v1h-1zM104 8h1v1h-1zM107 8h2v1h-2zM135 8h1v1h-1zM139 8h1v1h-1zM38 9h1v1h-1zM45 9h1v1h-1zM51 9h1v1h-1zM59 9h1v1h-1zM66 9h1v1h-1zM72 9h1v1h-1zM75 9h1v1h-1zM97 9h1v1h-1zM110 9h1v1h-1zM125 9h1v1h-1zM11 10h1v1h-1zM19 10h1v1h-1zM29 10h1v1h-1zM38 10h2v1h-2zM91 10h1v1h-1zM104 10h1v1h-1zM107 10h1v1h-1zM119 10h1v1h-1zM4 11h1v1h-1zM38 11h1v1h-1zM68 11h1v1h-1zM71 11h1v1h-1zM83 11h1v1h-1zM85 11h1v1h-1zM101 11h1v1h-1zM108 11h1v1h-1zM121 11h1v1h-1z"/>
<path fill="#eee5e9" d="M69 0h1v1h-1zM72 0h1v1h-1zM75 1h1v1h-1zM98 1h3v1h-3zM126 1h1v1h-1zM20 2h1v1h-1zM48 2h1v1h-1zM55 2h1v1h-1zM86 2h1v1h-1zM131 2h1v1h-1zM134 2h1v1h-1zM50 3h1v1h-1zM83 3h1v1h-1zM98 3h1v1h-1zM28 4h1v1h-1zM44 4h1v1h-1zM46 4h1v1h-1zM50 4h1v1h-1zM80 4h1v1h-1zM94 4h1v1h-1zM105 4h1v1h-1zM107 4h1v1h-1zM111 4h1v1h-1zM115 4h1v1h-1zM122 4h1v1h-1zM127 4h1v1h-1zM75 5h1v1h-1zM81 5h1v1h-1zM99 5h1v1h-1zM106 5h1v1h-1zM140 5h1v1h-1zM56 6h1v1h-1zM66 6h1v1h-1zM77 6h1v1h-1zM83 6h1v1h-1zM91 6h1v1h-1zM98 6h1v1h-1zM105 6h1v1h-1zM124 6h1v1h-1zM18 7h1v1h-1zM33 7h1v1h-1zM48 7h1v1h-1zM54 7h1v1h-1zM62 7h1v1h-1zM68 7h1v1h-1zM89 7h1v1h-1zM106 7h1v1h-1zM23 8h1v1h-1zM27 8h1v1h-1zM67 8h1v1h-1zM100 8h1v1h-1zM115 8h1v1h-1zM80 9h1v1h-1zM101 9h1v1h-1zM107 9h1v1h-1zM112 9h1v1h-1zM46 10h1v1h-1zM65 10h1v1h-1zM70 10h1v1h-1zM84 10h2v1h-2zM100 10h1v1h-1zM105 10h1v1h-1zM55 11h1v1h-1zM81 11h1v1h-1zM88 11h1v1h-1zM105 11h1v1h-1zM119 11h1v1h-1z"/>
<path fill="#efe2e5" d="M44 0h2v1h-2zM75 0h1v1h-1zM86 0h1v1h-1zM89 0h1v1h-1zM97 0h2v1h-2zM103 0h1v1h-1zM105 0h1v1h-1zM110 0h1v1h-1zM121 0h1v1h-1zM44 1h1v1h-1zM71 1h2v1h-2zM87 1h1v1h-1zM91 1h1v1h-1zM112 1h1v1h-1zM119 1h1v1h-1zM131 1h1v1h-1zM19 2h1v1h-1zM26 2h1v1h-1zM54 2h1v1h-1zM101 2h1v1h-1zM104 2h1v1h-1zM107 2h1v1h-1zM27 3h1v1h-1zM53 3h2v1h-2zM66 3h1v1h-1zM71 3h1v1h-1zM93 3h1v1h-1zM111 3h1v1h-1zM26 4h1v1h-1zM51 4h1v1h-1zM53 4h1v1h-1zM66 4h1v1h-1zM82 4h1v1h-1zM89 4h1v1h-1zM102 4h1v1h-1zM109 4h1v1h-1zM139 4h1v1h-1zM13 5h1v1h-1zM18 5h1v1h-1zM59 5h1v1h-1zM67 5h2v1h-2zM72 5h2v1h-2zM88 5h1v1h-1zM97 5h1v1h-1zM100 5h1v1h-1zM102 5h1v1h-1zM136 5h1v1h-1zM13 6h1v1h-1zM59 6h1v1h-1zM76 6h1v1h-1zM106 6h1v1h-1zM143 6h1v1h-1zM38 7h1v1h-1zM66 7h2v1h-2zM80 7h1v1h-1zM82 7h1v1h-1zM91 7h1v1h-1zM100 7h1v1h-1zM111 7h1v1h-1zM59 8h1v1h-1zM97 8h1v1h-1zM102 8h1v1h-1zM126 8h1v1h-1zM60 9h1v1h-1zM68 9h1v1h-1zM70 9h1v1h-1zM81 9h2v1h-2zM87 9h1v1h-1zM100 9h1v1h-1zM102 9h1v1h-1zM139 9h2v1h-2zM15 10h1v1h-1zM22 10h1v1h-1zM28 10h1v1h-1zM66 10h1v1h-1zM103 10h1v1h-1zM14 11h1v1h-1zM25 11h1v1h-1zM75 11h1v1h-1zM80 11h1v1h-1zM102 11h1v1h-1zM126 11h1v1h-1z"/>
<path fill="#efdfe2" d="M80 0h1v1h-1zM55 1h1v1h-1zM108 1h1v1h-1zM118 1h1v1h-1zM14 2h1v1h-1zM46 2h1v1h-1zM75 2h1v1h-1zM79 2h1v1h-1zM121 2h1v1h-1zM26 3h1v1h-1zM40 3h1v1h-1zM73 3h1v1h-1zM81 3h1v1h-1zM89 3h1v1h-1zM106 3h1v1h-1zM68 4h1v1h-1zM77 4h1v1h-1zM79 4h1v1h-1zM83 4h1v1h-1zM63 5h1v1h-1zM101 5h1v1h-1zM119 5h1v1h-1zM29 6h1v1h-1zM75 6h1v1h-1zM79 6h1v1h-1zM85 6h1v1h-1zM97 6h1v1h-1zM108 6h1v1h-1zM75 7h1v1h-1zM79 7h1v1h-1zM81 7h1v1h-1zM121 7h1v1h-1zM123 7h1v1h-1zM136 7h1v1h-1zM54 8h1v1h-1zM68 8h1v1h-1zM71 8h1v1h-1zM79 8h1v1h-1zM89 8h1v1h-1zM138 8h1v1h-1zM18 9h1v1h-1zM28 9h1v1h-1zM53 9h1v1h-1zM63 9h1v1h-1zM71 9h1v1h-1zM115 9h1v1h-1zM121 9h2v1h-2zM59 10h1v1h-1zM79 10h2v1h-2zM97 10h3v1h-3zM110 10h1v1h-1zM59 11h1v1h-1zM65 11h1v1h-1zM100 11h1v1h-1z"/>
<path fill="#efdcde" d="M25 0h1v1h-1zM68 0h1v1h-1zM85 0h1v1h-1zM88 0h1v1h-1zM140 0h1v1h-1zM67 1h2v1h-2zM83 1h1v1h-1zM63 2h1v1h-1zM69 2h1v1h-1zM73 2h1v1h-1zM140 2h1v1h-1zM143 2h1v1h-1zM65 3h1v1h-1zM69 3h1v1h-1zM88 3h1v1h-1zM105 3h1v1h-1zM108 3h1v1h-1zM141 3h1v1h-1zM125 4h1v1h-1zM70 5h1v1h-1zM111 5h1v1h-1zM121 5h1v1h-1zM135 5h1v1h-1zM139 5h1v1h-1zM26 6h1v1h-1zM63 6h1v1h-1zM80 6h1v1h-1zM110 6h1v1h-1zM117 6h1v1h-1zM119 6h1v1h-1zM123 6h1v1h-1zM25 7h1v1h-1zM85 7h1v1h-1zM131 7h2v1h-2zM141 7h1v1h-1zM144 7h1v1h-1zM29 8h1v1h-1zM81 8h1v1h-1zM111 8h1v1h-1zM141 8h1v1h-1zM77 9h1v1h-1zM79 9h1v1h-1zM141 9h1v1h-1zM67 10h1v1h-1zM121 10h1v1h-1zM137 10h1v1h-1zM54 11h1v1h-1zM73 11h1v1h-1zM89 11h1v1h-1zM103 11h1v1h-1z"/>
<path fill="#efd8da" d="M73 0h1v1h-1zM81 0h1v1h-1zM100 0h1v1h-1zM125 0h2v1h-2zM135 1h1v1h-1zM141 1h1v1h-1zM28 2h2v1h-2zM65 2h1v1h-1zM105 2h1v1h-1zM59 3h1v1h-1zM63 3h1v1h-1zM67 3h1v1h-1zM77 3h1v1h-1zM97 3h1v1h-1zM115 3h1v1h-1zM96 4h1v1h-1zM98 4h1v1h-1zM126 4h1v1h-1zM4 5h1v1h-1zM54 5h1v1h-1zM65 5h1v1h-1zM86 5h1v1h-1zM123 5h1v1h-1zM133 5h1v1h-1zM68 6h1v1h-1zM73 6h1v1h-1zM81 6h1v1h-1zM144 6h1v1h-1zM28 7h1v1h-1zM65 7h1v1h-1zM25 8h1v1h-1zM137 8h1v1h-1zM105 9h1v1h-1zM108 9h1v1h-1zM111 9h1v1h-1zM63 10h1v1h-1zM88 10h2v1h-2zM26 11h1v1h-1zM48 11h1v1h-1zM111 11h1v1h-1zM127 11h1v1h-1zM137 11h2v1h-2z"/>
<path fill="#efd5d7" d="M59 0h1v1h-1zM144 0h1v1h-1zM89 1h1v1h-1zM115 1h1v1h-1zM124 3h1v1h-1zM126 3h1v1h-1zM140 3h1v1h-1zM59 4h1v1h-1zM63 4h1v1h-1zM67 4h1v1h-1zM75 4h1v1h-1zM86 4h1v1h-1zM101 4h1v1h-1zM121 4h1v1h-1zM123 4h1v1h-1zM26 5h1v1h-1zM79 5h1v1h-1zM105 5h1v1h-1zM124 5h1v1h-1zM138 5h1v1h-1zM25 6h1v1h-1zM28 6h1v1h-1zM89 6h1v1h-1zM121 6h1v1h-1zM137 6h1v1h-1zM59 7h1v1h-1zM63 7h1v1h-1zM119 7h1v1h-1zM128 7h1v1h-1zM65 8h1v1h-1zM73 8h1v1h-1zM75 8h1v1h-1zM88 8h1v1h-1zM99 8h1v1h-1zM125 8h1v1h-1zM25 9h1v1h-1zM29 9h1v1h-1zM124 9h1v1h-1zM126 9h1v1h-1zM131 9h1v1h-1zM144 9h1v1h-1zM73 10h1v1h-1zM114 10h1v1h-1zM133 10h1v1h-1zM67 11h1v1h-1zM97 11h1v1h-1zM110 11h1v1h-1zM114 11h1v1h-1zM122 11h1v1h-1zM139 11h1v1h-1z"/>
<path fill="#f0d2d3" d="M63 0h1v1h-1zM109 0h1v1h-1zM114 0h1v1h-1zM122 0h1v1h-1zM132 0h1v1h-1zM97 1h1v1h-1zM110 1h1v1h-1zM120 1h1v1h-1zM136 1h1v1h-1zM138 1h1v1h-1zM143 1h1v1h-1zM67 2h1v1h-1zM122 2h1v1h-1zM126 2h1v1h-1zM28 3h2v1h-2zM79 3h1v1h-1zM135 3h1v1h-1zM144 3h1v1h-1zM136 4h1v1h-1zM141 4h1v1h-1zM25 5h1v1h-1zM29 5h1v1h-1zM118 5h1v1h-1zM127 5h1v1h-1zM67 6h1v1h-1zM114 6h1v1h-1zM138 6h1v1h-1zM36 7h1v1h-1zM73 7h1v1h-1zM105 7h1v1h-1zM110 7h1v1h-1zM144 8h1v1h-1zM73 9h1v1h-1zM86 9h1v1h-1zM117 9h1v1h-1zM143 9h1v1h-1zM132 10h1v1h-1zM139 10h1v1h-1zM79 11h1v1h-1zM123 11h1v1h-1zM131 11h1v1h-1zM143 11h1v1h-1z"/>
<path fill="#f0cfd0" d="M111 0h1v1h-1zM113 0h1v1h-1zM129 0h1v1h-1zM29 1h1v1h-1zM69 1h1v1h-1zM86 1h1v1h-1zM88 1h1v1h-1zM127 1h1v1h-1zM144 1h1v1h-1zM114 2h1v1h-1zM118 2h1v1h-1zM120 2h1v1h-1zM132 2h1v1h-1zM138 2h1v1h-1zM142 2h1v1h-1zM25 3h1v1h-1zM80 3h1v1h-1zM113 3h1v1h-1zM29 4h1v1h-1zM86 6h1v1h-1zM88 6h1v1h-1zM113 6h1v1h-1zM139 6h1v1h-1zM141 6h1v1h-1zM28 8h1v1h-1zM69 8h1v1h-1zM110 8h1v1h-1zM118 8h1v1h-1zM89 9h1v1h-1zM118 9h1v1h-1zM135 9h1v1h-1zM113 10h1v1h-1zM136 11h1v1h-1z"/>
<path fill="#f0cccc" d="M79 0h1v1h-1zM120 0h1v1h-1zM123 0h1v1h-1zM128 0h1v1h-1zM139 0h1v1h-1zM141 0h1v1h-1zM52 1h1v1h-1zM116 1h1v1h-1zM136 2h2v1h-2zM68 3h1v1h-1zM122 3h1v1h-1zM143 3h1v1h-1zM69 4h1v1h-1zM97 4h1v1h-1zM118 4h1v1h-1zM120 4h1v1h-1zM131 4h1v1h-1zM144 4h1v1h-1zM69 5h1v1h-1zM120 5h1v1h-1zM142 5h1v1h-1zM133 6h1v1h-1zM29 7h1v1h-1zM124 7h1v1h-1zM134 7h1v1h-1zM22 8h1v1h-1zM122 8h1v1h-1zM65 9h1v1h-1zM69 10h1v1h-1zM75 10h1v1h-1zM82 10h1v1h-1zM118 10h1v1h-1zM122 10h1v1h-1zM126 10h1v1h-1zM130 10h1v1h-1z"/>
<path fill="#f0c8c8" d="M65 0h1v1h-1zM67 0h1v1h-1zM131 0h1v1h-1zM136 0h1v1h-1zM142 0h1v1h-1zM121 1h2v1h-2zM124 1h1v1h-1zM130 1h1v1h-1zM112 2h1v1h-1zM144 2h1v1h-1zM114 3h1v1h-1zM127 3h1v1h-1zM135 4h1v1h-1zM143 5h1v1h-1zM118 6h1v1h-1zM122 6h1v1h-1zM69 7h1v1h-1zM118 7h1v1h-1zM140 7h1v1h-1zM117 8h1v1h-1zM127 8h1v1h-1zM136 8h1v1h-1zM140 8h1v1h-1zM143 8h1v1h-1zM88 9h1v1h-1zM106 9h1v1h-1zM133 9h2v1h-2zM111 10h1v1h-1zM136 10h1v1h-1zM132 11h1v1h-1zM135 11h1v1h-1z"/>
<path fill="#efc5c4" d="M117 0h1v1h-1zM135 0h1v1h-1zM140 1h1v1h-1zM117 2h1v1h-1zM119 2h1v1h-1zM112 3h1v1h-1zM125 3h1v1h-1zM128 3h1v1h-1zM131 3h1v1h-1zM25 4h1v1h-1zM124 4h1v1h-1zM138 4h1v1h-1zM131 5h1v1h-1zM127 6h1v1h-1zM86 7h1v1h-1zM112 7h1v1h-1zM114 7h1v1h-1zM86 8h1v1h-1zM119 9h2v1h-2zM130 9h1v1h-1zM116 10h2v1h-2zM140 10h1v1h-1zM143 10h1v1h-1zM116 11h1v1h-1z"/>
<path fill="#eec1c0" d="M134 0h1v1h-1zM117 1h1v1h-1zM132 1h1v1h-1zM124 2h1v1h-1zM117 3h1v1h-1zM133 3h1v1h-1zM136 3h1v1h-1zM1 4h1v1h-1zM143 4h1v1h-1zM28 5h1v1h-1zM112 5h1v1h-1zM132 5h1v1h-1zM144 5h1v1h-1zM131 6h1v1h-1zM135 6h1v1h-1zM117 7h1v1h-1zM122 7h1v1h-1zM143 7h1v1h-1zM116 8h1v1h-1zM136 9h1v1h-1zM86 11h1v1h-1zM118 11h1v1h-1zM141 11h1v1h-1z"/>
<path fill="#eebdbc" d="M128 1h1v1h-1zM86 3h1v1h-1zM123 3h1v1h-1zM130 3h1v1h-1zM139 3h1v1h-1zM112 4h1v1h-1zM117 4h1v1h-1zM142 4h1v1h-1zM128 5h1v1h-1zM141 5h1v1h-1zM136 6h1v1h-1zM126 7h1v1h-1zM128 8h1v1h-1zM114 9h1v1h-1zM123 10h1v1h-1zM131 10h1v1h-1zM140 11h1v1h-1z"/>
<path fill="#eebab8" d="M112 0h1v1h-1zM118 0h2v1h-2zM124 0h1v1h-1zM138 0h1v1h-1zM123 1h1v1h-1zM128 2h1v1h-1zM113 5h1v1h-1zM130 5h1v1h-1zM120 6h1v1h-1zM127 7h1v1h-1zM138 7h1v1h-1zM112 8h1v1h-1zM133 8h2v1h-2zM128 9h1v1h-1zM86 10h1v1h-1zM144 10h1v1h-1zM129 11h1v1h-1zM142 11h1v1h-1z"/>
<path fill="#edb6b5" d="M137 0h1v1h-1zM143 0h1v1h-1zM133 1h1v1h-1zM27 2h1v1h-1zM127 2h1v1h-1zM135 2h1v1h-1zM122 5h1v1h-1zM132 6h1v1h-1zM114 8h1v1h-1zM124 8h1v1h-1zM130 11h1v1h-1zM134 11h1v1h-1z"/>
<path fill="#ecb2b1" d="M113 2h1v1h-1zM116 5h1v1h-1zM128 6h1v1h-1zM134 6h1v1h-1zM120 7h1v1h-1zM135 7h1v1h-1zM123 8h1v1h-1zM123 9h1v1h-1zM132 9h1v1h-1zM96 11h1v1h-1zM124 11h1v1h-1z"/>
<path fill="#ecaead" d="M114 1h1v1h-1zM123 2h1v1h-1zM133 2h1v1h-1zM120 3h1v1h-1zM134 3h1v1h-1zM113 11h1v1h-1zM133 11h1v1h-1z"/>
<path fill="#ecaba9" d="M116 0h1v1h-1zM130 0h1v1h-1zM133 0h1v1h-1zM141 2h1v1h-1zM116 3h1v1h-1zM113 4h1v1h-1zM119 4h1v1h-1zM128 4h1v1h-1zM116 7h1v1h-1zM142 8h1v1h-1zM112 10h1v1h-1zM142 10h1v1h-1zM120 11h1v1h-1zM144 11h1v1h-1z"/>
<path fill="#eba7a5" d="M134 1h1v1h-1zM118 3h1v1h-1zM138 3h1v1h-1zM114 4h1v1h-1zM132 4h3v1h-3zM132 8h1v1h-1zM116 9h1v1h-1zM129 9h1v1h-1zM142 9h1v1h-1zM127 10h1v1h-1zM135 10h1v1h-1z"/>
<path fill="#eaa3a1" d="M142 1h1v1h-1zM130 2h1v1h-1zM116 6h1v1h-1zM113 9h1v1h-1zM128 10h1v1h-1zM117 11h1v1h-1z"/>
<path fill="#eaa09e" d="M116 2h1v1h-1zM130 4h1v1h-1zM142 7h1v1h-1zM129 8h1v1h-1z"/>
<path fill="#e99c9a" d="M81 1h1v1h-1zM132 3h1v1h-1zM125 5h1v1h-1zM130 6h1v1h-1zM142 6h1v1h-1zM98 7h1v1h-1zM113 7h1v1h-1zM130 7h1v1h-1zM138 9h1v1h-1z"/>
<path fill="#e89896" d="M133 7h1v1h-1zM113 8h1v1h-1z"/>
<path fill="#e89492" d="M116 4h1v1h-1zM129 4h1v1h-1zM114 5h1v1h-1z"/>
<path fill="#e7918f" d="M129 2h1v1h-1zM108 4h1v1h-1z"/>
<path fill="#e68d8b" d="M129 3h1v1h-1zM130 8h1v1h-1z"/>
<path fill="#e58684" d="M134 5h1v1h-1zM129 6h1v1h-1zM129 7h1v1h-1zM134 10h1v1h-1zM128 11h1v1h-1z"/>
<path fill="#e48280" d="M129 10h1v1h-1z"/>
<path fill="#e37e7c" d="M113 1h1v1h-1z"/>
<path fill="#e27a79" d="M129 5h1v1h-1z"/>
<path fill="#e07372" d="M129 1h1v1h-1zM112 6h1v1h-1z"/>
</g>
<path d="M44.40 18.41L44.40 22.84M44.40 18.41L61.70 18.41M44.40 22.84L61.70 22.84M42.10 27.27L42.10 31.70M42.10 27.27L61.70 27.27M42.10 31.70L61.70 31.70M33.50 20.63L33.50 29.48M33.50 20.63L44.40 20.63M33.50 29.48L42.10 29.48M41.60 36.12L41.60 40.55M41.60 36.12L61.70 36.12M41.60 40.55L61.70 40.55M45.80 49.40L45.80 53.83M45.80 49.40L61.70 49.40M45.80 53.83L61.70 53.83M38.80 44.98L38.80 51.62M38.80 44.98L61.70 44.98M38.80 51.62L45.80 51.62M37.40 58.26L37.40 62.69M37.40 58.26L61.70 58.26M37.40 62.69L61.70 62.69M35.50 48.30L35.50 60.47M35.50 48.30L38.80 48.30M35.50 60.47L37.40 60.47M32.20 38.34L32.20 54.39M32.20 38.34L41.60 38.34M32.20 54.39L35.50 54.39M15.40 25.05L15.40 46.36M15.40 25.05L33.50 25.05M15.40 46.36L32.20 46.36M43.20 75.15L43.20 79.58M43.20 75.15L61.70 75.15M43.20 79.58L61.70 79.58M41.10 70.72L41.10 77.37M41.10 70.72L61.70 70.72M41.10 77.37L43.20 77.37M37.90 88.45L37.90 92.88M37.90 88.45L61.70 88.45M37.90 92.88L61.70 92.88M44.40 97.32L44.40 101.75M44.40 97.32L61.70 97.32M44.40 101.75L61.70 101.75M46.50 106.18L46.50 110.62M46.50 106.18L61.70 106.18M46.50 110.62L61.70 110.62M44.40 115.05L44.40 119.48M44.40 115.05L61.70 115.05M44.40 119.48L61.70 119.48M39.70 108.40L39.70 117.27M39.70 108.40L46.50 108.40M39.70 117.27L44.40 117.27M35.30 99.53L35.30 112.83M35.30 99.53L44.40 99.53M35.30 112.83L39.70 112.83M33.20 90.67L33.20 106.18M33.20 90.67L37.90 90.67M33.20 106.18L35.30 106.18M28.20 84.02L28.20 98.42M28.20 84.02L61.70 84.02M28.20 98.42L33.20 98.42M16.60 74.04L16.60 91.22M16.60 74.04L41.10 74.04M16.60 91.22L28.20 91.22M46.30 127.30L46.30 131.69M46.30 127.30L61.70 127.30M46.30 131.69L61.70 131.69M45.60 144.87L45.60 149.26M45.60 144.87L61.70 144.87M45.60 149.26L61.70 149.26M43.70 140.48L43.70 147.07M43.70 140.48L61.70 140.48M43.70 147.07L45.60 147.07M40.70 136.08L40.70 143.77M40.70 136.08L61.70 136.08M40.70 143.77L43.70 143.77M37.40 129.49L37.40 139.93M37.40 129.49L46.30 129.49M37.40 139.93L40.70 139.93M46.70 166.84L46.70 171.23M46.70 166.84L61.70 166.84M46.70 171.23L61.70 171.23M43.50 162.44L43.50 169.03M43.50 162.44L61.70 162.44M43.50 169.03L46.70 169.03M40.40 158.05L40.40 165.74M40.40 158.05L61.70 158.05M40.40 165.74L43.50 165.74M39.70 153.66L39.70 161.89M39.70 153.66L61.70 153.66M39.70 161.89L40.40 161.89M46.30 175.62L46.30 180.02M46.30 175.62L61.70 175.62M46.30 180.02L61.70 180.02M40.40 184.41L40.40 188.80M40.40 184.41L61.70 184.41M40.40 188.80L61.70 188.80M39.30 177.82L39.30 186.61M39.30 177.82L46.30 177.82M39.30 186.61L40.40 186.61M30.40 157.78L30.40 182.21M30.40 157.78L39.70 157.78M30.40 182.21L39.30 182.21M28.30 134.71L28.30 169.99M28.30 134.71L37.40 134.71M28.30 169.99L30.40 169.99M39.30 196.70L39.30 201.11M39.30 196.70L61.70 196.70M39.30 201.11L61.70 201.11M44.40 205.52L44.40 209.93M44.40 205.52L61.70 205.52M44.40 209.93L61.70 209.93M45.80 214.34L45.80 218.75M45.80 214.34L61.70 214.34M45.80 218.75L61.70 218.75M42.20 223.15L42.20 227.56M42.20 223.15L61.70 223.15M42.20 227.56L61.70 227.56M41.10 216.54L41.10 225.36M41.10 216.54L45.80 216.54M41.10 225.36L42.20 225.36M43.90 240.79L43.90 245.20M43.90 240.79L61.70 240.79M43.90 245.20L61.70 245.20M43.50 236.38L43.50 242.99M43.50 236.38L61.70 236.38M43.50 242.99L43.90 242.99M40.20 231.97L40.20 239.69M40.20 231.97L61.70 231.97M40.20 239.69L43.50 239.69M35.30 220.95L35.30 235.83M35.30 220.95L41.10 220.95M35.30 235.83L40.20 235.83M34.40 207.73L34.40 228.39M34.40 207.73L44.40 207.73M34.40 228.39L35.30 228.39M30.10 198.91L30.10 218.06M30.10 198.91L39.30 198.91M30.10 218.06L34.40 218.06M4.40 35.71L4.40 82.63M4.40 35.71L15.40 35.71M4.40 82.63L16.60 82.63M8.40 152.35L8.40 208.48M8.40 152.35L28.30 152.35M8.40 208.48L30.10 208.48M1.10 59.17L1.10 180.42M1.10 59.17L4.40 59.17M1.10 180.42L8.40 180.42" stroke="#000" stroke-width="1.05" fill="none" stroke-linecap="square"/>
<path d="M14 18V226" stroke="#c8c8c8" stroke-width="1" stroke-dasharray="1 2.7"/>
<text x="73.80" y="251.00" font-size="12.00" text-anchor="end" fill="#000" font-weight="bold" transform="rotate(-90 73.8 251.0)">BPM</text>
<text x="571.50" y="54.60" font-size="12.00" text-anchor="start" fill="#000" font-weight="bold">BPM</text>
<rect x="571.9" y="61.90" width="12.4" height="12.4" fill="#00468b"/>
<text x="588.40" y="72.40" font-size="12.00" text-anchor="start" fill="#000" font-weight="normal">A</text>
<rect x="571.9" y="75.70" width="12.4" height="12.4" fill="#0099b4"/>
<text x="588.40" y="86.20" font-size="12.00" text-anchor="start" fill="#000" font-weight="normal">C</text>
<rect x="571.9" y="89.50" width="12.4" height="12.4" fill="#925e9f"/>
<text x="588.40" y="100.00" font-size="12.00" text-anchor="start" fill="#000" font-weight="normal">G</text>
<rect x="571.9" y="103.30" width="12.4" height="12.4" fill="#fdaf91"/>
<text x="588.40" y="113.80" font-size="12.00" text-anchor="start" fill="#000" font-weight="normal">T</text>
<text x="628.30" y="54.60" font-size="12.00" text-anchor="start" fill="#000" font-weight="bold">Group</text>
<rect x="628.4" y="62.20" width="12.4" height="12.4" fill="#0571b0"/>
<text x="645.20" y="72.70" font-size="12.00" text-anchor="start" fill="#000" font-weight="normal">Normal</text>
<rect x="628.4" y="76.00" width="12.4" height="12.4" fill="#ca0020"/>
<text x="645.20" y="86.50" font-size="12.00" text-anchor="start" fill="#000" font-weight="normal">Tumor</text>
<text x="571.50" y="139.70" font-size="12.00" text-anchor="start" fill="#000" font-weight="bold">Scaled</text>
<text x="571.50" y="154.30" font-size="12.00" text-anchor="start" fill="#000" font-weight="bold">proportion</text>
<defs><linearGradient id="cb" x1="0" y1="0" x2="0" y2="1"><stop offset="0.0409" stop-color="#da5c5c"/><stop offset="0.0984" stop-color="#df6f6e"/><stop offset="0.1559" stop-color="#e48280"/><stop offset="0.2133" stop-color="#e89492"/><stop offset="0.2708" stop-color="#eba7a5"/><stop offset="0.3283" stop-color="#eebab8"/><stop offset="0.3857" stop-color="#f0cccc"/><stop offset="0.4432" stop-color="#efdcde"/><stop offset="0.5007" stop-color="#eeebf0"/><stop offset="0.5582" stop-color="#dcdbea"/><stop offset="0.6156" stop-color="#cbcbe4"/><stop offset="0.6731" stop-color="#b6b6d9"/><stop offset="0.7306" stop-color="#a2a2ce"/><stop offset="0.7880" stop-color="#8b8ac3"/><stop offset="0.8455" stop-color="#7472b8"/><stop offset="0.9030" stop-color="#5a57aa"/><stop offset="0.9604" stop-color="#403c9c"/></linearGradient></defs>
<rect x="570.9" y="162.0" width="14.8" height="73.3" fill="url(#cb)"/>
<path d="M570.9 165.00h3M582.7 165.00h3" stroke="#fff" stroke-width="1"/>
<text x="588.40" y="169.30" font-size="12.00" text-anchor="start" fill="#000" font-weight="normal">4</text>
<path d="M570.9 181.85h3M582.7 181.85h3" stroke="#fff" stroke-width="1"/>
<text x="588.40" y="186.15" font-size="12.00" text-anchor="start" fill="#000" font-weight="normal">2</text>
<path d="M570.9 198.70h3M582.7 198.70h3" stroke="#fff" stroke-width="1"/>
<text x="588.40" y="203.00" font-size="12.00" text-anchor="start" fill="#000" font-weight="normal">0</text>
<path d="M570.9 215.55h3M582.7 215.55h3" stroke="#fff" stroke-width="1"/>
<text x="588.40" y="219.85" font-size="12.00" text-anchor="start" fill="#000" font-weight="normal">−2</text>
<path d="M570.9 232.40h3M582.7 232.40h3" stroke="#fff" stroke-width="1"/>
<text x="588.40" y="236.70" font-size="12.00" text-anchor="start" fill="#000" font-weight="normal">−4</text>
<text x="0.80" y="302.60" font-size="16.80" text-anchor="start" fill="#000" font-weight="bold">B</text>
<path d="M62.70 351.00H335.50" stroke="#ebebeb" stroke-width="0.55"/>
<path d="M62.70 413.70H335.50" stroke="#ebebeb" stroke-width="0.55"/>
<path d="M62.70 476.40H335.50" stroke="#ebebeb" stroke-width="0.55"/>
<path d="M62.70 319.50H335.50" stroke="#ebebeb" stroke-width="1.07"/>
<path d="M62.70 382.30H335.50" stroke="#ebebeb" stroke-width="1.07"/>
<path d="M62.70 445.00H335.50" stroke="#ebebeb" stroke-width="1.07"/>
<path d="M62.70 507.80H335.50" stroke="#ebebeb" stroke-width="1.07"/>
<path d="M137.10 291.50V535.50" stroke="#ebebeb" stroke-width="1.07"/>
<path d="M261.10 291.50V535.50" stroke="#ebebeb" stroke-width="1.07"/>
<path d="M137.1 395V446.3M137.1 481.4V525.8M261.1 301.9V362M261.1 425.4V464.2" stroke="#2a2a2a" stroke-width="1.25"/>
<rect x="90.6" y="446.3" width="93.0" height="35.1" fill="#0571b0" stroke="#333" stroke-width="1.07"/>
<rect x="214.5" y="362.0" width="93.2" height="63.4" fill="#ca0020" stroke="#333" stroke-width="1.07"/>
<path d="M90.6 464.9H183.6M214.5 394.2H307.7" stroke="#333" stroke-width="2.1"/>
<g fill="#000" fill-opacity="0.7"><circle cx="136.7" cy="375.3" r="2.6"/><circle cx="142.5" cy="375.3" r="2.6"/><circle cx="159.4" cy="394.5" r="2.6"/><circle cx="169.3" cy="401.1" r="2.6"/><circle cx="138.8" cy="406.7" r="2.6"/><circle cx="126.4" cy="411.9" r="2.6"/><circle cx="169.6" cy="411.9" r="2.6"/><circle cx="105.4" cy="414.3" r="2.6"/><circle cx="125.1" cy="415.4" r="2.6"/><circle cx="130.4" cy="417.2" r="2.6"/><circle cx="164.2" cy="416.4" r="2.6"/><circle cx="119.0" cy="418.6" r="2.6"/><circle cx="123.2" cy="422.6" r="2.6"/><circle cx="145.2" cy="424.2" r="2.6"/><circle cx="159.4" cy="424.1" r="2.6"/><circle cx="150.0" cy="427.1" r="2.6"/><circle cx="115.5" cy="430.7" r="2.6"/><circle cx="110.7" cy="433.1" r="2.6"/><circle cx="151.2" cy="430.2" r="2.6"/><circle cx="153.7" cy="429.5" r="2.6"/><circle cx="156.5" cy="430.3" r="2.6"/><circle cx="136.4" cy="434.2" r="2.6"/><circle cx="141.5" cy="436.3" r="2.6"/><circle cx="108.3" cy="439.5" r="2.6"/><circle cx="161.4" cy="437.6" r="2.6"/><circle cx="124.8" cy="441.1" r="2.6"/><circle cx="113.0" cy="446.2" r="2.6"/><circle cx="134.5" cy="444.3" r="2.6"/><circle cx="153.3" cy="444.3" r="2.6"/><circle cx="157.7" cy="446.2" r="2.6"/><circle cx="104.3" cy="448.8" r="2.6"/><circle cx="131.6" cy="448.0" r="2.6"/><circle cx="143.6" cy="450.9" r="2.6"/><circle cx="147.6" cy="453.6" r="2.6"/><circle cx="118.7" cy="452.0" r="2.6"/><circle cx="121.1" cy="455.3" r="2.6"/><circle cx="131.6" cy="452.8" r="2.6"/><circle cx="112.3" cy="456.5" r="2.6"/><circle cx="127.6" cy="458.5" r="2.6"/><circle cx="132.4" cy="459.3" r="2.6"/><circle cx="148.4" cy="458.5" r="2.6"/><circle cx="154.9" cy="460.1" r="2.6"/><circle cx="167.7" cy="450.4" r="2.6"/><circle cx="164.2" cy="459.0" r="2.6"/><circle cx="168.2" cy="458.0" r="2.6"/><circle cx="101.1" cy="460.9" r="2.6"/><circle cx="135.6" cy="461.7" r="2.6"/><circle cx="133.2" cy="464.1" r="2.6"/><circle cx="172.5" cy="463.3" r="2.6"/><circle cx="105.9" cy="465.4" r="2.6"/><circle cx="117.1" cy="466.0" r="2.6"/><circle cx="151.6" cy="464.9" r="2.6"/><circle cx="154.9" cy="465.7" r="2.6"/><circle cx="170.9" cy="467.3" r="2.6"/><circle cx="123.2" cy="469.7" r="2.6"/><circle cx="128.0" cy="469.7" r="2.6"/><circle cx="133.2" cy="469.2" r="2.6"/><circle cx="139.3" cy="470.2" r="2.6"/><circle cx="154.1" cy="468.9" r="2.6"/><circle cx="168.5" cy="469.7" r="2.6"/><circle cx="169.3" cy="472.1" r="2.6"/><circle cx="138.0" cy="473.7" r="2.6"/><circle cx="133.5" cy="475.0" r="2.6"/><circle cx="154.4" cy="472.9" r="2.6"/><circle cx="101.9" cy="477.7" r="2.6"/><circle cx="105.9" cy="476.9" r="2.6"/><circle cx="114.4" cy="477.7" r="2.6"/><circle cx="138.8" cy="477.7" r="2.6"/><circle cx="153.3" cy="478.2" r="2.6"/><circle cx="155.7" cy="479.3" r="2.6"/><circle cx="123.5" cy="479.3" r="2.6"/><circle cx="126.8" cy="482.1" r="2.6"/><circle cx="131.6" cy="482.6" r="2.6"/><circle cx="101.1" cy="483.0" r="2.6"/><circle cx="123.5" cy="485.8" r="2.6"/><circle cx="105.1" cy="487.4" r="2.6"/><circle cx="150.8" cy="488.2" r="2.6"/><circle cx="154.1" cy="491.4" r="2.6"/><circle cx="128.4" cy="492.2" r="2.6"/><circle cx="114.7" cy="493.3" r="2.6"/><circle cx="105.1" cy="494.3" r="2.6"/><circle cx="162.6" cy="493.5" r="2.6"/><circle cx="99.5" cy="496.2" r="2.6"/><circle cx="127.1" cy="496.2" r="2.6"/><circle cx="155.7" cy="499.3" r="2.6"/><circle cx="150.5" cy="502.2" r="2.6"/><circle cx="111.2" cy="502.0" r="2.6"/><circle cx="137.2" cy="505.7" r="2.6"/><circle cx="169.6" cy="504.9" r="2.6"/><circle cx="108.0" cy="508.9" r="2.6"/><circle cx="101.1" cy="510.5" r="2.6"/><circle cx="153.6" cy="509.2" r="2.6"/><circle cx="134.8" cy="512.6" r="2.6"/><circle cx="143.6" cy="512.4" r="2.6"/><circle cx="144.1" cy="516.6" r="2.6"/><circle cx="105.4" cy="524.5" r="2.6"/><circle cx="137.2" cy="524.5" r="2.6"/><circle cx="120.5" cy="454.8" r="2.6"/><circle cx="154.3" cy="478.8" r="2.6"/><circle cx="154.0" cy="489.8" r="2.6"/><circle cx="101.6" cy="461.5" r="2.6"/><circle cx="134.0" cy="462.5" r="2.6"/><circle cx="169.0" cy="471.0" r="2.6"/><circle cx="131.6" cy="450.0" r="2.6"/><circle cx="106.0" cy="477.5" r="2.6"/><circle cx="224.3" cy="302.0" r="2.6"/><circle cx="246.1" cy="318.1" r="2.6"/><circle cx="277.3" cy="324.5" r="2.6"/><circle cx="225.4" cy="330.1" r="2.6"/><circle cx="236.0" cy="336.9" r="2.6"/><circle cx="263.1" cy="336.3" r="2.6"/><circle cx="297.5" cy="333.7" r="2.6"/><circle cx="240.0" cy="349.1" r="2.6"/><circle cx="261.5" cy="361.8" r="2.6"/><circle cx="283.7" cy="362.3" r="2.6"/><circle cx="260.9" cy="366.7" r="2.6"/><circle cx="253.5" cy="371.8" r="2.6"/><circle cx="265.7" cy="371.1" r="2.6"/><circle cx="252.4" cy="387.6" r="2.6"/><circle cx="266.3" cy="386.0" r="2.6"/><circle cx="274.4" cy="393.2" r="2.6"/><circle cx="290.1" cy="392.4" r="2.6"/><circle cx="297.7" cy="394.2" r="2.6"/><circle cx="255.3" cy="396.9" r="2.6"/><circle cx="284.5" cy="405.3" r="2.6"/><circle cx="285.6" cy="409.0" r="2.6"/><circle cx="251.3" cy="409.3" r="2.6"/><circle cx="245.5" cy="416.2" r="2.6"/><circle cx="270.8" cy="419.4" r="2.6"/><circle cx="226.7" cy="423.4" r="2.6"/><circle cx="297.8" cy="423.1" r="2.6"/><circle cx="275.2" cy="426.3" r="2.6"/><circle cx="252.4" cy="429.5" r="2.6"/><circle cx="266.5" cy="431.0" r="2.6"/><circle cx="270.0" cy="434.2" r="2.6"/><circle cx="290.9" cy="434.2" r="2.6"/><circle cx="239.2" cy="437.6" r="2.6"/><circle cx="297.8" cy="439.0" r="2.6"/><circle cx="224.3" cy="464.8" r="2.6"/><circle cx="257.7" cy="464.2" r="2.6"/></g>
<rect x="62.70" y="291.50" width="272.80" height="244.00" fill="none" stroke="#333" stroke-width="1.07"/>
<text x="110.60" y="302.50" font-size="13.20" text-anchor="start" fill="#000" font-weight="normal">Wilcoxon, p = 7.3e−14</text>
<path d="M59.3 319.50H62.70" stroke="#333" stroke-width="1.07"/>
<text x="56.00" y="323.70" font-size="10.90" text-anchor="end" fill="#4d4d4d" font-weight="normal">0.00045</text>
<path d="M59.3 382.30H62.70" stroke="#333" stroke-width="1.07"/>
<text x="56.00" y="386.50" font-size="10.90" text-anchor="end" fill="#4d4d4d" font-weight="normal">0.00040</text>
<path d="M59.3 445.00H62.70" stroke="#333" stroke-width="1.07"/>
<text x="56.00" y="449.20" font-size="10.90" text-anchor="end" fill="#4d4d4d" font-weight="normal">0.00035</text>
<path d="M59.3 507.80H62.70" stroke="#333" stroke-width="1.07"/>
<text x="56.00" y="512.00" font-size="10.90" text-anchor="end" fill="#4d4d4d" font-weight="normal">0.00030</text>
<path d="M137.10 535.50V538.70" stroke="#333" stroke-width="1.07"/>
<text x="137.10" y="550.10" font-size="10.90" text-anchor="middle" fill="#4d4d4d" font-weight="normal">Normal</text>
<path d="M261.10 535.50V538.70" stroke="#333" stroke-width="1.07"/>
<text x="261.10" y="550.10" font-size="10.90" text-anchor="middle" fill="#4d4d4d" font-weight="normal">Tumor</text>
<text x="10.00" y="413.50" font-size="13.20" text-anchor="middle" fill="#000" font-weight="normal" transform="rotate(-90 10.0 413.5)">Percentage of GCTCAC</text>
<text x="348.90" y="302.40" font-size="16.80" text-anchor="start" fill="#000" font-weight="bold">C</text>
<path d="M410.40 291.40V535.60H684.30" stroke="#000" stroke-width="1.07" fill="none"/>
<path d="M407.20 302.20H410.40" stroke="#333" stroke-width="1.07"/>
<text x="404.30" y="306.40" font-size="10.90" text-anchor="end" fill="#4d4d4d" font-weight="normal">1.00</text>
<path d="M422.80 535.60V538.80" stroke="#333" stroke-width="1.07"/>
<text x="422.80" y="549.60" font-size="10.90" text-anchor="middle" fill="#4d4d4d" font-weight="normal">1.00</text>
<path d="M407.20 357.80H410.40" stroke="#333" stroke-width="1.07"/>
<text x="404.30" y="362.00" font-size="10.90" text-anchor="end" fill="#4d4d4d" font-weight="normal">0.75</text>
<path d="M485.00 535.60V538.80" stroke="#333" stroke-width="1.07"/>
<text x="485.00" y="549.60" font-size="10.90" text-anchor="middle" fill="#4d4d4d" font-weight="normal">0.75</text>
<path d="M407.20 413.40H410.40" stroke="#333" stroke-width="1.07"/>
<text x="404.30" y="417.60" font-size="10.90" text-anchor="end" fill="#4d4d4d" font-weight="normal">0.50</text>
<path d="M547.20 535.60V538.80" stroke="#333" stroke-width="1.07"/>
<text x="547.20" y="549.60" font-size="10.90" text-anchor="middle" fill="#4d4d4d" font-weight="normal">0.50</text>
<path d="M407.20 469.00H410.40" stroke="#333" stroke-width="1.07"/>
<text x="404.30" y="473.20" font-size="10.90" text-anchor="end" fill="#4d4d4d" font-weight="normal">0.25</text>
<path d="M609.40 535.60V538.80" stroke="#333" stroke-width="1.07"/>
<text x="609.40" y="549.60" font-size="10.90" text-anchor="middle" fill="#4d4d4d" font-weight="normal">0.25</text>
<path d="M407.20 524.60H410.40" stroke="#333" stroke-width="1.07"/>
<text x="404.30" y="528.80" font-size="10.90" text-anchor="end" fill="#4d4d4d" font-weight="normal">0.00</text>
<path d="M671.60 535.60V538.80" stroke="#333" stroke-width="1.07"/>
<text x="671.60" y="549.60" font-size="10.90" text-anchor="middle" fill="#4d4d4d" font-weight="normal">0.00</text>
<text x="359.20" y="413.50" font-size="13.20" text-anchor="middle" fill="#000" font-weight="normal" transform="rotate(-90 359.20 413.50)">sensitivity</text>
<text x="547.35" y="564.70" font-size="13.20" text-anchor="middle" fill="#000" font-weight="normal">specificity</text>
<path d="M422.80 524.60L671.60 302.20" stroke="#999" stroke-width="1.3" fill="none" stroke-dasharray="1.5 3.85 5.3 3.95"/>
<path d="M422.80 524.60L422.80 441.70L424.90 441.70L424.90 410.10L427.10 410.10L427.10 403.90L429.20 403.90L429.20 397.60L432.00 397.60L432.00 384.50L440.70 384.50L440.70 378.30L447.70 378.30L447.70 372.10L449.70 372.10L449.70 359.00L454.50 359.00L454.50 352.80L456.50 352.80L456.50 346.50L465.80 346.50L465.80 340.30L468.10 340.30L468.10 333.90L470.10 333.90L470.10 327.60L475.00 327.60L475.00 314.80L545.20 314.80L545.20 308.50L547.10 308.50L547.10 302.20L671.60 302.20" stroke="#1f5596" stroke-width="1.55" fill="none" stroke-linejoin="round"/>
<text x="588.60" y="430.70" font-size="13.30" text-anchor="end" fill="#1f5596" font-weight="normal">motif GCTCAC</text>
<text x="588.60" y="449.50" font-size="13.30" text-anchor="end" fill="#1f5596" font-weight="normal">AUC = 0.9208</text>
<text x="0.60" y="592.50" font-size="16.80" text-anchor="start" fill="#000" font-weight="bold">D</text>
<path d="M62.00 581.50V825.70H335.90" stroke="#000" stroke-width="1.07" fill="none"/>
<path d="M58.80 592.20H62.00" stroke="#333" stroke-width="1.07"/>
<text x="56.70" y="596.40" font-size="10.90" text-anchor="end" fill="#4d4d4d" font-weight="normal">1.00</text>
<path d="M74.70 825.70V828.90" stroke="#333" stroke-width="1.07"/>
<text x="74.70" y="839.30" font-size="10.90" text-anchor="middle" fill="#4d4d4d" font-weight="normal">1.00</text>
<path d="M58.80 647.78H62.00" stroke="#333" stroke-width="1.07"/>
<text x="56.70" y="651.98" font-size="10.90" text-anchor="end" fill="#4d4d4d" font-weight="normal">0.75</text>
<path d="M136.90 825.70V828.90" stroke="#333" stroke-width="1.07"/>
<text x="136.90" y="839.30" font-size="10.90" text-anchor="middle" fill="#4d4d4d" font-weight="normal">0.75</text>
<path d="M58.80 703.35H62.00" stroke="#333" stroke-width="1.07"/>
<text x="56.70" y="707.55" font-size="10.90" text-anchor="end" fill="#4d4d4d" font-weight="normal">0.50</text>
<path d="M199.10 825.70V828.90" stroke="#333" stroke-width="1.07"/>
<text x="199.10" y="839.30" font-size="10.90" text-anchor="middle" fill="#4d4d4d" font-weight="normal">0.50</text>
<path d="M58.80 758.92H62.00" stroke="#333" stroke-width="1.07"/>
<text x="56.70" y="763.12" font-size="10.90" text-anchor="end" fill="#4d4d4d" font-weight="normal">0.25</text>
<path d="M261.30 825.70V828.90" stroke="#333" stroke-width="1.07"/>
<text x="261.30" y="839.30" font-size="10.90" text-anchor="middle" fill="#4d4d4d" font-weight="normal">0.25</text>
<path d="M58.80 814.50H62.00" stroke="#333" stroke-width="1.07"/>
<text x="56.70" y="818.70" font-size="10.90" text-anchor="end" fill="#4d4d4d" font-weight="normal">0.00</text>
<path d="M323.50 825.70V828.90" stroke="#333" stroke-width="1.07"/>
<text x="323.50" y="839.30" font-size="10.90" text-anchor="middle" fill="#4d4d4d" font-weight="normal">0.00</text>
<text x="11.20" y="703.60" font-size="13.20" text-anchor="middle" fill="#000" font-weight="normal" transform="rotate(-90 11.20 703.60)">sensitivity</text>
<text x="198.95" y="853.50" font-size="13.20" text-anchor="middle" fill="#000" font-weight="normal">specificity</text>
<path d="M74.70 814.50L323.50 592.20" stroke="#999" stroke-width="1.3" fill="none" stroke-dasharray="1.5 3.85 5.3 3.95"/>
<path d="M74.80 814.50L74.80 688.00L75.60 675.00L76.50 662.00L77.50 651.00L78.20 645.00L79.20 639.10L80.60 629.40L82.70 621.00L84.80 614.00L87.90 607.70L91.40 603.10L94.60 600.00L97.40 597.50L100.80 596.00L104.80 594.60L108.80 593.50L113.90 592.60L120.00 592.30L323.50 592.20" stroke="#1f5596" stroke-width="1.55" fill="none" stroke-linejoin="round"/>
<path d="M74.70 814.50L74.70 690.00L74.80 660.00L74.90 646.00L75.20 635.00L75.90 628.00L76.30 621.00L77.10 612.60L77.80 605.60L78.60 600.50L80.00 597.50L81.60 595.40L86.20 593.30L91.10 592.40L96.00 592.10L323.50 592.20" stroke="#e3141c" stroke-width="1.55" fill="none" stroke-linejoin="round"/>
<text x="199.10" y="652.60" font-size="13.30" text-anchor="middle" fill="#1a1a1a" font-weight="normal">Fragmentomics model</text>
<text x="199.10" y="676.30" font-size="13.30" text-anchor="middle" fill="#4f7fb9" font-weight="normal">Test set AUC = 0.987</text>
<text x="199.10" y="695.50" font-size="13.30" text-anchor="middle" fill="#4f7fb9" font-weight="normal">95% CI ( 0.9836 − 0.9904 )</text>
<text x="199.10" y="709.60" font-size="13.30" text-anchor="middle" fill="#ef5257" font-weight="normal">Validation set AUC = 0.9973</text>
<text x="199.10" y="728.60" font-size="13.30" text-anchor="middle" fill="#ef5257" font-weight="normal">95% CI ( 0.9963 − 0.9982 )</text>
<text x="348.40" y="592.60" font-size="16.80" text-anchor="start" fill="#000" font-weight="bold">E</text>
<path d="M410.40 581.50V825.70H684.30" stroke="#000" stroke-width="1.07" fill="none"/>
<path d="M407.20 592.20H410.40" stroke="#333" stroke-width="1.07"/>
<text x="404.30" y="596.40" font-size="10.90" text-anchor="end" fill="#4d4d4d" font-weight="normal">1.00</text>
<path d="M422.80 825.70V828.90" stroke="#333" stroke-width="1.07"/>
<text x="422.80" y="839.30" font-size="10.90" text-anchor="middle" fill="#4d4d4d" font-weight="normal">1.00</text>
<path d="M407.20 647.78H410.40" stroke="#333" stroke-width="1.07"/>
<text x="404.30" y="651.98" font-size="10.90" text-anchor="end" fill="#4d4d4d" font-weight="normal">0.75</text>
<path d="M485.00 825.70V828.90" stroke="#333" stroke-width="1.07"/>
<text x="485.00" y="839.30" font-size="10.90" text-anchor="middle" fill="#4d4d4d" font-weight="normal">0.75</text>
<path d="M407.20 703.35H410.40" stroke="#333" stroke-width="1.07"/>
<text x="404.30" y="707.55" font-size="10.90" text-anchor="end" fill="#4d4d4d" font-weight="normal">0.50</text>
<path d="M547.20 825.70V828.90" stroke="#333" stroke-width="1.07"/>
<text x="547.20" y="839.30" font-size="10.90" text-anchor="middle" fill="#4d4d4d" font-weight="normal">0.50</text>
<path d="M407.20 758.92H410.40" stroke="#333" stroke-width="1.07"/>
<text x="404.30" y="763.12" font-size="10.90" text-anchor="end" fill="#4d4d4d" font-weight="normal">0.25</text>
<path d="M609.40 825.70V828.90" stroke="#333" stroke-width="1.07"/>
<text x="609.40" y="839.30" font-size="10.90" text-anchor="middle" fill="#4d4d4d" font-weight="normal">0.25</text>
<path d="M407.20 814.50H410.40" stroke="#333" stroke-width="1.07"/>
<text x="404.30" y="818.70" font-size="10.90" text-anchor="end" fill="#4d4d4d" font-weight="normal">0.00</text>
<path d="M671.60 825.70V828.90" stroke="#333" stroke-width="1.07"/>
<text x="671.60" y="839.30" font-size="10.90" text-anchor="middle" fill="#4d4d4d" font-weight="normal">0.00</text>
<text x="359.20" y="703.60" font-size="13.20" text-anchor="middle" fill="#000" font-weight="normal" transform="rotate(-90 359.20 703.60)">sensitivity</text>
<text x="547.35" y="853.50" font-size="13.20" text-anchor="middle" fill="#000" font-weight="normal">specificity</text>
<path d="M422.80 814.50L671.60 592.20" stroke="#999" stroke-width="1.3" fill="none" stroke-dasharray="1.5 3.85 5.3 3.95"/>
<path d="M423.10 813.70L423.10 697.50L424.90 684.00L426.40 672.00L428.30 659.70L430.10 653.10L432.90 642.90L435.20 635.40L437.10 628.90L439.40 623.80L442.70 620.00L445.00 617.70L449.70 614.40L453.90 613.00L458.00 612.10L461.10 611.80L471.60 610.60L480.00 610.20L489.10 609.30L509.90 606.50L539.90 603.00L569.80 600.00L599.70 597.00L629.70 594.60L671.60 592.20" stroke="#1f5596" stroke-width="1.55" fill="none" stroke-linejoin="round"/>
<path d="M423.10 813.70L423.20 720.00L423.50 700.00L424.20 680.00L425.40 660.00L426.40 638.20L427.80 627.00L429.70 617.70L432.90 606.50L434.80 600.00L437.00 597.00L440.00 594.50L447.10 592.50L458.00 592.30L671.60 592.20" stroke="#e3141c" stroke-width="1.55" fill="none" stroke-linejoin="round"/>
<path d="M423.10 813.70L423.30 760.00L423.50 706.00L423.80 684.00L424.70 662.00L425.90 640.00L426.60 628.00L427.30 618.60L428.70 614.90L430.60 609.30L432.90 605.60L435.20 599.10L438.00 595.80L442.20 593.50L448.80 592.50L458.00 592.30L671.60 592.20" stroke="#4fa843" stroke-width="1.55" fill="none" stroke-linejoin="round"/>
<text x="547.20" y="636.80" font-size="13.30" text-anchor="middle" fill="#7cc576" font-weight="normal">Combine Model AUC = 0.9924</text>
<text x="547.20" y="655.80" font-size="13.30" text-anchor="middle" fill="#7cc576" font-weight="normal">95% CI ( 0.9909 − 0.9938 )</text>
<text x="547.20" y="676.20" font-size="13.30" text-anchor="middle" fill="#ef5257" font-weight="normal">Fragmentomics Model AUC = 0.9913</text>
<text x="547.20" y="695.00" font-size="13.30" text-anchor="middle" fill="#ef5257" font-weight="normal">95% CI ( 0.9896 − 0.9929 )</text>
<text x="547.20" y="715.60" font-size="13.30" text-anchor="middle" fill="#5a86bc" font-weight="normal">Methylation Model AUC = 0.9328</text>
<text x="547.20" y="734.40" font-size="13.30" text-anchor="middle" fill="#5a86bc" font-weight="normal">95% CI ( 0.9232 − 0.9425 )</text>
</svg></body></html>
